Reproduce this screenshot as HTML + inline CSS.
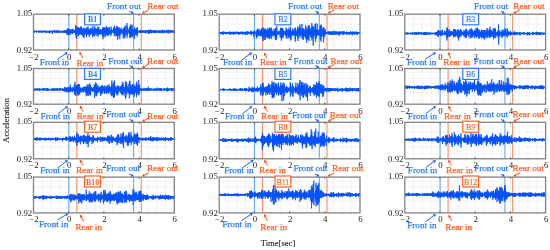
<!DOCTYPE html>
<html><head><meta charset="utf-8"><style>
html,body{margin:0;padding:0;background:#fff;width:550px;height:250px;overflow:hidden}
svg{display:block}
</style></head><body>
<svg width="550" height="250" viewBox="0 0 550 250" font-family="'Liberation Serif', 'DejaVu Serif', serif"><rect x="0" y="0" width="550" height="250" fill="#fff"/>
<line x1="42.30" y1="14.20" x2="42.30" y2="50.00" stroke="#ebebeb" stroke-width="0.7"/>
<line x1="51.10" y1="14.20" x2="51.10" y2="50.00" stroke="#ebebeb" stroke-width="0.7"/>
<line x1="59.90" y1="14.20" x2="59.90" y2="50.00" stroke="#ebebeb" stroke-width="0.7"/>
<line x1="68.70" y1="14.20" x2="68.70" y2="50.00" stroke="#ebebeb" stroke-width="0.7"/>
<line x1="77.50" y1="14.20" x2="77.50" y2="50.00" stroke="#ebebeb" stroke-width="0.7"/>
<line x1="86.30" y1="14.20" x2="86.30" y2="50.00" stroke="#ebebeb" stroke-width="0.7"/>
<line x1="95.10" y1="14.20" x2="95.10" y2="50.00" stroke="#ebebeb" stroke-width="0.7"/>
<line x1="103.90" y1="14.20" x2="103.90" y2="50.00" stroke="#ebebeb" stroke-width="0.7"/>
<line x1="112.70" y1="14.20" x2="112.70" y2="50.00" stroke="#ebebeb" stroke-width="0.7"/>
<line x1="121.50" y1="14.20" x2="121.50" y2="50.00" stroke="#ebebeb" stroke-width="0.7"/>
<line x1="130.30" y1="14.20" x2="130.30" y2="50.00" stroke="#ebebeb" stroke-width="0.7"/>
<line x1="139.10" y1="14.20" x2="139.10" y2="50.00" stroke="#ebebeb" stroke-width="0.7"/>
<line x1="147.90" y1="14.20" x2="147.90" y2="50.00" stroke="#ebebeb" stroke-width="0.7"/>
<line x1="156.70" y1="14.20" x2="156.70" y2="50.00" stroke="#ebebeb" stroke-width="0.7"/>
<line x1="165.50" y1="14.20" x2="165.50" y2="50.00" stroke="#ebebeb" stroke-width="0.7"/>
<line x1="33.50" y1="18.20" x2="174.30" y2="18.20" stroke="#f4f4f4" stroke-width="0.7"/>
<line x1="33.50" y1="24.00" x2="174.30" y2="24.00" stroke="#ebebeb" stroke-width="0.7"/>
<line x1="33.50" y1="38.20" x2="174.30" y2="38.20" stroke="#ebebeb" stroke-width="0.7"/>
<line x1="33.50" y1="45.20" x2="174.30" y2="45.20" stroke="#f4f4f4" stroke-width="0.7"/>
<line x1="68.80" y1="14.20" x2="68.80" y2="50.00" stroke="#6fa8f5" stroke-width="1.15"/>
<line x1="76.80" y1="14.20" x2="76.80" y2="50.00" stroke="#f7946a" stroke-width="1.15"/>
<line x1="133.60" y1="14.20" x2="133.60" y2="50.00" stroke="#6fa8f5" stroke-width="1.15"/>
<line x1="141.30" y1="14.20" x2="141.30" y2="50.00" stroke="#f7946a" stroke-width="1.15"/>
<polyline transform="translate(33.50,31.60) scale(0.140941,0.1)" points="0,-1 1,3 2,-1 3,11 4,-12 5,10 6,-13 7,3 8,-1 9,-1 10,4 11,-5 12,5 13,-2 14,-1 15,-2 16,1 17,0 18,4 19,5 20,-11 21,9 22,0 23,-1 24,0 25,-2 26,4 27,-5 28,1 29,1 30,-2 31,-2 32,2 33,-7 34,5 35,-9 36,7 37,-7 38,-1 39,8 40,-7 41,8 42,2 43,1 44,-4 45,-7 46,8 47,-9 48,5 49,-6 50,4 51,-3 52,2 53,4 54,-4 55,8 56,-8 57,10 58,-10 59,10 60,-7 61,3 62,5 63,-6 64,8 65,-5 66,6 67,-1 68,-3 69,6 70,-8 71,3 72,1 73,-3 74,2 75,-12 76,7 77,-6 78,-4 79,2 80,-3 81,9 82,-8 83,5 84,6 85,-9 86,6 87,-4 88,9 89,0 90,-3 91,7 92,-7 93,8 94,-6 95,2 96,-8 97,9 98,-6 99,6 100,-4 101,8 102,-4 103,-4 104,7 105,-7 106,7 107,-5 108,5 109,-2 110,5 111,-8 112,-1 113,18 114,-12 115,11 116,-11 117,7 118,-5 119,-5 120,7 121,-5 122,3 123,-3 124,3 125,-7 126,-1 127,4 128,-4 129,7 130,-2 131,-8 132,7 133,-5 134,23 135,-4 136,1 137,11 138,-13 139,5 140,1 141,-8 142,4 143,-5 144,4 145,-2 146,1 147,-4 148,7 149,-17 150,8 151,-10 152,-3 153,7 154,-8 155,10 156,-6 157,6 158,-5 159,8 160,-9 161,8 162,-3 163,0 164,7 165,-3 166,-4 167,4 168,-16 169,15 170,-16 171,11 172,-11 173,14 174,-9 175,6 176,-2 177,-3 178,13 179,-12 180,5 181,-4 182,0 183,7 184,-5 185,4 186,-2 187,-4 188,7 189,-4 190,-6 191,13 192,-10 193,3 194,2 195,-4 196,5 197,-4 198,5 199,-4 200,-6 201,10 202,-1 203,-4 204,8 205,-5 206,7 207,-8 208,5 209,-5 210,7 211,-8 212,10 213,-3 214,-10 215,6 216,-6 217,10 218,-8 219,9 220,-12 221,8 222,-9 223,8 224,-8 225,-1 226,11 227,-11 228,0 229,8 230,-10 231,8 232,-11 233,8 234,-8 235,9 236,-11 237,30 238,-19 239,-5 240,23 241,-24 242,31 243,-33 244,29 245,-7 246,-30 247,27 248,-3 249,-8 250,15 251,-23 252,39 253,-14 254,-21 255,15 256,-11 257,8 258,-2 259,8 260,-11 261,21 262,-14 263,-18 264,29 265,-27 266,12 267,-21 268,12 269,-9 270,-12 271,14 272,-8 273,5 274,4 275,-19 276,24 277,-20 278,10 279,-21 280,13 281,0 282,-27 283,14 284,3 285,1 286,5 287,-8 288,8 289,-8 290,2 291,-4 292,-17 293,16 294,-5 295,9 296,-13 297,-14 298,34 299,-67 300,32 301,9 302,-57 303,62 304,-13 305,-11 306,74 307,-39 308,22 309,15 310,-29 311,23 312,-42 313,-1 314,1 315,-4 316,27 317,-48 318,47 319,-20 320,16 321,-33 322,8 323,-39 324,32 325,-4 326,-15 327,22 328,-25 329,30 330,-37 331,12 332,-24 333,-24 334,23 335,-51 336,27 337,-49 338,2 339,1 340,-43 341,31 342,-25 343,16 344,-14 345,2 346,-3 347,-26 348,44 349,-25 350,-4 351,-5 352,-36 353,49 354,-29 355,3 356,1 357,-26 358,65 359,-41 360,14 361,12 362,-9 363,35 364,-20 365,-7 366,1 367,-16 368,20 369,-10 370,-2 371,7 372,-34 373,23 374,-29 375,-4 376,55 377,-41 378,17 379,-23 380,7 381,-9 382,15 383,-4 384,-6 385,23 386,-50 387,35 388,-38 389,20 390,-25 391,-3 392,13 393,-12 394,25 395,-20 396,55 397,-9 398,16 399,-1 400,-24 401,30 402,-2 403,33 404,-37 405,25 406,-18 407,6 408,0 409,3 410,-8 411,5 412,-11 413,15 414,-37 415,-20 416,24 417,-20 418,35 419,-28 420,58 421,-58 422,16 423,29 424,-13 425,-6 426,40 427,-19 428,15 429,1 430,-22 431,47 432,-40 433,-10 434,42 435,-52 436,17 437,-13 438,14 439,24 440,-32 441,28 442,-14 443,8 444,-22 445,14 446,-29 447,-3 448,10 449,-17 450,41 451,-27 452,4 453,24 454,-26 455,19 456,-51 457,51 458,-22 459,-2 460,9 461,-34 462,35 463,-46 464,24 465,-19 466,-8 467,18 468,-10 469,2 470,26 471,-20 472,10 473,-3 474,-10 475,29 476,-21 477,20 478,-13 479,3 480,-10 481,19 482,-11 483,0 484,-10 485,-22 486,28 487,-17 488,16 489,-5 490,3 491,44 492,-39 493,77 494,-44 495,52 496,-37 497,38 498,-20 499,-3 500,13 501,-11 502,8 503,-18 504,14 505,-44 506,56 507,-34 508,-13 509,23 510,-40 511,46 512,-27 513,12 514,35 515,-27 516,27 517,17 518,-57 519,35 520,-23 521,8 522,-7 523,0 524,-4 525,-38 526,44 527,-21 528,-28 529,37 530,-41 531,33 532,-28 533,6 534,36 535,-34 536,25 537,12 538,-46 539,25 540,1 541,10 542,16 543,-11 544,26 545,-10 546,14 547,-9 548,16 549,-21 550,45 551,-50 552,21 553,-6 554,-20 555,8 556,-11 557,-3 558,-1 559,0 560,4 561,-4 562,8 563,-17 564,12 565,-19 566,4 567,7 568,-39 569,15 570,-39 571,11 572,-18 573,46 574,-58 575,-17 576,16 577,-38 578,16 579,-28 580,13 581,-15 582,-12 583,33 584,-34 585,47 586,-26 587,2 588,4 589,-27 590,44 591,-55 592,40 593,-46 594,38 595,0 596,-52 597,82 598,-46 599,51 600,-34 601,9 602,15 603,-26 604,28 605,-18 606,5 607,39 608,-44 609,35 610,32 611,-17 612,75 613,-27 614,5 615,31 616,-20 617,8 618,4 619,-24 620,29 621,-39 622,13 623,-9 624,-9 625,9 626,-13 627,14 628,-15 629,13 630,-1 631,-10 632,21 633,-19 634,22 635,-2 636,-29 637,67 638,-38 639,53 640,-11 641,-3 642,13 643,-30 644,25 645,-10 646,-46 647,69 648,-45 649,48 650,-62 651,38 652,-27 653,-4 654,-17 655,-13 656,-6 657,-6 658,-2 659,-3 660,3 661,0 662,28 663,-85 664,62 665,-51 666,33 667,-6 668,-7 669,8 670,-24 671,6 672,-11 673,13 674,0 675,-9 676,5 677,-7 678,15 679,-29 680,23 681,-47 682,21 683,63 684,-30 685,18 686,15 687,-61 688,55 689,-60 690,34 691,-9 692,-72 693,59 694,-15 695,26 696,-29 697,33 698,-13 699,27 700,39 701,-67 702,52 703,-25 704,22 705,24 706,-14 707,37 708,-11 709,11 710,-18 711,19 712,-19 713,8 714,6 715,7 716,75 717,-43 718,32 719,-26 720,37 721,-24 722,16 723,10 724,-15 725,-7 726,-11 727,22 728,-32 729,35 730,-7 731,-19 732,12 733,-18 734,31 735,-36 736,49 737,-44 738,17 739,6 740,-3 741,3 742,-7 743,8 744,-2 745,0 746,10 747,-7 748,4 749,1 750,1 751,4 752,-15 753,8 754,-12 755,11 756,-10 757,8 758,10 759,-16 760,12 761,-6 762,13 763,-6 764,3 765,-11 766,1 767,14 768,-11 769,3 770,-2 771,-3 772,7 773,-7 774,8 775,-9 776,5 777,-7 778,-7 779,1 780,-8 781,12 782,-11 783,7 784,-3 785,-8 786,8 787,-7 788,7 789,-6 790,-6 791,11 792,-14 793,14 794,-2 795,0 796,13 797,-11 798,17 799,-12 800,8 801,-9 802,10 803,2 804,-1 805,1 806,3 807,2 808,-4 809,8 810,-13 811,0 812,5 813,-16 814,20 815,-17 816,16 817,3 818,0 819,-1 820,-4 821,7 822,-13 823,22 824,-3 825,9 826,-8 827,-12 828,14 829,-24 830,9 831,-16 832,9 833,-6 834,3 835,-6 836,-6 837,16 838,-16 839,13 840,6 841,-9 842,7 843,-7 844,6 845,-7 846,6 847,-1 848,-10 849,13 850,-9 851,13 852,-9 853,7 854,-7 855,6 856,-4 857,-13 858,17 859,-8 860,-10 861,14 862,-16 863,14 864,-12 865,-4 866,1 867,0 868,7 869,-7 870,1 871,4 872,-9 873,12 874,0 875,-8 876,5 877,-6 878,5 879,-7 880,11 881,-1 882,-8 883,9 884,-8 885,4 886,-8 887,6 888,-7 889,9 890,0 891,-6 892,3 893,1 894,14 895,-12 896,-7 897,17 898,-11 899,9 900,-11 901,8 902,-3 903,2 904,-4 905,4 906,4 907,-7 908,12 909,-9 910,8 911,-5 912,0 913,8 914,-14 915,16 916,-19 917,8 918,15 919,-12 920,-1 921,5 922,-3 923,12 924,-9 925,-8 926,1 927,-4 928,15 929,-14 930,7 931,-9 932,11 933,-11 934,2 935,-3 936,3 937,-5 938,-4 939,7 940,-6 941,4 942,0 943,-4 944,3 945,-9 946,15 947,-17 948,5 949,-1 950,-3 951,5 952,0 953,6 954,-19 955,18 956,-7 957,6 958,-11 959,-4 960,1 961,-18 962,16 963,-6 964,4 965,1 966,-6 967,5 968,-6 969,4 970,2 971,-15 972,15 973,-11 974,3 975,-1 976,-4 977,9 978,-13 979,5 980,1 981,-6 982,6 983,-7 984,6 985,-6 986,0 987,3 988,-13 989,7 990,8 991,-11 992,12 993,-13 994,12 995,-1 996,-1 997,9 998,-14 999,11" fill="none" stroke="#0552f8" stroke-width="0.8" vector-effect="non-scaling-stroke" stroke-linejoin="round"/>
<rect x="33.50" y="14.20" width="140.80" height="35.80" fill="none" stroke="#838383" stroke-width="1.3"/>
<line x1="68.70" y1="14.20" x2="68.70" y2="15.80" stroke="#444" stroke-width="0.8"/>
<line x1="68.70" y1="50.00" x2="68.70" y2="48.40" stroke="#444" stroke-width="0.8"/>
<line x1="103.90" y1="14.20" x2="103.90" y2="15.80" stroke="#444" stroke-width="0.8"/>
<line x1="103.90" y1="50.00" x2="103.90" y2="48.40" stroke="#444" stroke-width="0.8"/>
<line x1="139.10" y1="14.20" x2="139.10" y2="15.80" stroke="#444" stroke-width="0.8"/>
<line x1="139.10" y1="50.00" x2="139.10" y2="48.40" stroke="#444" stroke-width="0.8"/>
<text x="32.20" y="16.20" text-anchor="end" font-size="8.8" fill="#242424" class="ns">1.05</text>
<text x="32.20" y="52.90" text-anchor="end" font-size="8.8" fill="#242424" class="ns">0.92</text>
<text x="34.00" y="59.50" text-anchor="middle" font-size="8.8" fill="#242424" class="ns">−2</text>
<text x="69.20" y="59.50" text-anchor="middle" font-size="8.8" fill="#242424" class="ns">0</text>
<text x="104.40" y="59.50" text-anchor="middle" font-size="8.8" fill="#242424" class="ns">2</text>
<text x="139.60" y="59.50" text-anchor="middle" font-size="8.8" fill="#242424" class="ns">4</text>
<text x="174.80" y="59.50" text-anchor="middle" font-size="8.8" fill="#242424" class="ns">6</text>
<rect x="84.60" y="13.80" width="15.8" height="11.0" fill="#fff" stroke="#2d7cf6" stroke-width="1.2"/>
<text x="92.50" y="22.40" text-anchor="middle" font-size="7.9" font-weight="bold" class="ns" fill="#2d7cf6">B1</text>
<line x1="228.00" y1="14.20" x2="228.00" y2="50.00" stroke="#ebebeb" stroke-width="0.7"/>
<line x1="236.80" y1="14.20" x2="236.80" y2="50.00" stroke="#ebebeb" stroke-width="0.7"/>
<line x1="245.60" y1="14.20" x2="245.60" y2="50.00" stroke="#ebebeb" stroke-width="0.7"/>
<line x1="254.40" y1="14.20" x2="254.40" y2="50.00" stroke="#ebebeb" stroke-width="0.7"/>
<line x1="263.20" y1="14.20" x2="263.20" y2="50.00" stroke="#ebebeb" stroke-width="0.7"/>
<line x1="272.00" y1="14.20" x2="272.00" y2="50.00" stroke="#ebebeb" stroke-width="0.7"/>
<line x1="280.80" y1="14.20" x2="280.80" y2="50.00" stroke="#ebebeb" stroke-width="0.7"/>
<line x1="289.60" y1="14.20" x2="289.60" y2="50.00" stroke="#ebebeb" stroke-width="0.7"/>
<line x1="298.40" y1="14.20" x2="298.40" y2="50.00" stroke="#ebebeb" stroke-width="0.7"/>
<line x1="307.20" y1="14.20" x2="307.20" y2="50.00" stroke="#ebebeb" stroke-width="0.7"/>
<line x1="316.00" y1="14.20" x2="316.00" y2="50.00" stroke="#ebebeb" stroke-width="0.7"/>
<line x1="324.80" y1="14.20" x2="324.80" y2="50.00" stroke="#ebebeb" stroke-width="0.7"/>
<line x1="333.60" y1="14.20" x2="333.60" y2="50.00" stroke="#ebebeb" stroke-width="0.7"/>
<line x1="342.40" y1="14.20" x2="342.40" y2="50.00" stroke="#ebebeb" stroke-width="0.7"/>
<line x1="351.20" y1="14.20" x2="351.20" y2="50.00" stroke="#ebebeb" stroke-width="0.7"/>
<line x1="219.20" y1="18.20" x2="360.00" y2="18.20" stroke="#f4f4f4" stroke-width="0.7"/>
<line x1="219.20" y1="24.00" x2="360.00" y2="24.00" stroke="#ebebeb" stroke-width="0.7"/>
<line x1="219.20" y1="38.20" x2="360.00" y2="38.20" stroke="#ebebeb" stroke-width="0.7"/>
<line x1="219.20" y1="45.20" x2="360.00" y2="45.20" stroke="#f4f4f4" stroke-width="0.7"/>
<line x1="254.50" y1="14.20" x2="254.50" y2="50.00" stroke="#6fa8f5" stroke-width="1.15"/>
<line x1="262.50" y1="14.20" x2="262.50" y2="50.00" stroke="#f7946a" stroke-width="1.15"/>
<line x1="319.30" y1="14.20" x2="319.30" y2="50.00" stroke="#6fa8f5" stroke-width="1.15"/>
<line x1="327.00" y1="14.20" x2="327.00" y2="50.00" stroke="#f7946a" stroke-width="1.15"/>
<polyline transform="translate(219.20,33.00) scale(0.140941,0.1)" points="0,-6 1,10 2,-13 3,6 4,1 5,-10 6,5 7,-7 8,11 9,-1 10,5 11,2 12,-10 13,6 14,-6 15,3 16,-5 17,7 18,1 19,-5 20,7 21,-6 22,13 23,-11 24,9 25,4 26,-12 27,16 28,-16 29,14 30,-7 31,4 32,-6 33,0 34,-2 35,2 36,-1 37,-1 38,0 39,-6 40,9 41,-13 42,10 43,-7 44,6 45,-6 46,7 47,-5 48,0 49,6 50,-9 51,13 52,-8 53,11 54,-5 55,5 56,-3 57,6 58,1 59,-1 60,6 61,-9 62,4 63,-5 64,-5 65,9 66,-5 67,2 68,1 69,-4 70,5 71,-7 72,8 73,-13 74,10 75,-3 76,-13 77,16 78,-11 79,15 80,1 81,0 82,0 83,-4 84,2 85,-8 86,5 87,-3 88,13 89,-7 90,5 91,-10 92,12 93,-13 94,9 95,-4 96,1 97,-5 98,4 99,1 100,-8 101,14 102,-10 103,-4 104,17 105,-12 106,11 107,-12 108,-5 109,4 110,0 111,0 112,-8 113,7 114,-5 115,7 116,-12 117,12 118,4 119,-9 120,9 121,-6 122,-3 123,6 124,-6 125,7 126,-13 127,7 128,-12 129,0 130,5 131,-8 132,3 133,-3 134,5 135,-5 136,3 137,14 138,-11 139,17 140,-6 141,3 142,4 143,-4 144,12 145,-5 146,0 147,6 148,-8 149,4 150,-9 151,6 152,5 153,-11 154,12 155,-15 156,3 157,5 158,-1 159,-1 160,-8 161,9 162,-7 163,5 164,16 165,-10 166,12 167,-14 168,5 169,-4 170,-7 171,10 172,-10 173,1 174,-6 175,-4 176,6 177,-6 178,8 179,-7 180,-4 181,11 182,-10 183,16 184,-11 185,-3 186,19 187,-9 188,13 189,-15 190,14 191,-9 192,-5 193,11 194,-12 195,8 196,-10 197,0 198,-3 199,-6 200,16 201,-12 202,18 203,-18 204,9 205,-15 206,9 207,-3 208,2 209,2 210,-8 211,6 212,-6 213,6 214,3 215,-4 216,6 217,-9 218,-1 219,3 220,-1 221,-1 222,-4 223,11 224,-17 225,12 226,-23 227,23 228,-14 229,12 230,-10 231,0 232,6 233,-11 234,2 235,3 236,-8 237,5 238,-12 239,8 240,-11 241,4 242,-12 243,15 244,3 245,-12 246,44 247,-10 248,13 249,-27 250,2 251,13 252,-16 253,6 254,-5 255,-3 256,3 257,0 258,-4 259,1 260,-2 261,-2 262,28 263,-24 264,56 265,0 266,-10 267,6 268,-11 269,18 270,-36 271,40 272,-36 273,6 274,-2 275,-42 276,27 277,-20 278,18 279,-20 280,26 281,11 282,-41 283,30 284,-12 285,8 286,-14 287,4 288,1 289,-16 290,10 291,-25 292,-14 293,24 294,-22 295,30 296,-26 297,34 298,-1 299,-48 300,28 301,-33 302,29 303,-14 304,26 305,-32 306,-11 307,45 308,-14 309,60 310,-46 311,-57 312,80 313,-33 314,24 315,-45 316,11 317,-20 318,-3 319,-40 320,15 321,-31 322,20 323,-45 324,67 325,-22 326,70 327,-41 328,-1 329,19 330,-5 331,5 332,-31 333,40 334,-34 335,45 336,-20 337,8 338,-21 339,10 340,-11 341,11 342,-8 343,-22 344,41 345,-52 346,52 347,-41 348,53 349,-28 350,29 351,-13 352,14 353,-29 354,47 355,-13 356,-18 357,44 358,-55 359,61 360,-37 361,-33 362,18 363,-50 364,28 365,-4 366,11 367,-2 368,-27 369,43 370,-53 371,56 372,10 373,-36 374,40 375,-10 376,-7 377,14 378,-12 379,18 380,-14 381,18 382,0 383,-18 384,21 385,-17 386,15 387,-12 388,32 389,-42 390,23 391,4 392,-19 393,23 394,-12 395,-2 396,10 397,-33 398,56 399,-37 400,-51 401,72 402,-33 403,29 404,-40 405,68 406,-10 407,-8 408,51 409,-69 410,14 411,-8 412,-10 413,6 414,-8 415,12 416,-11 417,20 418,-17 419,12 420,-15 421,-1 422,0 423,-6 424,3 425,-16 426,14 427,-12 428,-5 429,10 430,-18 431,10 432,39 433,-38 434,21 435,-1 436,-29 437,31 438,-54 439,57 440,-49 441,-10 442,77 443,-46 444,32 445,8 446,-47 447,51 448,-44 449,1 450,13 451,-49 452,50 453,-31 454,40 455,-29 456,14 457,13 458,-22 459,22 460,-15 461,5 462,8 463,-11 464,5 465,-12 466,7 467,11 468,-20 469,24 470,-15 471,10 472,-10 473,5 474,29 475,-54 476,55 477,-15 478,-39 479,52 480,-42 481,21 482,3 483,-25 484,19 485,-5 486,3 487,9 488,-28 489,56 490,-30 491,26 492,-10 493,-23 494,16 495,-54 496,44 497,-30 498,42 499,-21 500,25 501,-33 502,18 503,-8 504,22 505,45 506,-62 507,75 508,-23 509,2 510,63 511,-22 512,5 513,12 514,-9 515,14 516,0 517,7 518,7 519,-13 520,24 521,-46 522,27 523,-36 524,23 525,-7 526,-9 527,14 528,-14 529,23 530,-19 531,13 532,-7 533,16 534,16 535,-44 536,20 537,25 538,-42 539,86 540,-56 541,59 542,27 543,-18 544,23 545,-34 546,18 547,15 548,-10 549,24 550,-10 551,14 552,-17 553,33 554,-11 555,-3 556,40 557,-65 558,80 559,-51 560,52 561,-42 562,14 563,7 564,0 565,19 566,-45 567,3 568,-1 569,-14 570,31 571,-56 572,18 573,-86 574,45 575,-54 576,15 577,-17 578,-7 579,20 580,-20 581,13 582,-5 583,-36 584,26 585,-9 586,-19 587,-91 588,57 589,60 590,-34 591,28 592,-50 593,50 594,57 595,-47 596,69 597,30 598,-35 599,38 600,21 601,-42 602,35 603,-22 604,34 605,-10 606,-2 607,9 608,-19 609,27 610,-39 611,14 612,43 613,-77 614,61 615,-37 616,31 617,-57 618,37 619,-24 620,98 621,-27 622,-27 623,56 624,-28 625,23 626,-5 627,-25 628,26 629,-49 630,70 631,-72 632,61 633,-26 634,-1 635,32 636,-75 637,79 638,-75 639,-25 640,-2 641,-5 642,10 643,-34 644,23 645,-52 646,13 647,0 648,-30 649,25 650,-21 651,45 652,-20 653,18 654,-43 655,-17 656,49 657,-100 658,75 659,-45 660,18 661,51 662,-70 663,36 664,-32 665,28 666,-57 667,127 668,-30 669,40 670,-6 671,-64 672,29 673,-44 674,19 675,3 676,-28 677,21 678,-30 679,10 680,-87 681,57 682,62 683,-96 684,88 685,-42 686,-20 687,32 688,-38 689,53 690,-30 691,21 692,1 693,-3 694,25 695,-94 696,16 697,-1 698,-15 699,10 700,-38 701,13 702,-19 703,25 704,-18 705,17 706,-28 707,21 708,-17 709,19 710,-13 711,-15 712,25 713,-25 714,19 715,3 716,-72 717,71 718,-71 719,33 720,22 721,-18 722,85 723,-85 724,27 725,-78 726,43 727,-61 728,20 729,17 730,-17 731,14 732,-44 733,32 734,-29 735,15 736,2 737,-22 738,26 739,-45 740,94 741,-59 742,55 743,-53 744,31 745,-9 746,-6 747,25 748,-15 749,36 750,-24 751,17 752,-39 753,12 754,-16 755,3 756,0 757,-10 758,8 759,-11 760,-1 761,10 762,-6 763,-1 764,4 765,-10 766,2 767,-3 768,1 769,-3 770,4 771,5 772,-15 773,12 774,-6 775,-14 776,13 777,-10 778,10 779,-2 780,-5 781,3 782,-14 783,16 784,-19 785,-6 786,13 787,-12 788,14 789,-9 790,14 791,2 792,-13 793,12 794,-9 795,8 796,-5 797,-6 798,11 799,-17 800,21 801,-11 802,15 803,13 804,-14 805,13 806,-18 807,9 808,7 809,-13 810,2 811,2 812,3 813,19 814,-10 815,15 816,-23 817,5 818,7 819,-5 820,7 821,-4 822,15 823,-10 824,5 825,11 826,-14 827,15 828,-18 829,17 830,-4 831,-14 832,13 833,-7 834,1 835,4 836,-3 837,12 838,-14 839,13 840,-10 841,12 842,2 843,-9 844,7 845,-10 846,-5 847,8 848,-11 849,24 850,-16 851,14 852,0 853,-13 854,24 855,-10 856,5 857,2 858,-4 859,6 860,-8 861,13 862,-14 863,2 864,2 865,-15 866,8 867,-11 868,3 869,3 870,-8 871,8 872,-6 873,-3 874,-4 875,-3 876,15 877,-16 878,17 879,-16 880,14 881,-14 882,9 883,-10 884,7 885,16 886,-9 887,-2 888,5 889,-15 890,10 891,-10 892,-9 893,4 894,0 895,-6 896,-3 897,9 898,-5 899,8 900,-10 901,2 902,11 903,-15 904,19 905,-8 906,7 907,-5 908,1 909,-5 910,-2 911,8 912,-10 913,15 914,-10 915,11 916,-8 917,-8 918,9 919,-9 920,12 921,-10 922,15 923,-5 924,-1 925,-3 926,-9 927,15 928,-8 929,-10 930,5 931,-17 932,6 933,-7 934,-6 935,12 936,-9 937,10 938,-8 939,8 940,-11 941,1 942,18 943,-14 944,11 945,-9 946,23 947,-13 948,10 949,-4 950,5 951,-6 952,4 953,-4 954,0 955,4 956,-1 957,13 958,-13 959,17 960,-7 961,9 962,-9 963,4 964,12 965,-14 966,11 967,-1 968,0 969,0 970,-5 971,7 972,-5 973,10 974,-14 975,13 976,-4 977,-8 978,17 979,-12 980,16 981,-9 982,-3 983,3 984,-3 985,8 986,-9 987,5 988,-1 989,-3 990,3 991,-7 992,11 993,-7 994,10 995,-9 996,5 997,-7 998,4 999,1" fill="none" stroke="#0552f8" stroke-width="0.8" vector-effect="non-scaling-stroke" stroke-linejoin="round"/>
<rect x="219.20" y="14.20" width="140.80" height="35.80" fill="none" stroke="#838383" stroke-width="1.3"/>
<line x1="254.40" y1="14.20" x2="254.40" y2="15.80" stroke="#444" stroke-width="0.8"/>
<line x1="254.40" y1="50.00" x2="254.40" y2="48.40" stroke="#444" stroke-width="0.8"/>
<line x1="289.60" y1="14.20" x2="289.60" y2="15.80" stroke="#444" stroke-width="0.8"/>
<line x1="289.60" y1="50.00" x2="289.60" y2="48.40" stroke="#444" stroke-width="0.8"/>
<line x1="324.80" y1="14.20" x2="324.80" y2="15.80" stroke="#444" stroke-width="0.8"/>
<line x1="324.80" y1="50.00" x2="324.80" y2="48.40" stroke="#444" stroke-width="0.8"/>
<text x="217.90" y="16.20" text-anchor="end" font-size="8.8" fill="#242424" class="ns">1.05</text>
<text x="217.90" y="52.90" text-anchor="end" font-size="8.8" fill="#242424" class="ns">0.92</text>
<text x="219.70" y="59.50" text-anchor="middle" font-size="8.8" fill="#242424" class="ns">−2</text>
<text x="254.90" y="59.50" text-anchor="middle" font-size="8.8" fill="#242424" class="ns">0</text>
<text x="290.10" y="59.50" text-anchor="middle" font-size="8.8" fill="#242424" class="ns">2</text>
<text x="325.30" y="59.50" text-anchor="middle" font-size="8.8" fill="#242424" class="ns">4</text>
<text x="360.50" y="59.50" text-anchor="middle" font-size="8.8" fill="#242424" class="ns">6</text>
<rect x="275.00" y="13.80" width="15.8" height="11.0" fill="#fff" stroke="#2d7cf6" stroke-width="1.2"/>
<text x="282.90" y="22.40" text-anchor="middle" font-size="7.9" stroke-width="0.15" stroke="#2d7cf6" class="ns" fill="#2d7cf6">B2</text>
<line x1="413.60" y1="14.20" x2="413.60" y2="50.00" stroke="#ebebeb" stroke-width="0.7"/>
<line x1="422.40" y1="14.20" x2="422.40" y2="50.00" stroke="#ebebeb" stroke-width="0.7"/>
<line x1="431.20" y1="14.20" x2="431.20" y2="50.00" stroke="#ebebeb" stroke-width="0.7"/>
<line x1="440.00" y1="14.20" x2="440.00" y2="50.00" stroke="#ebebeb" stroke-width="0.7"/>
<line x1="448.80" y1="14.20" x2="448.80" y2="50.00" stroke="#ebebeb" stroke-width="0.7"/>
<line x1="457.60" y1="14.20" x2="457.60" y2="50.00" stroke="#ebebeb" stroke-width="0.7"/>
<line x1="466.40" y1="14.20" x2="466.40" y2="50.00" stroke="#ebebeb" stroke-width="0.7"/>
<line x1="475.20" y1="14.20" x2="475.20" y2="50.00" stroke="#ebebeb" stroke-width="0.7"/>
<line x1="484.00" y1="14.20" x2="484.00" y2="50.00" stroke="#ebebeb" stroke-width="0.7"/>
<line x1="492.80" y1="14.20" x2="492.80" y2="50.00" stroke="#ebebeb" stroke-width="0.7"/>
<line x1="501.60" y1="14.20" x2="501.60" y2="50.00" stroke="#ebebeb" stroke-width="0.7"/>
<line x1="510.40" y1="14.20" x2="510.40" y2="50.00" stroke="#ebebeb" stroke-width="0.7"/>
<line x1="519.20" y1="14.20" x2="519.20" y2="50.00" stroke="#ebebeb" stroke-width="0.7"/>
<line x1="528.00" y1="14.20" x2="528.00" y2="50.00" stroke="#ebebeb" stroke-width="0.7"/>
<line x1="536.80" y1="14.20" x2="536.80" y2="50.00" stroke="#ebebeb" stroke-width="0.7"/>
<line x1="404.80" y1="18.20" x2="545.60" y2="18.20" stroke="#f4f4f4" stroke-width="0.7"/>
<line x1="404.80" y1="24.00" x2="545.60" y2="24.00" stroke="#ebebeb" stroke-width="0.7"/>
<line x1="404.80" y1="38.20" x2="545.60" y2="38.20" stroke="#ebebeb" stroke-width="0.7"/>
<line x1="404.80" y1="45.20" x2="545.60" y2="45.20" stroke="#f4f4f4" stroke-width="0.7"/>
<line x1="440.10" y1="14.20" x2="440.10" y2="50.00" stroke="#6fa8f5" stroke-width="1.15"/>
<line x1="448.10" y1="14.20" x2="448.10" y2="50.00" stroke="#f7946a" stroke-width="1.15"/>
<line x1="504.90" y1="14.20" x2="504.90" y2="50.00" stroke="#6fa8f5" stroke-width="1.15"/>
<line x1="512.60" y1="14.20" x2="512.60" y2="50.00" stroke="#f7946a" stroke-width="1.15"/>
<polyline transform="translate(404.80,33.50) scale(0.140941,0.1)" points="0,-4 1,11 2,-11 3,8 4,-7 5,3 6,-1 7,3 8,-4 9,3 10,0 11,-6 12,4 13,-8 14,6 15,-11 16,13 17,-5 18,-2 19,5 20,-3 21,4 22,-9 23,9 24,-6 25,-4 26,5 27,-3 28,3 29,-4 30,5 31,-6 32,6 33,-1 34,0 35,-2 36,2 37,5 38,-6 39,6 40,-8 41,9 42,-7 43,3 44,4 45,0 46,-2 47,-2 48,2 49,-5 50,5 51,-8 52,11 53,-7 54,10 55,-8 56,7 57,-6 58,0 59,4 60,-6 61,6 62,-11 63,6 64,0 65,-4 66,6 67,-5 68,-9 69,5 70,-4 71,12 72,-12 73,6 74,-1 75,-7 76,8 77,-10 78,9 79,3 80,-15 81,15 82,-11 83,8 84,-6 85,4 86,-1 87,2 88,7 89,-5 90,3 91,-1 92,5 93,7 94,-16 95,12 96,-17 97,9 98,-13 99,6 100,-14 101,-1 102,1 103,-8 104,6 105,-8 106,3 107,-6 108,6 109,-1 110,-4 111,3 112,-11 113,9 114,4 115,-3 116,2 117,-7 118,9 119,-15 120,8 121,-3 122,0 123,8 124,-4 125,4 126,0 127,-1 128,3 129,-3 130,11 131,-9 132,5 133,-11 134,2 135,12 136,-9 137,10 138,-7 139,9 140,-11 141,1 142,10 143,-14 144,17 145,-12 146,7 147,2 148,-11 149,12 150,-14 151,12 152,-5 153,7 154,4 155,-7 156,7 157,-14 158,5 159,8 160,-9 161,9 162,-5 163,4 164,0 165,2 166,0 167,-5 168,3 169,2 170,11 171,-13 172,13 173,-6 174,2 175,-2 176,7 177,-5 178,-3 179,6 180,-7 181,4 182,-9 183,4 184,6 185,-8 186,8 187,-6 188,2 189,-1 190,-1 191,4 192,-4 193,7 194,-6 195,-7 196,7 197,-6 198,1 199,-1 200,-1 201,3 202,-3 203,6 204,-8 205,3 206,0 207,-2 208,3 209,-4 210,2 211,0 212,10 213,-4 214,7 215,-10 216,0 217,13 218,-13 219,16 220,-12 221,19 222,-16 223,14 224,-10 225,8 226,-6 227,13 228,-13 229,15 230,-12 231,-2 232,-1 233,-13 234,31 235,-34 236,17 237,-30 238,30 239,-20 240,-3 241,-5 242,10 243,16 244,-28 245,11 246,-17 247,11 248,-19 249,11 250,-7 251,-1 252,2 253,-10 254,7 255,-27 256,27 257,-12 258,12 259,-5 260,-12 261,7 262,-8 263,22 264,-31 265,20 266,-38 267,-4 268,-1 269,3 270,0 271,-1 272,9 273,-7 274,0 275,8 276,-4 277,3 278,-1 279,-9 280,14 281,-29 282,6 283,9 284,-7 285,9 286,-11 287,19 288,-13 289,-9 290,12 291,-20 292,7 293,5 294,-20 295,16 296,-16 297,-10 298,69 299,-62 300,47 301,-31 302,41 303,-55 304,29 305,-17 306,9 307,-13 308,4 309,9 310,-8 311,16 312,-20 313,26 314,-33 315,36 316,-44 317,8 318,29 319,-24 320,23 321,5 322,-28 323,28 324,1 325,-25 326,24 327,-17 328,3 329,-12 330,-10 331,18 332,-21 333,5 334,-3 335,-10 336,10 337,-18 338,15 339,-6 340,6 341,-16 342,7 343,2 344,-35 345,30 346,-41 347,38 348,-15 349,-22 350,7 351,-25 352,29 353,-46 354,18 355,32 356,-43 357,0 358,17 359,-36 360,29 361,-32 362,24 363,17 364,-9 365,22 366,-15 367,23 368,-14 369,6 370,18 371,-33 372,15 373,-37 374,38 375,-42 376,18 377,21 378,-35 379,43 380,-26 381,-37 382,70 383,25 384,-9 385,18 386,-32 387,34 388,-27 389,-16 390,8 391,-17 392,38 393,-23 394,-8 395,19 396,-46 397,20 398,-31 399,29 400,-33 401,-8 402,8 403,-6 404,12 405,-9 406,12 407,-19 408,2 409,9 410,-16 411,8 412,-9 413,14 414,-5 415,3 416,10 417,-10 418,19 419,6 420,-36 421,35 422,-24 423,10 424,-15 425,7 426,-6 427,32 428,19 429,-30 430,41 431,6 432,-9 433,39 434,-41 435,46 436,-48 437,11 438,11 439,-35 440,21 441,-21 442,6 443,-11 444,10 445,-5 446,11 447,1 448,-2 449,14 450,-32 451,32 452,-16 453,7 454,2 455,-5 456,4 457,-17 458,3 459,-5 460,-2 461,3 462,-41 463,49 464,-41 465,-19 466,35 467,-16 468,30 469,-28 470,-24 471,15 472,-53 473,44 474,1 475,8 476,12 477,-46 478,42 479,12 480,-11 481,31 482,-27 483,21 484,11 485,-11 486,3 487,-9 488,20 489,-22 490,11 491,-9 492,-20 493,30 494,-17 495,46 496,-37 497,38 498,-22 499,-7 500,11 501,-24 502,24 503,-16 504,-5 505,11 506,-55 507,40 508,-45 509,8 510,-3 511,-49 512,36 513,-15 514,21 515,-60 516,8 517,-15 518,-7 519,20 520,-44 521,19 522,-13 523,19 524,-17 525,50 526,-13 527,-38 528,51 529,-29 530,34 531,-14 532,6 533,-14 534,21 535,-8 536,8 537,9 538,-19 539,37 540,0 541,-4 542,21 543,-40 544,47 545,-18 546,41 547,-30 548,-14 549,13 550,-17 551,24 552,-15 553,34 554,-35 555,-4 556,45 557,-23 558,47 559,9 560,-28 561,37 562,-23 563,48 564,10 565,-33 566,61 567,-6 568,-32 569,47 570,-27 571,9 572,-11 573,5 574,16 575,-33 576,23 577,0 578,-24 579,16 580,0 581,-7 582,46 583,-54 584,15 585,22 586,-14 587,36 588,-9 589,-46 590,37 591,-17 592,-3 593,10 594,-7 595,17 596,-25 597,4 598,17 599,-35 600,45 601,-11 602,-39 603,37 604,-69 605,28 606,-40 607,40 608,17 609,-11 610,11 611,-25 612,19 613,-27 614,9 615,19 616,-34 617,33 618,-11 619,3 620,5 621,-1 622,-6 623,-14 624,24 625,-23 626,34 627,-16 628,-51 629,56 630,-38 631,17 632,4 633,-5 634,-1 635,-10 636,25 637,-54 638,44 639,-56 640,35 641,-13 642,5 643,23 644,-45 645,46 646,-15 647,25 648,-12 649,8 650,-11 651,16 652,-11 653,0 654,21 655,-19 656,-4 657,5 658,3 659,21 660,-9 661,7 662,-31 663,44 664,-18 665,-91 666,112 667,-33 668,25 669,-14 670,18 671,-21 672,-9 673,15 674,-29 675,33 676,-14 677,12 678,-6 679,10 680,-2 681,-7 682,7 683,-12 684,11 685,-6 686,6 687,-13 688,-13 689,42 690,-37 691,30 692,-35 693,20 694,-12 695,29 696,-11 697,-6 698,19 699,-1 700,-17 701,21 702,8 703,-39 704,28 705,-5 706,12 707,-8 708,14 709,-21 710,14 711,-52 712,14 713,10 714,-32 715,15 716,-18 717,27 718,-17 719,13 720,-2 721,8 722,11 723,-13 724,31 725,-51 726,8 727,41 728,-41 729,6 730,10 731,-17 732,11 733,-8 734,12 735,12 736,-19 737,21 738,-19 739,13 740,-14 741,7 742,-14 743,11 744,-6 745,3 746,13 747,-6 748,14 749,-27 750,21 751,-6 752,-11 753,15 754,-5 755,5 756,-14 757,15 758,4 759,-6 760,14 761,-11 762,2 763,-5 764,-3 765,4 766,-6 767,4 768,-4 769,2 770,-1 771,-7 772,11 773,-11 774,11 775,-5 776,12 777,-23 778,19 779,-16 780,10 781,5 782,-5 783,6 784,-5 785,7 786,-6 787,8 788,-12 789,16 790,-15 791,4 792,-2 793,-14 794,11 795,-11 796,-11 797,6 798,-8 799,9 800,-7 801,0 802,1 803,-1 804,12 805,-10 806,5 807,-4 808,0 809,5 810,-6 811,-1 812,0 813,-4 814,0 815,-13 816,11 817,-12 818,21 819,-10 820,4 821,-3 822,-4 823,7 824,-7 825,6 826,-7 827,1 828,-4 829,6 830,-7 831,4 832,-5 833,2 834,-9 835,5 836,6 837,-6 838,6 839,-5 840,-7 841,9 842,-9 843,7 844,1 845,-11 846,9 847,-4 848,-8 849,9 850,-7 851,6 852,4 853,-8 854,5 855,5 856,-5 857,5 858,-3 859,-2 860,3 861,-4 862,3 863,-5 864,8 865,-4 866,18 867,-4 868,-8 869,2 870,-8 871,14 872,-15 873,10 874,-6 875,3 876,4 877,-6 878,10 879,2 880,-11 881,9 882,-2 883,-6 884,11 885,-13 886,19 887,-3 888,8 889,-3 890,4 891,-1 892,0 893,4 894,-5 895,6 896,-1 897,-1 898,2 899,-4 900,5 901,-5 902,2 903,4 904,-9 905,9 906,-6 907,-3 908,16 909,-17 910,5 911,3 912,-13 913,14 914,-5 915,1 916,3 917,1 918,1 919,-5 920,1 921,4 922,2 923,-8 924,3 925,-7 926,9 927,-9 928,1 929,5 930,-11 931,15 932,-3 933,-13 934,11 935,-17 936,16 937,-16 938,10 939,-8 940,3 941,-1 942,-10 943,4 944,-9 945,8 946,-11 947,10 948,-10 949,12 950,-4 951,-7 952,13 953,-11 954,16 955,1 956,3 957,-4 958,3 959,6 960,-5 961,1 962,-11 963,14 964,-1 965,-14 966,11 967,-2 968,-9 969,7 970,-7 971,5 972,-3 973,3 974,-4 975,6 976,-6 977,4 978,6 979,-6 980,5 981,1 982,-8 983,13 984,0 985,-6 986,10 987,-10 988,8 989,-3 990,3 991,-6 992,7 993,0 994,-3 995,3 996,-3 997,10 998,-7 999,4" fill="none" stroke="#0552f8" stroke-width="0.8" vector-effect="non-scaling-stroke" stroke-linejoin="round"/>
<rect x="404.80" y="14.20" width="140.80" height="35.80" fill="none" stroke="#838383" stroke-width="1.3"/>
<line x1="440.00" y1="14.20" x2="440.00" y2="15.80" stroke="#444" stroke-width="0.8"/>
<line x1="440.00" y1="50.00" x2="440.00" y2="48.40" stroke="#444" stroke-width="0.8"/>
<line x1="475.20" y1="14.20" x2="475.20" y2="15.80" stroke="#444" stroke-width="0.8"/>
<line x1="475.20" y1="50.00" x2="475.20" y2="48.40" stroke="#444" stroke-width="0.8"/>
<line x1="510.40" y1="14.20" x2="510.40" y2="15.80" stroke="#444" stroke-width="0.8"/>
<line x1="510.40" y1="50.00" x2="510.40" y2="48.40" stroke="#444" stroke-width="0.8"/>
<text x="403.50" y="16.20" text-anchor="end" font-size="8.8" fill="#242424" class="ns">1.05</text>
<text x="403.50" y="52.90" text-anchor="end" font-size="8.8" fill="#242424" class="ns">0.92</text>
<text x="405.30" y="59.50" text-anchor="middle" font-size="8.8" fill="#242424" class="ns">−2</text>
<text x="440.50" y="59.50" text-anchor="middle" font-size="8.8" fill="#242424" class="ns">0</text>
<text x="475.70" y="59.50" text-anchor="middle" font-size="8.8" fill="#242424" class="ns">2</text>
<text x="510.90" y="59.50" text-anchor="middle" font-size="8.8" fill="#242424" class="ns">4</text>
<text x="546.10" y="59.50" text-anchor="middle" font-size="8.8" fill="#242424" class="ns">6</text>
<rect x="462.80" y="13.80" width="15.8" height="11.0" fill="#fff" stroke="#2d7cf6" stroke-width="1.2"/>
<text x="470.70" y="22.40" text-anchor="middle" font-size="7.9" stroke-width="0.15" stroke="#2d7cf6" class="ns" fill="#2d7cf6">B3</text>
<line x1="42.30" y1="68.50" x2="42.30" y2="104.20" stroke="#ebebeb" stroke-width="0.7"/>
<line x1="51.10" y1="68.50" x2="51.10" y2="104.20" stroke="#ebebeb" stroke-width="0.7"/>
<line x1="59.90" y1="68.50" x2="59.90" y2="104.20" stroke="#ebebeb" stroke-width="0.7"/>
<line x1="68.70" y1="68.50" x2="68.70" y2="104.20" stroke="#ebebeb" stroke-width="0.7"/>
<line x1="77.50" y1="68.50" x2="77.50" y2="104.20" stroke="#ebebeb" stroke-width="0.7"/>
<line x1="86.30" y1="68.50" x2="86.30" y2="104.20" stroke="#ebebeb" stroke-width="0.7"/>
<line x1="95.10" y1="68.50" x2="95.10" y2="104.20" stroke="#ebebeb" stroke-width="0.7"/>
<line x1="103.90" y1="68.50" x2="103.90" y2="104.20" stroke="#ebebeb" stroke-width="0.7"/>
<line x1="112.70" y1="68.50" x2="112.70" y2="104.20" stroke="#ebebeb" stroke-width="0.7"/>
<line x1="121.50" y1="68.50" x2="121.50" y2="104.20" stroke="#ebebeb" stroke-width="0.7"/>
<line x1="130.30" y1="68.50" x2="130.30" y2="104.20" stroke="#ebebeb" stroke-width="0.7"/>
<line x1="139.10" y1="68.50" x2="139.10" y2="104.20" stroke="#ebebeb" stroke-width="0.7"/>
<line x1="147.90" y1="68.50" x2="147.90" y2="104.20" stroke="#ebebeb" stroke-width="0.7"/>
<line x1="156.70" y1="68.50" x2="156.70" y2="104.20" stroke="#ebebeb" stroke-width="0.7"/>
<line x1="165.50" y1="68.50" x2="165.50" y2="104.20" stroke="#ebebeb" stroke-width="0.7"/>
<line x1="33.50" y1="72.49" x2="174.30" y2="72.49" stroke="#f4f4f4" stroke-width="0.7"/>
<line x1="33.50" y1="78.27" x2="174.30" y2="78.27" stroke="#ebebeb" stroke-width="0.7"/>
<line x1="33.50" y1="92.43" x2="174.30" y2="92.43" stroke="#ebebeb" stroke-width="0.7"/>
<line x1="33.50" y1="99.41" x2="174.30" y2="99.41" stroke="#f4f4f4" stroke-width="0.7"/>
<line x1="68.80" y1="68.50" x2="68.80" y2="104.20" stroke="#6fa8f5" stroke-width="1.15"/>
<line x1="76.80" y1="68.50" x2="76.80" y2="104.20" stroke="#f7946a" stroke-width="1.15"/>
<line x1="133.60" y1="68.50" x2="133.60" y2="104.20" stroke="#6fa8f5" stroke-width="1.15"/>
<line x1="141.30" y1="68.50" x2="141.30" y2="104.20" stroke="#f7946a" stroke-width="1.15"/>
<polyline transform="translate(33.50,89.50) scale(0.140941,0.1)" points="0,-2 1,6 2,-7 3,11 4,-8 5,7 6,-5 7,8 8,4 9,-5 10,11 11,-11 12,2 13,1 14,-4 15,3 16,-3 17,4 18,-10 19,10 20,-7 21,3 22,-7 23,7 24,-6 25,2 26,-7 27,4 28,-6 29,-3 30,8 31,-11 32,9 33,1 34,-3 35,8 36,-3 37,3 38,2 39,-7 40,9 41,1 42,-9 43,9 44,-12 45,12 46,-3 47,-4 48,5 49,-6 50,4 51,1 52,-8 53,10 54,2 55,-2 56,4 57,-4 58,3 59,-2 60,5 61,-4 62,6 63,-2 64,-1 65,10 66,-14 67,7 68,1 69,3 70,7 71,-6 72,10 73,-14 74,1 75,0 76,-8 77,7 78,-8 79,-1 80,5 81,-9 82,9 83,-8 84,7 85,-1 86,-6 87,6 88,-7 89,7 90,-3 91,2 92,3 93,-7 94,7 95,-11 96,12 97,-15 98,11 99,-13 100,14 101,-10 102,0 103,14 104,-9 105,5 106,-3 107,1 108,4 109,-5 110,7 111,3 112,-6 113,10 114,-3 115,-1 116,2 117,-1 118,3 119,-6 120,4 121,0 122,-2 123,3 124,3 125,-5 126,12 127,-5 128,-2 129,6 130,-12 131,9 132,-7 133,6 134,6 135,-6 136,8 137,-5 138,6 139,2 140,-8 141,6 142,-7 143,8 144,-13 145,16 146,-12 147,5 148,1 149,0 150,8 151,-9 152,6 153,-7 154,3 155,5 156,-4 157,10 158,-10 159,10 160,-3 161,-4 162,5 163,-3 164,7 165,-11 166,1 167,5 168,-14 169,13 170,-9 171,14 172,-4 173,-4 174,6 175,-4 176,4 177,-4 178,4 179,-1 180,1 181,-2 182,-12 183,14 184,-13 185,10 186,-14 187,11 188,-12 189,-4 190,-1 191,2 192,-5 193,-12 194,4 195,-4 196,5 197,-9 198,8 199,4 200,-3 201,1 202,-6 203,5 204,2 205,-8 206,14 207,-9 208,8 209,-2 210,-2 211,10 212,-7 213,-5 214,16 215,-7 216,-6 217,10 218,-6 219,3 220,19 221,-26 222,12 223,-13 224,-9 225,3 226,7 227,3 228,-15 229,23 230,-22 231,20 232,-13 233,17 234,-14 235,27 236,5 237,-19 238,13 239,-6 240,9 241,-8 242,6 243,-10 244,18 245,-25 246,33 247,-11 248,1 249,-8 250,-9 251,31 252,-12 253,10 254,-2 255,-26 256,24 257,-14 258,10 259,-12 260,-5 261,12 262,-48 263,22 264,-11 265,20 266,3 267,-11 268,11 269,-7 270,3 271,10 272,-17 273,14 274,5 275,-23 276,26 277,-11 278,-2 279,-1 280,4 281,5 282,-6 283,1 284,12 285,-10 286,5 287,13 288,-29 289,28 290,-49 291,49 292,-4 293,13 294,-77 295,55 296,48 297,-31 298,3 299,14 300,-27 301,65 302,-45 303,29 304,-31 305,25 306,12 307,-10 308,5 309,-17 310,18 311,-48 312,40 313,-22 314,-35 315,59 316,-53 317,57 318,-12 319,-29 320,48 321,-54 322,6 323,5 324,-55 325,50 326,-36 327,32 328,-11 329,23 330,-7 331,-25 332,18 333,2 334,-14 335,34 336,-14 337,24 338,14 339,-3 340,4 341,3 342,3 343,-12 344,18 345,-13 346,8 347,11 348,-4 349,0 350,-18 351,21 352,-26 353,31 354,-21 355,11 356,-18 357,11 358,11 359,-17 360,14 361,-22 362,17 363,-3 364,-13 365,22 366,-34 367,22 368,-24 369,16 370,-3 371,-7 372,36 373,-9 374,68 375,30 376,-26 377,33 378,-26 379,-8 380,17 381,-48 382,59 383,-19 384,27 385,-9 386,2 387,37 388,-51 389,62 390,-22 391,36 392,-4 393,5 394,13 395,-13 396,19 397,-32 398,55 399,-62 400,40 401,-44 402,-34 403,61 404,-44 405,54 406,-18 407,14 408,7 409,-22 410,9 411,-21 412,13 413,-17 414,6 415,9 416,-12 417,2 418,-8 419,23 420,-18 421,9 422,-6 423,12 424,13 425,-16 426,13 427,-17 428,20 429,-27 430,-20 431,17 432,-53 433,84 434,-17 435,26 436,12 437,-50 438,41 439,-10 440,-35 441,23 442,-73 443,1 444,67 445,-59 446,61 447,-43 448,67 449,-7 450,10 451,29 452,-16 453,40 454,-32 455,21 456,33 457,-48 458,22 459,-25 460,26 461,12 462,-1 463,15 464,-16 465,26 466,-13 467,10 468,12 469,-15 470,20 471,-27 472,11 473,-30 474,-30 475,43 476,-26 477,65 478,-12 479,12 480,-20 481,4 482,43 483,-40 484,26 485,-27 486,-18 487,43 488,-43 489,14 490,-11 491,30 492,-6 493,8 494,-25 495,6 496,-32 497,6 498,16 499,-22 500,13 501,-2 502,0 503,45 504,-26 505,23 506,-42 507,38 508,-11 509,-7 510,4 511,-8 512,24 513,-21 514,17 515,16 516,-22 517,44 518,-36 519,37 520,-19 521,11 522,-4 523,-17 524,7 525,-8 526,25 527,-46 528,29 529,-20 530,35 531,-12 532,16 533,30 534,-24 535,43 536,-50 537,22 538,2 539,-19 540,16 541,-28 542,13 543,2 544,-21 545,26 546,-23 547,6 548,4 549,-18 550,56 551,-35 552,20 553,-12 554,-20 555,61 556,-90 557,69 558,-55 559,51 560,-17 561,45 562,-15 563,12 564,-11 565,8 566,-18 567,-38 568,83 569,-73 570,69 571,-13 572,-12 573,81 574,-91 575,47 576,-42 577,42 578,-31 579,16 580,20 581,-26 582,28 583,20 584,-8 585,10 586,-13 587,1 588,4 589,28 590,-21 591,55 592,-32 593,37 594,-11 595,26 596,-38 597,-15 598,60 599,-41 600,35 601,-8 602,-1 603,25 604,-23 605,7 606,-6 607,-36 608,5 609,-4 610,-1 611,-9 612,21 613,-13 614,14 615,-19 616,-8 617,16 618,-25 619,37 620,-35 621,26 622,-31 623,-2 624,46 625,-28 626,40 627,-52 628,49 629,3 630,-45 631,45 632,-63 633,57 634,-76 635,-76 636,57 637,-39 638,16 639,-21 640,-13 641,21 642,-11 643,32 644,-23 645,8 646,-14 647,-18 648,19 649,-26 650,69 651,-16 652,-64 653,90 654,-71 655,83 656,-83 657,33 658,-66 659,15 660,4 661,-64 662,47 663,-37 664,27 665,-31 666,-31 667,7 668,-5 669,8 670,-17 671,23 672,-13 673,16 674,4 675,-4 676,33 677,-58 678,40 679,-24 680,88 681,-86 682,-36 683,47 684,-85 685,14 686,35 687,-23 688,47 689,-52 690,51 691,-13 692,17 693,-4 694,1 695,28 696,-26 697,-2 698,43 699,-45 700,48 701,15 702,-48 703,50 704,-19 705,-52 706,39 707,-20 708,-10 709,54 710,-33 711,24 712,-54 713,-4 714,74 715,-38 716,9 717,38 718,-7 719,-3 720,3 721,-10 722,23 723,-36 724,20 725,-22 726,30 727,-2 728,5 729,42 730,-68 731,77 732,-78 733,50 734,-52 735,-8 736,1 737,-8 738,6 739,-7 740,32 741,-26 742,53 743,-50 744,27 745,23 746,-94 747,57 748,1 749,0 750,-15 751,-4 752,38 753,-47 754,-1 755,8 756,-10 757,8 758,3 759,-4 760,10 761,-11 762,4 763,-8 764,5 765,3 766,-3 767,15 768,-11 769,-1 770,3 771,-8 772,9 773,-5 774,7 775,-5 776,9 777,-4 778,3 779,4 780,-9 781,12 782,-3 783,10 784,-17 785,2 786,1 787,0 788,8 789,-6 790,11 791,-11 792,6 793,-7 794,1 795,4 796,-16 797,8 798,-7 799,13 800,-11 801,10 802,-4 803,13 804,-11 805,6 806,-2 807,-3 808,8 809,-8 810,10 811,-9 812,15 813,-9 814,14 815,-28 816,14 817,9 818,-15 819,4 820,0 821,-6 822,6 823,-4 824,5 825,-12 826,11 827,-9 828,4 829,1 830,0 831,1 832,-6 833,12 834,-13 835,9 836,-7 837,6 838,-4 839,2 840,4 841,-6 842,6 843,-4 844,7 845,-2 846,-2 847,4 848,-4 849,11 850,-9 851,5 852,-4 853,6 854,-4 855,-3 856,1 857,-9 858,13 859,-8 860,6 861,-3 862,-5 863,3 864,-4 865,6 866,-7 867,4 868,-6 869,-2 870,13 871,-14 872,-3 873,7 874,-16 875,15 876,-1 877,3 878,2 879,0 880,-4 881,4 882,6 883,-19 884,12 885,-5 886,4 887,-2 888,-1 889,6 890,-7 891,15 892,-10 893,-3 894,3 895,-9 896,4 897,-10 898,7 899,-6 900,10 901,-12 902,12 903,-11 904,10 905,0 906,-13 907,14 908,-8 909,16 910,7 911,-5 912,2 913,-6 914,3 915,-6 916,4 917,-5 918,5 919,-3 920,-1 921,6 922,-5 923,0 924,-12 925,12 926,-2 927,-4 928,14 929,-11 930,0 931,-4 932,7 933,4 934,-3 935,3 936,-7 937,6 938,-7 939,-1 940,1 941,-9 942,15 943,-9 944,1 945,5 946,-7 947,6 948,-10 949,18 950,-17 951,17 952,-19 953,13 954,-12 955,1 956,13 957,-6 958,15 959,-5 960,1 961,5 962,-5 963,-1 964,7 965,-13 966,9 967,-6 968,4 969,0 970,-5 971,5 972,-4 973,-1 974,6 975,-10 976,10 977,-11 978,5 979,-1 980,-4 981,7 982,-12 983,17 984,-12 985,7 986,0 987,1 988,4 989,-10 990,13 991,-10 992,6 993,-6 994,4 995,-7 996,6 997,2 998,-9 999,10" fill="none" stroke="#0552f8" stroke-width="0.8" vector-effect="non-scaling-stroke" stroke-linejoin="round"/>
<rect x="33.50" y="68.50" width="140.80" height="35.70" fill="none" stroke="#838383" stroke-width="1.3"/>
<line x1="68.70" y1="68.50" x2="68.70" y2="70.10" stroke="#444" stroke-width="0.8"/>
<line x1="68.70" y1="104.20" x2="68.70" y2="102.60" stroke="#444" stroke-width="0.8"/>
<line x1="103.90" y1="68.50" x2="103.90" y2="70.10" stroke="#444" stroke-width="0.8"/>
<line x1="103.90" y1="104.20" x2="103.90" y2="102.60" stroke="#444" stroke-width="0.8"/>
<line x1="139.10" y1="68.50" x2="139.10" y2="70.10" stroke="#444" stroke-width="0.8"/>
<line x1="139.10" y1="104.20" x2="139.10" y2="102.60" stroke="#444" stroke-width="0.8"/>
<text x="32.20" y="70.50" text-anchor="end" font-size="8.8" fill="#242424" class="ns">1.05</text>
<text x="32.20" y="107.10" text-anchor="end" font-size="8.8" fill="#242424" class="ns">0.92</text>
<text x="34.00" y="113.70" text-anchor="middle" font-size="8.8" fill="#242424" class="ns">−2</text>
<text x="69.20" y="113.70" text-anchor="middle" font-size="8.8" fill="#242424" class="ns">0</text>
<text x="104.40" y="113.70" text-anchor="middle" font-size="8.8" fill="#242424" class="ns">2</text>
<text x="139.60" y="113.70" text-anchor="middle" font-size="8.8" fill="#242424" class="ns">4</text>
<text x="174.80" y="113.70" text-anchor="middle" font-size="8.8" fill="#242424" class="ns">6</text>
<rect x="84.60" y="68.40" width="15.8" height="11.0" fill="#fff" stroke="#2d7cf6" stroke-width="1.2"/>
<text x="92.50" y="77.00" text-anchor="middle" font-size="7.9" font-weight="bold" class="ns" fill="#2d7cf6">B4</text>
<line x1="228.00" y1="68.50" x2="228.00" y2="104.20" stroke="#ebebeb" stroke-width="0.7"/>
<line x1="236.80" y1="68.50" x2="236.80" y2="104.20" stroke="#ebebeb" stroke-width="0.7"/>
<line x1="245.60" y1="68.50" x2="245.60" y2="104.20" stroke="#ebebeb" stroke-width="0.7"/>
<line x1="254.40" y1="68.50" x2="254.40" y2="104.20" stroke="#ebebeb" stroke-width="0.7"/>
<line x1="263.20" y1="68.50" x2="263.20" y2="104.20" stroke="#ebebeb" stroke-width="0.7"/>
<line x1="272.00" y1="68.50" x2="272.00" y2="104.20" stroke="#ebebeb" stroke-width="0.7"/>
<line x1="280.80" y1="68.50" x2="280.80" y2="104.20" stroke="#ebebeb" stroke-width="0.7"/>
<line x1="289.60" y1="68.50" x2="289.60" y2="104.20" stroke="#ebebeb" stroke-width="0.7"/>
<line x1="298.40" y1="68.50" x2="298.40" y2="104.20" stroke="#ebebeb" stroke-width="0.7"/>
<line x1="307.20" y1="68.50" x2="307.20" y2="104.20" stroke="#ebebeb" stroke-width="0.7"/>
<line x1="316.00" y1="68.50" x2="316.00" y2="104.20" stroke="#ebebeb" stroke-width="0.7"/>
<line x1="324.80" y1="68.50" x2="324.80" y2="104.20" stroke="#ebebeb" stroke-width="0.7"/>
<line x1="333.60" y1="68.50" x2="333.60" y2="104.20" stroke="#ebebeb" stroke-width="0.7"/>
<line x1="342.40" y1="68.50" x2="342.40" y2="104.20" stroke="#ebebeb" stroke-width="0.7"/>
<line x1="351.20" y1="68.50" x2="351.20" y2="104.20" stroke="#ebebeb" stroke-width="0.7"/>
<line x1="219.20" y1="72.49" x2="360.00" y2="72.49" stroke="#f4f4f4" stroke-width="0.7"/>
<line x1="219.20" y1="78.27" x2="360.00" y2="78.27" stroke="#ebebeb" stroke-width="0.7"/>
<line x1="219.20" y1="92.43" x2="360.00" y2="92.43" stroke="#ebebeb" stroke-width="0.7"/>
<line x1="219.20" y1="99.41" x2="360.00" y2="99.41" stroke="#f4f4f4" stroke-width="0.7"/>
<line x1="254.50" y1="68.50" x2="254.50" y2="104.20" stroke="#6fa8f5" stroke-width="1.15"/>
<line x1="262.50" y1="68.50" x2="262.50" y2="104.20" stroke="#f7946a" stroke-width="1.15"/>
<line x1="319.30" y1="68.50" x2="319.30" y2="104.20" stroke="#6fa8f5" stroke-width="1.15"/>
<line x1="327.00" y1="68.50" x2="327.00" y2="104.20" stroke="#f7946a" stroke-width="1.15"/>
<polyline transform="translate(219.20,89.70) scale(0.140941,0.1)" points="0,-2 1,3 2,-2 3,5 4,-5 5,6 6,-1 7,-6 8,5 9,-5 10,6 11,-4 12,4 13,-5 14,-1 15,-1 16,1 17,-2 18,-1 19,0 20,1 21,-3 22,-3 23,5 24,-8 25,6 26,-10 27,5 28,7 29,-10 30,11 31,-11 32,13 33,0 34,-7 35,3 36,-9 37,8 38,-4 39,-5 40,5 41,-6 42,1 43,-2 44,0 45,1 46,-5 47,5 48,-4 49,3 50,0 51,-4 52,4 53,-1 54,1 55,-3 56,-2 57,4 58,-7 59,6 60,-6 61,-1 62,5 63,-3 64,3 65,-4 66,4 67,-7 68,2 69,-4 70,5 71,0 72,-3 73,7 74,-8 75,7 76,-14 77,0 78,-3 79,0 80,5 81,-7 82,7 83,0 84,-3 85,7 86,1 87,-7 88,11 89,-1 90,5 91,-2 92,1 93,7 94,-4 95,3 96,-3 97,0 98,5 99,-11 100,8 101,5 102,-4 103,11 104,-8 105,12 106,-9 107,10 108,-10 109,3 110,-11 111,4 112,-8 113,6 114,-10 115,1 116,9 117,-5 118,13 119,-8 120,7 121,-3 122,2 123,7 124,-8 125,6 126,-5 127,-2 128,7 129,-2 130,-3 131,5 132,-3 133,0 134,-5 135,5 136,-5 137,4 138,-5 139,2 140,-2 141,5 142,3 143,-10 144,7 145,-4 146,5 147,-5 148,-2 149,3 150,-17 151,13 152,-13 153,11 154,-12 155,8 156,2 157,1 158,6 159,-6 160,10 161,-12 162,10 163,-9 164,0 165,10 166,-11 167,9 168,-7 169,2 170,3 171,-3 172,4 173,-7 174,3 175,-4 176,0 177,3 178,1 179,11 180,-16 181,3 182,6 183,-10 184,9 185,-13 186,9 187,-6 188,7 189,-11 190,16 191,-16 192,-1 193,11 194,-12 195,9 196,-7 197,4 198,0 199,-3 200,4 201,-8 202,0 203,4 204,-8 205,10 206,-9 207,12 208,-3 209,3 210,-7 211,22 212,-31 213,14 214,-3 215,-1 216,5 217,-10 218,9 219,-8 220,8 221,-6 222,4 223,-3 224,6 225,-15 226,-6 227,9 228,-14 229,24 230,4 231,-3 232,19 233,-28 234,18 235,-11 236,17 237,-16 238,-2 239,9 240,-16 241,24 242,-19 243,20 244,-8 245,1 246,5 247,-21 248,17 249,-12 250,8 251,-22 252,-4 253,12 254,-16 255,10 256,-6 257,-1 258,4 259,-10 260,18 261,-7 262,-4 263,10 264,-12 265,7 266,-17 267,3 268,5 269,-8 270,22 271,-37 272,18 273,3 274,-14 275,18 276,-2 277,1 278,0 279,11 280,-18 281,-6 282,7 283,-9 284,0 285,-1 286,-4 287,7 288,-15 289,3 290,-5 291,-28 292,26 293,-35 294,56 295,-55 296,34 297,9 298,-22 299,14 300,-17 301,9 302,-9 303,-7 304,35 305,-39 306,66 307,-70 308,52 309,-51 310,-23 311,-3 312,-68 313,56 314,-29 315,12 316,-12 317,11 318,-22 319,5 320,10 321,-14 322,21 323,-23 324,25 325,-11 326,22 327,-12 328,20 329,0 330,-31 331,57 332,-20 333,-23 334,28 335,-30 336,15 337,-12 338,29 339,-18 340,0 341,22 342,-39 343,53 344,-38 345,21 346,-28 347,14 348,-19 349,-31 350,26 351,-62 352,40 353,-20 354,-26 355,18 356,-2 357,-19 358,-46 359,51 360,-51 361,10 362,11 363,-7 364,-17 365,19 366,-13 367,-8 368,27 369,-12 370,47 371,-45 372,31 373,-55 374,23 375,-84 376,84 377,12 378,-36 379,66 380,-58 381,78 382,-54 383,68 384,-68 385,24 386,23 387,-35 388,80 389,-77 390,67 391,57 392,-22 393,21 394,5 395,-4 396,11 397,-42 398,18 399,-61 400,31 401,-44 402,18 403,-65 404,11 405,-46 406,-16 407,51 408,-54 409,38 410,-5 411,21 412,-29 413,-32 414,18 415,-33 416,17 417,-29 418,19 419,-71 420,60 421,-54 422,21 423,-1 424,8 425,-13 426,-2 427,-6 428,4 429,14 430,-23 431,49 432,-36 433,11 434,45 435,-26 436,23 437,-72 438,19 439,55 440,-24 441,52 442,-38 443,28 444,25 445,-54 446,116 447,0 448,-40 449,17 450,-36 451,19 452,-30 453,27 454,-72 455,34 456,-42 457,106 458,-26 459,8 460,5 461,-47 462,37 463,-63 464,62 465,-26 466,17 467,14 468,-27 469,16 470,12 471,-16 472,11 473,-2 474,9 475,23 476,-31 477,34 478,-1 479,-37 480,32 481,-24 482,29 483,-23 484,13 485,-1 486,6 487,-9 488,-10 489,20 490,-22 491,10 492,9 493,-15 494,18 495,-15 496,3 497,-2 498,5 499,-17 500,10 501,-24 502,-18 503,10 504,-74 505,69 506,-57 507,55 508,-44 509,29 510,-7 511,2 512,14 513,-16 514,33 515,-21 516,17 517,-14 518,-30 519,43 520,-65 521,64 522,-32 523,70 524,-21 525,8 526,37 527,-37 528,14 529,-25 530,16 531,-11 532,-7 533,16 534,-15 535,9 536,-13 537,-13 538,9 539,-19 540,29 541,-33 542,12 543,19 544,-71 545,40 546,-28 547,13 548,-2 549,-8 550,22 551,-26 552,21 553,-10 554,1 555,-4 556,-2 557,42 558,-64 559,36 560,-33 561,28 562,-26 563,-9 564,42 565,-48 566,57 567,-21 568,-3 569,36 570,-83 571,16 572,2 573,-97 574,105 575,-14 576,16 577,-22 578,39 579,-5 580,-41 581,42 582,-64 583,61 584,-78 585,35 586,22 587,-75 588,48 589,-31 590,2 591,-15 592,-36 593,47 594,-74 595,73 596,-47 597,84 598,-36 599,-41 600,64 601,-7 602,2 603,42 604,-61 605,34 606,40 607,-52 608,22 609,-13 610,49 611,4 612,13 613,0 614,1 615,63 616,-68 617,76 618,-6 619,17 620,-21 621,3 622,23 623,-48 624,64 625,6 626,-47 627,111 628,-50 629,37 630,-9 631,-10 632,11 633,-17 634,26 635,-13 636,-1 637,-9 638,8 639,4 640,-31 641,28 642,-10 643,-8 644,18 645,-25 646,62 647,-39 648,33 649,16 650,-5 651,15 652,-14 653,15 654,-9 655,0 656,24 657,-16 658,9 659,-10 660,10 661,-9 662,29 663,-13 664,-27 665,16 666,-18 667,25 668,-24 669,-2 670,-8 671,-52 672,53 673,-50 674,59 675,-9 676,-12 677,23 678,-7 679,24 680,-30 681,18 682,3 683,-48 684,45 685,-21 686,-24 687,35 688,-47 689,2 690,78 691,-74 692,25 693,-29 694,18 695,15 696,-26 697,34 698,-34 699,61 700,-66 701,52 702,-62 703,57 704,5 705,-38 706,64 707,13 708,-86 709,74 710,3 711,-63 712,14 713,-22 714,36 715,2 716,-54 717,35 718,-7 719,-38 720,29 721,-49 722,-13 723,1 724,4 725,23 726,-13 727,27 728,-55 729,40 730,-35 731,4 732,27 733,-30 734,73 735,-28 736,32 737,-47 738,64 739,-19 740,39 741,-28 742,36 743,-36 744,10 745,-3 746,-9 747,9 748,-4 749,10 750,-10 751,6 752,8 753,-16 754,11 755,4 756,-3 757,2 758,-17 759,17 760,-11 761,17 762,-13 763,14 764,-11 765,-1 766,10 767,-18 768,11 769,-11 770,16 771,-18 772,6 773,19 774,-13 775,8 776,-14 777,4 778,6 779,-18 780,17 781,-11 782,7 783,-14 784,18 785,-9 786,0 787,11 788,-17 789,7 790,-6 791,15 792,-5 793,5 794,3 795,-10 796,13 797,4 798,-17 799,12 800,-17 801,12 802,-9 803,12 804,3 805,-8 806,2 807,4 808,-7 809,3 810,-3 811,-6 812,9 813,-11 814,7 815,-13 816,9 817,-5 818,7 819,-8 820,-4 821,10 822,-16 823,15 824,-10 825,3 826,-3 827,4 828,2 829,-4 830,7 831,-14 832,10 833,-5 834,1 835,-1 836,2 837,-3 838,-1 839,7 840,-11 841,15 842,-20 843,20 844,-7 845,3 846,-3 847,6 848,-1 849,0 850,0 851,-5 852,5 853,-5 854,11 855,-7 856,1 857,7 858,-8 859,14 860,-14 861,7 862,-4 863,0 864,7 865,-7 866,2 867,-2 868,-9 869,11 870,-2 871,-15 872,21 873,-6 874,-14 875,13 876,-10 877,-4 878,3 879,-3 880,8 881,-8 882,12 883,-9 884,-1 885,5 886,-7 887,3 888,-2 889,0 890,5 891,-7 892,11 893,-15 894,10 895,-11 896,8 897,-4 898,1 899,9 900,-14 901,20 902,-21 903,7 904,2 905,-14 906,14 907,-10 908,9 909,-13 910,11 911,2 912,-8 913,18 914,-17 915,14 916,1 917,-2 918,8 919,-12 920,14 921,-10 922,-6 923,17 924,-11 925,-10 926,5 927,-22 928,9 929,-7 930,2 931,8 932,-9 933,11 934,-2 935,-6 936,8 937,-16 938,6 939,7 940,-6 941,12 942,-6 943,8 944,14 945,-15 946,17 947,-13 948,11 949,-12 950,7 951,-5 952,5 953,-2 954,2 955,1 956,-12 957,9 958,-15 959,10 960,-7 961,-3 962,7 963,-10 964,10 965,-6 966,9 967,-6 968,5 969,-7 970,2 971,-6 972,-14 973,16 974,-16 975,7 976,-7 977,0 978,-2 979,-3 980,9 981,-9 982,15 983,-16 984,3 985,6 986,-3 987,12 988,-18 989,8 990,-4 991,-13 992,19 993,-7 994,9 995,-6 996,8 997,-14 998,15 999,-12" fill="none" stroke="#0552f8" stroke-width="0.8" vector-effect="non-scaling-stroke" stroke-linejoin="round"/>
<rect x="219.20" y="68.50" width="140.80" height="35.70" fill="none" stroke="#838383" stroke-width="1.3"/>
<line x1="254.40" y1="68.50" x2="254.40" y2="70.10" stroke="#444" stroke-width="0.8"/>
<line x1="254.40" y1="104.20" x2="254.40" y2="102.60" stroke="#444" stroke-width="0.8"/>
<line x1="289.60" y1="68.50" x2="289.60" y2="70.10" stroke="#444" stroke-width="0.8"/>
<line x1="289.60" y1="104.20" x2="289.60" y2="102.60" stroke="#444" stroke-width="0.8"/>
<line x1="324.80" y1="68.50" x2="324.80" y2="70.10" stroke="#444" stroke-width="0.8"/>
<line x1="324.80" y1="104.20" x2="324.80" y2="102.60" stroke="#444" stroke-width="0.8"/>
<text x="217.90" y="70.50" text-anchor="end" font-size="8.8" fill="#242424" class="ns">1.05</text>
<text x="217.90" y="107.10" text-anchor="end" font-size="8.8" fill="#242424" class="ns">0.92</text>
<text x="219.70" y="113.70" text-anchor="middle" font-size="8.8" fill="#242424" class="ns">−2</text>
<text x="254.90" y="113.70" text-anchor="middle" font-size="8.8" fill="#242424" class="ns">0</text>
<text x="290.10" y="113.70" text-anchor="middle" font-size="8.8" fill="#242424" class="ns">2</text>
<text x="325.30" y="113.70" text-anchor="middle" font-size="8.8" fill="#242424" class="ns">4</text>
<text x="360.50" y="113.70" text-anchor="middle" font-size="8.8" fill="#242424" class="ns">6</text>
<rect x="275.00" y="68.40" width="15.8" height="11.0" fill="#fff" stroke="#2d7cf6" stroke-width="1.2"/>
<text x="282.90" y="77.00" text-anchor="middle" font-size="7.9" stroke-width="0.15" stroke="#2d7cf6" class="ns" fill="#2d7cf6">B5</text>
<line x1="413.60" y1="68.50" x2="413.60" y2="104.20" stroke="#ebebeb" stroke-width="0.7"/>
<line x1="422.40" y1="68.50" x2="422.40" y2="104.20" stroke="#ebebeb" stroke-width="0.7"/>
<line x1="431.20" y1="68.50" x2="431.20" y2="104.20" stroke="#ebebeb" stroke-width="0.7"/>
<line x1="440.00" y1="68.50" x2="440.00" y2="104.20" stroke="#ebebeb" stroke-width="0.7"/>
<line x1="448.80" y1="68.50" x2="448.80" y2="104.20" stroke="#ebebeb" stroke-width="0.7"/>
<line x1="457.60" y1="68.50" x2="457.60" y2="104.20" stroke="#ebebeb" stroke-width="0.7"/>
<line x1="466.40" y1="68.50" x2="466.40" y2="104.20" stroke="#ebebeb" stroke-width="0.7"/>
<line x1="475.20" y1="68.50" x2="475.20" y2="104.20" stroke="#ebebeb" stroke-width="0.7"/>
<line x1="484.00" y1="68.50" x2="484.00" y2="104.20" stroke="#ebebeb" stroke-width="0.7"/>
<line x1="492.80" y1="68.50" x2="492.80" y2="104.20" stroke="#ebebeb" stroke-width="0.7"/>
<line x1="501.60" y1="68.50" x2="501.60" y2="104.20" stroke="#ebebeb" stroke-width="0.7"/>
<line x1="510.40" y1="68.50" x2="510.40" y2="104.20" stroke="#ebebeb" stroke-width="0.7"/>
<line x1="519.20" y1="68.50" x2="519.20" y2="104.20" stroke="#ebebeb" stroke-width="0.7"/>
<line x1="528.00" y1="68.50" x2="528.00" y2="104.20" stroke="#ebebeb" stroke-width="0.7"/>
<line x1="536.80" y1="68.50" x2="536.80" y2="104.20" stroke="#ebebeb" stroke-width="0.7"/>
<line x1="404.80" y1="72.49" x2="545.60" y2="72.49" stroke="#f4f4f4" stroke-width="0.7"/>
<line x1="404.80" y1="78.27" x2="545.60" y2="78.27" stroke="#ebebeb" stroke-width="0.7"/>
<line x1="404.80" y1="92.43" x2="545.60" y2="92.43" stroke="#ebebeb" stroke-width="0.7"/>
<line x1="404.80" y1="99.41" x2="545.60" y2="99.41" stroke="#f4f4f4" stroke-width="0.7"/>
<line x1="440.10" y1="68.50" x2="440.10" y2="104.20" stroke="#6fa8f5" stroke-width="1.15"/>
<line x1="448.10" y1="68.50" x2="448.10" y2="104.20" stroke="#f7946a" stroke-width="1.15"/>
<line x1="504.90" y1="68.50" x2="504.90" y2="104.20" stroke="#6fa8f5" stroke-width="1.15"/>
<line x1="512.60" y1="68.50" x2="512.60" y2="104.20" stroke="#f7946a" stroke-width="1.15"/>
<polyline transform="translate(404.80,87.30) scale(0.140941,0.1)" points="0,-6 1,14 2,-20 3,13 4,-2 5,5 6,-5 7,-8 8,5 9,-4 10,7 11,-16 12,10 13,-1 14,8 15,11 16,-12 17,13 18,-16 19,11 20,-10 21,9 22,-12 23,4 24,-3 25,0 26,0 27,2 28,-4 29,7 30,8 31,-14 32,14 33,-19 34,8 35,-1 36,-3 37,6 38,-8 39,4 40,0 41,-5 42,6 43,-7 44,9 45,-9 46,6 47,-5 48,1 49,6 50,-8 51,10 52,-3 53,-5 54,9 55,-8 56,3 57,-4 58,-7 59,10 60,-8 61,0 62,-4 63,-2 64,0 65,-2 66,4 67,-5 68,10 69,-11 70,17 71,-14 72,9 73,-6 74,2 75,-3 76,1 77,-3 78,2 79,1 80,-9 81,5 82,-7 83,10 84,-12 85,10 86,-4 87,4 88,1 89,-3 90,11 91,-12 92,12 93,-18 94,12 95,-9 96,5 97,2 98,-7 99,11 100,-15 101,19 102,-10 103,11 104,-10 105,7 106,5 107,-13 108,13 109,-7 110,-5 111,16 112,-14 113,12 114,-7 115,0 116,3 117,-6 118,11 119,-11 120,9 121,-16 122,16 123,5 124,-6 125,14 126,-6 127,0 128,0 129,-4 130,7 131,-5 132,8 133,-3 134,4 135,4 136,-4 137,11 138,-15 139,21 140,-13 141,9 142,6 143,-4 144,11 145,-11 146,11 147,-11 148,14 149,5 150,-2 151,7 152,-17 153,14 154,-10 155,-9 156,7 157,-14 158,12 159,-13 160,11 161,0 162,-5 163,12 164,-19 165,10 166,3 167,-12 168,8 169,-6 170,3 171,-2 172,0 173,5 174,-6 175,2 176,-5 177,8 178,-14 179,11 180,-4 181,-2 182,3 183,-7 184,3 185,1 186,7 187,-11 188,13 189,-2 190,-9 191,6 192,-6 193,5 194,-7 195,6 196,-6 197,6 198,-4 199,0 200,3 201,-3 202,5 203,-10 204,9 205,-8 206,5 207,-1 208,-10 209,11 210,-12 211,7 212,-10 213,10 214,-5 215,-1 216,4 217,-15 218,14 219,-17 220,2 221,-1 222,1 223,-4 224,-6 225,0 226,-2 227,10 228,-14 229,14 230,-17 231,6 232,-6 233,-3 234,9 235,-10 236,2 237,-14 238,19 239,-21 240,-6 241,22 242,-10 243,7 244,-13 245,5 246,14 247,-6 248,8 249,0 250,-7 251,16 252,-25 253,5 254,29 255,-16 256,27 257,-26 258,6 259,4 260,-7 261,7 262,-5 263,11 264,-9 265,28 266,-33 267,6 268,6 269,-10 270,12 271,-4 272,-8 273,29 274,-21 275,18 276,-22 277,5 278,11 279,-8 280,13 281,-7 282,13 283,-3 284,7 285,-15 286,34 287,-42 288,22 289,10 290,1 291,-2 292,-22 293,13 294,-13 295,9 296,-7 297,3 298,10 299,-27 300,18 301,1 302,1 303,45 304,-20 305,47 306,-49 307,28 308,4 309,-2 310,0 311,2 312,12 313,-3 314,51 315,-34 316,20 317,7 318,-42 319,44 320,-39 321,40 322,-68 323,53 324,-20 325,12 326,-6 327,17 328,-25 329,39 330,-63 331,39 332,-38 333,30 334,-7 335,24 336,21 337,-79 338,47 339,-9 340,-1 341,21 342,-21 343,11 344,-9 345,20 346,-20 347,-9 348,15 349,-62 350,33 351,-46 352,35 353,-19 354,23 355,-38 356,38 357,6 358,11 359,-19 360,25 361,3 362,8 363,-3 364,-6 365,13 366,-15 367,45 368,-51 369,26 370,35 371,-40 372,69 373,-45 374,-20 375,6 376,-17 377,56 378,-33 379,64 380,-76 381,54 382,-30 383,15 384,-28 385,20 386,-4 387,-40 388,33 389,-106 390,27 391,0 392,-77 393,57 394,-11 395,33 396,-25 397,11 398,-42 399,-44 400,26 401,-27 402,53 403,-35 404,50 405,-18 406,-11 407,34 408,-21 409,22 410,-15 411,-2 412,11 413,-26 414,19 415,-2 416,-22 417,36 418,-61 419,23 420,-30 421,2 422,16 423,13 424,37 425,-48 426,74 427,-51 428,28 429,40 430,-39 431,28 432,-84 433,64 434,-24 435,52 436,-15 437,28 438,48 439,-60 440,91 441,-12 442,-6 443,-22 444,6 445,59 446,-32 447,66 448,-30 449,24 450,-16 451,2 452,4 453,-17 454,25 455,-56 456,37 457,-42 458,66 459,3 460,-14 461,12 462,-27 463,26 464,-13 465,22 466,-56 467,17 468,16 469,-22 470,12 471,-9 472,12 473,-28 474,14 475,-16 476,20 477,-48 478,-23 479,45 480,-43 481,20 482,-29 483,24 484,-10 485,-5 486,1 487,-9 488,11 489,-50 490,23 491,-26 492,-3 493,11 494,-96 495,44 496,-32 497,33 498,-12 499,18 500,-21 501,19 502,-21 503,15 504,6 505,-7 506,22 507,-5 508,7 509,-8 510,-7 511,11 512,-31 513,36 514,-30 515,15 516,-45 517,64 518,-58 519,61 520,-68 521,85 522,-57 523,35 524,-63 525,72 526,-20 527,-44 528,59 529,-38 530,77 531,0 532,-13 533,17 534,-17 535,31 536,-43 537,75 538,-16 539,-28 540,86 541,-44 542,-9 543,24 544,-8 545,15 546,-9 547,55 548,-12 549,-19 550,20 551,-23 552,48 553,-13 554,-8 555,9 556,-17 557,12 558,-13 559,1 560,35 561,-23 562,14 563,-11 564,2 565,-4 566,-21 567,46 568,-31 569,11 570,-3 571,8 572,-17 573,4 574,-21 575,-14 576,52 577,-8 578,-9 579,-4 580,-5 581,23 582,-8 583,40 584,-30 585,16 586,-59 587,17 588,-18 589,6 590,21 591,-20 592,21 593,-13 594,-14 595,37 596,-35 597,39 598,-25 599,44 600,-7 601,-35 602,12 603,-18 604,14 605,-6 606,-21 607,37 608,-7 609,5 610,-47 611,43 612,-4 613,18 614,4 615,-28 616,41 617,-80 618,16 619,11 620,-3 621,22 622,-22 623,32 624,8 625,-30 626,17 627,-36 628,35 629,-37 630,5 631,-16 632,-51 633,74 634,-37 635,45 636,27 637,-18 638,27 639,-20 640,50 641,-12 642,-5 643,11 644,-13 645,13 646,-31 647,14 648,-16 649,12 650,-32 651,-26 652,49 653,-10 654,19 655,-3 656,-3 657,-12 658,-22 659,41 660,-44 661,5 662,22 663,-11 664,21 665,-13 666,6 667,-21 668,-8 669,33 670,-72 671,41 672,-74 673,41 674,-27 675,15 676,-13 677,16 678,-29 679,17 680,12 681,-6 682,38 683,-21 684,39 685,-70 686,17 687,25 688,-34 689,7 690,-9 691,2 692,-4 693,21 694,-21 695,29 696,-19 697,25 698,41 699,-59 700,25 701,8 702,12 703,-4 704,-21 705,43 706,-21 707,29 708,-4 709,24 710,-20 711,32 712,9 713,-49 714,39 715,-2 716,7 717,3 718,-18 719,29 720,-23 721,38 722,-27 723,45 724,-41 725,-7 726,77 727,-95 728,34 729,-5 730,-14 731,31 732,-43 733,64 734,-93 735,14 736,72 737,-51 738,69 739,-25 740,61 741,-21 742,-16 743,14 744,-27 745,55 746,-31 747,11 748,-20 749,8 750,-24 751,17 752,-22 753,24 754,-2 755,-26 756,7 757,9 758,-14 759,27 760,-16 761,-11 762,42 763,-22 764,7 765,6 766,-4 767,1 768,1 769,11 770,-23 771,2 772,2 773,-14 774,8 775,7 776,-2 777,24 778,-16 779,6 780,-1 781,-11 782,11 783,-18 784,13 785,-5 786,8 787,3 788,-10 789,7 790,-2 791,-6 792,10 793,-10 794,15 795,-11 796,3 797,-6 798,5 799,-1 800,-7 801,6 802,-10 803,6 804,-1 805,-1 806,-2 807,-1 808,6 809,-6 810,5 811,-8 812,2 813,11 814,-13 815,15 816,-24 817,10 818,-2 819,-16 820,12 821,-17 822,12 823,-6 824,2 825,2 826,-11 827,4 828,-7 829,7 830,-4 831,-8 832,11 833,-16 834,-6 835,12 836,-9 837,9 838,4 839,-14 840,23 841,-15 842,12 843,-5 844,3 845,2 846,-9 847,16 848,-9 849,-1 850,13 851,-20 852,17 853,-14 854,4 855,4 856,-18 857,17 858,-6 859,-5 860,8 861,-8 862,5 863,1 864,-2 865,8 866,-22 867,13 868,-16 869,-4 870,6 871,-9 872,16 873,-16 874,12 875,-2 876,-15 877,10 878,-17 879,10 880,-8 881,4 882,-7 883,-6 884,2 885,3 886,-3 887,-9 888,4 889,1 890,0 891,8 892,-9 893,13 894,-14 895,7 896,6 897,-9 898,4 899,-3 900,-4 901,4 902,-12 903,20 904,-23 905,9 906,2 907,7 908,4 909,-9 910,7 911,-5 912,-1 913,8 914,-6 915,9 916,-6 917,4 918,-1 919,-5 920,13 921,-14 922,23 923,-16 924,15 925,2 926,-7 927,8 928,-13 929,9 930,13 931,-14 932,-1 933,9 934,-4 935,8 936,-10 937,5 938,-7 939,4 940,-13 941,10 942,-4 943,10 944,2 945,-8 946,10 947,-10 948,12 949,-14 950,9 951,-8 952,0 953,-1 954,0 955,8 956,-8 957,16 958,-17 959,15 960,0 961,4 962,3 963,-21 964,18 965,-12 966,-12 967,10 968,-9 969,8 970,-17 971,12 972,6 973,-8 974,18 975,-14 976,2 977,15 978,-17 979,19 980,-16 981,19 982,-13 983,2 984,-10 985,3 986,12 987,-5 988,7 989,-8 990,4 991,-4 992,-3 993,2 994,2 995,1 996,-2 997,12 998,-11 999,13" fill="none" stroke="#0552f8" stroke-width="0.8" vector-effect="non-scaling-stroke" stroke-linejoin="round"/>
<rect x="404.80" y="68.50" width="140.80" height="35.70" fill="none" stroke="#838383" stroke-width="1.3"/>
<line x1="440.00" y1="68.50" x2="440.00" y2="70.10" stroke="#444" stroke-width="0.8"/>
<line x1="440.00" y1="104.20" x2="440.00" y2="102.60" stroke="#444" stroke-width="0.8"/>
<line x1="475.20" y1="68.50" x2="475.20" y2="70.10" stroke="#444" stroke-width="0.8"/>
<line x1="475.20" y1="104.20" x2="475.20" y2="102.60" stroke="#444" stroke-width="0.8"/>
<line x1="510.40" y1="68.50" x2="510.40" y2="70.10" stroke="#444" stroke-width="0.8"/>
<line x1="510.40" y1="104.20" x2="510.40" y2="102.60" stroke="#444" stroke-width="0.8"/>
<text x="403.50" y="70.50" text-anchor="end" font-size="8.8" fill="#242424" class="ns">1.05</text>
<text x="403.50" y="107.10" text-anchor="end" font-size="8.8" fill="#242424" class="ns">0.92</text>
<text x="405.30" y="113.70" text-anchor="middle" font-size="8.8" fill="#242424" class="ns">−2</text>
<text x="440.50" y="113.70" text-anchor="middle" font-size="8.8" fill="#242424" class="ns">0</text>
<text x="475.70" y="113.70" text-anchor="middle" font-size="8.8" fill="#242424" class="ns">2</text>
<text x="510.90" y="113.70" text-anchor="middle" font-size="8.8" fill="#242424" class="ns">4</text>
<text x="546.10" y="113.70" text-anchor="middle" font-size="8.8" fill="#242424" class="ns">6</text>
<rect x="462.80" y="68.40" width="15.8" height="11.0" fill="#fff" stroke="#2d7cf6" stroke-width="1.2"/>
<text x="470.70" y="77.00" text-anchor="middle" font-size="7.9" stroke-width="0.15" stroke="#2d7cf6" class="ns" fill="#2d7cf6">B6</text>
<line x1="42.30" y1="122.30" x2="42.30" y2="158.80" stroke="#ebebeb" stroke-width="0.7"/>
<line x1="51.10" y1="122.30" x2="51.10" y2="158.80" stroke="#ebebeb" stroke-width="0.7"/>
<line x1="59.90" y1="122.30" x2="59.90" y2="158.80" stroke="#ebebeb" stroke-width="0.7"/>
<line x1="68.70" y1="122.30" x2="68.70" y2="158.80" stroke="#ebebeb" stroke-width="0.7"/>
<line x1="77.50" y1="122.30" x2="77.50" y2="158.80" stroke="#ebebeb" stroke-width="0.7"/>
<line x1="86.30" y1="122.30" x2="86.30" y2="158.80" stroke="#ebebeb" stroke-width="0.7"/>
<line x1="95.10" y1="122.30" x2="95.10" y2="158.80" stroke="#ebebeb" stroke-width="0.7"/>
<line x1="103.90" y1="122.30" x2="103.90" y2="158.80" stroke="#ebebeb" stroke-width="0.7"/>
<line x1="112.70" y1="122.30" x2="112.70" y2="158.80" stroke="#ebebeb" stroke-width="0.7"/>
<line x1="121.50" y1="122.30" x2="121.50" y2="158.80" stroke="#ebebeb" stroke-width="0.7"/>
<line x1="130.30" y1="122.30" x2="130.30" y2="158.80" stroke="#ebebeb" stroke-width="0.7"/>
<line x1="139.10" y1="122.30" x2="139.10" y2="158.80" stroke="#ebebeb" stroke-width="0.7"/>
<line x1="147.90" y1="122.30" x2="147.90" y2="158.80" stroke="#ebebeb" stroke-width="0.7"/>
<line x1="156.70" y1="122.30" x2="156.70" y2="158.80" stroke="#ebebeb" stroke-width="0.7"/>
<line x1="165.50" y1="122.30" x2="165.50" y2="158.80" stroke="#ebebeb" stroke-width="0.7"/>
<line x1="33.50" y1="126.38" x2="174.30" y2="126.38" stroke="#f4f4f4" stroke-width="0.7"/>
<line x1="33.50" y1="132.29" x2="174.30" y2="132.29" stroke="#ebebeb" stroke-width="0.7"/>
<line x1="33.50" y1="146.77" x2="174.30" y2="146.77" stroke="#ebebeb" stroke-width="0.7"/>
<line x1="33.50" y1="153.91" x2="174.30" y2="153.91" stroke="#f4f4f4" stroke-width="0.7"/>
<line x1="68.80" y1="122.30" x2="68.80" y2="158.80" stroke="#6fa8f5" stroke-width="1.15"/>
<line x1="76.80" y1="122.30" x2="76.80" y2="158.80" stroke="#f7946a" stroke-width="1.15"/>
<line x1="133.60" y1="122.30" x2="133.60" y2="158.80" stroke="#6fa8f5" stroke-width="1.15"/>
<line x1="141.30" y1="122.30" x2="141.30" y2="158.80" stroke="#f7946a" stroke-width="1.15"/>
<polyline transform="translate(33.50,139.10) scale(0.140941,0.1)" points="0,2 1,5 2,-4 3,5 4,-7 5,7 6,7 7,-12 8,8 9,-4 10,-6 11,8 12,-6 13,3 14,-10 15,14 16,-4 17,-4 18,1 19,-18 20,13 21,-10 22,9 23,-14 24,3 25,-8 26,-12 27,15 28,-17 29,9 30,5 31,-7 32,5 33,-6 34,6 35,-8 36,-1 37,4 38,0 39,4 40,-3 41,5 42,-6 43,10 44,-11 45,18 46,-16 47,6 48,-6 49,-5 50,11 51,-12 52,6 53,-2 54,5 55,6 56,-9 57,5 58,-7 59,5 60,1 61,-1 62,4 63,-13 64,8 65,-4 66,4 67,-2 68,-6 69,7 70,-4 71,3 72,-1 73,7 74,4 75,-8 76,10 77,-10 78,9 79,-12 80,16 81,-9 82,9 83,-7 84,-3 85,2 86,-10 87,8 88,-14 89,14 90,-3 91,2 92,4 93,-4 94,3 95,-5 96,3 97,-4 98,2 99,5 100,-9 101,9 102,-3 103,2 104,-5 105,6 106,6 107,-14 108,10 109,-7 110,8 111,-4 112,6 113,0 114,-5 115,7 116,-8 117,14 118,-2 119,-10 120,11 121,-8 122,1 123,-2 124,3 125,-4 126,0 127,8 128,-9 129,11 130,-12 131,2 132,-1 133,3 134,-5 135,3 136,-6 137,7 138,-2 139,-13 140,10 141,-6 142,3 143,-4 144,3 145,0 146,3 147,5 148,-2 149,-2 150,-4 151,8 152,-5 153,7 154,2 155,-15 156,18 157,-15 158,15 159,-14 160,1 161,11 162,-9 163,5 164,3 165,-3 166,10 167,-11 168,17 169,-3 170,8 171,10 172,-18 173,11 174,-11 175,0 176,9 177,-8 178,6 179,-5 180,4 181,-6 182,2 183,-2 184,3 185,5 186,-6 187,7 188,-5 189,3 190,-1 191,4 192,-3 193,-1 194,3 195,-4 196,6 197,-6 198,3 199,3 200,-8 201,3 202,-2 203,-6 204,12 205,-7 206,22 207,-9 208,11 209,-6 210,10 211,-6 212,1 213,-11 214,-14 215,4 216,-7 217,3 218,-6 219,3 220,-10 221,4 222,-7 223,3 224,-4 225,-10 226,7 227,-12 228,12 229,-24 230,6 231,-4 232,-17 233,15 234,-24 235,16 236,-12 237,-4 238,5 239,-7 240,6 241,-17 242,8 243,0 244,-9 245,0 246,4 247,6 248,-9 249,8 250,-6 251,6 252,7 253,-17 254,26 255,-26 256,21 257,-27 258,12 259,-9 260,-2 261,4 262,-26 263,22 264,-12 265,-3 266,25 267,-22 268,5 269,0 270,8 271,22 272,-17 273,16 274,-2 275,5 276,12 277,-28 278,7 279,1 280,-13 281,11 282,-12 283,30 284,-14 285,8 286,0 287,-2 288,11 289,-18 290,12 291,-34 292,7 293,21 294,-11 295,2 296,-4 297,4 298,13 299,-13 300,0 301,39 302,-19 303,14 304,-21 305,16 306,-1 307,-49 308,70 309,-67 310,40 311,-16 312,5 313,4 314,-21 315,26 316,-12 317,36 318,15 319,-48 320,18 321,-4 322,11 323,-23 324,24 325,-21 326,25 327,18 328,-13 329,20 330,-23 331,18 332,-22 333,52 334,-33 335,15 336,-8 337,-2 338,23 339,-32 340,19 341,-2 342,4 343,-2 344,-4 345,-18 346,-34 347,28 348,-15 349,4 350,-5 351,-13 352,9 353,-15 354,41 355,-27 356,49 357,-44 358,22 359,26 360,-42 361,8 362,-20 363,9 364,8 365,-1 366,31 367,-28 368,20 369,-21 370,18 371,-25 372,-21 373,46 374,-29 375,2 376,-12 377,-2 378,-13 379,9 380,35 381,-33 382,48 383,28 384,-4 385,43 386,-57 387,-60 388,80 389,-30 390,32 391,-9 392,3 393,-4 394,-16 395,18 396,-36 397,25 398,-24 399,17 400,-15 401,5 402,4 403,-21 404,12 405,9 406,-3 407,5 408,0 409,2 410,-13 411,21 412,-18 413,4 414,21 415,-13 416,49 417,-14 418,2 419,5 420,-13 421,16 422,-37 423,12 424,7 425,-35 426,37 427,-13 428,7 429,-16 430,2 431,-4 432,8 433,-3 434,-9 435,13 436,-12 437,14 438,-11 439,0 440,9 441,-10 442,15 443,-8 444,14 445,3 446,-11 447,4 448,-8 449,18 450,-5 451,-3 452,9 453,-11 454,35 455,-24 456,11 457,-9 458,8 459,4 460,-17 461,7 462,8 463,-8 464,3 465,-1 466,-8 467,6 468,-7 469,1 470,-2 471,-3 472,13 473,-26 474,28 475,-2 476,3 477,-2 478,-6 479,8 480,-13 481,8 482,-16 483,10 484,-20 485,22 486,-22 487,24 488,-4 489,-11 490,8 491,-13 492,13 493,-17 494,3 495,19 496,-15 497,17 498,-11 499,11 500,-10 501,12 502,-19 503,14 504,-2 505,-13 506,17 507,-18 508,0 509,11 510,-11 511,7 512,-1 513,-13 514,7 515,-4 516,6 517,-7 518,6 519,-7 520,19 521,-13 522,-4 523,25 524,-20 525,11 526,17 527,-33 528,13 529,-8 530,-12 531,33 532,-36 533,16 534,-8 535,-15 536,14 537,-25 538,47 539,-25 540,38 541,-16 542,8 543,-8 544,16 545,-6 546,7 547,2 548,-9 549,12 550,0 551,-44 552,36 553,-41 554,32 555,-4 556,3 557,-10 558,-18 559,39 560,-10 561,-5 562,13 563,-26 564,20 565,-24 566,5 567,1 568,-18 569,6 570,-12 571,17 572,-4 573,21 574,-8 575,-2 576,7 577,-10 578,12 579,-8 580,-4 581,11 582,-11 583,28 584,-3 585,-2 586,17 587,-21 588,31 589,-1 590,-13 591,27 592,-12 593,61 594,-33 595,7 596,16 597,-45 598,41 599,-22 600,21 601,-31 602,29 603,30 604,-49 605,39 606,-24 607,12 608,4 609,-2 610,10 611,-7 612,0 613,-7 614,-13 615,43 616,-16 617,20 618,32 619,-23 620,48 621,-57 622,15 623,-18 624,-15 625,7 626,-6 627,39 628,-19 629,17 630,0 631,-20 632,33 633,-57 634,57 635,-43 636,43 637,2 638,-71 639,91 640,-15 641,-29 642,15 643,-24 644,7 645,1 646,-18 647,11 648,-19 649,12 650,-1 651,30 652,-25 653,-1 654,13 655,-26 656,35 657,-42 658,4 659,24 660,-20 661,16 662,-11 663,23 664,-14 665,18 666,66 667,-23 668,29 669,-13 670,57 671,-30 672,67 673,-49 674,22 675,31 676,-67 677,20 678,-61 679,-27 680,33 681,-22 682,-18 683,37 684,-41 685,28 686,-22 687,10 688,-10 689,14 690,3 691,0 692,-73 693,57 694,35 695,-31 696,5 697,-35 698,34 699,-16 700,21 701,-3 702,-5 703,10 704,-15 705,21 706,-9 707,-21 708,28 709,-12 710,9 711,-8 712,19 713,20 714,-33 715,25 716,-47 717,49 718,-54 719,9 720,13 721,-47 722,31 723,-14 724,15 725,-1 726,-31 727,22 728,-51 729,52 730,-47 731,34 732,-15 733,-14 734,24 735,-37 736,53 737,-66 738,66 739,-49 740,30 741,18 742,-11 743,8 744,-5 745,-4 746,3 747,-22 748,-14 749,40 750,-18 751,2 752,9 753,-9 754,10 755,-8 756,7 757,-6 758,-1 759,0 760,5 761,-4 762,-9 763,9 764,-7 765,8 766,-10 767,10 768,-8 769,9 770,-3 771,5 772,-5 773,-6 774,15 775,-12 776,13 777,-7 778,7 779,-12 780,-1 781,-2 782,-1 783,8 784,-13 785,11 786,-5 787,5 788,-6 789,-2 790,1 791,-3 792,1 793,-6 794,11 795,-8 796,14 797,-19 798,5 799,20 800,-12 801,4 802,6 803,-8 804,7 805,-9 806,4 807,2 808,-2 809,5 810,-6 811,7 812,-5 813,9 814,-3 815,0 816,1 817,-16 818,13 819,-14 820,8 821,-7 822,8 823,-7 824,10 825,6 826,-18 827,14 828,-9 829,15 830,-13 831,15 832,-30 833,18 834,-12 835,11 836,-9 837,13 838,-1 839,1 840,5 841,-4 842,22 843,-17 844,20 845,-3 846,-12 847,18 848,-12 849,18 850,-17 851,7 852,6 853,-11 854,15 855,-14 856,7 857,-18 858,15 859,-9 860,5 861,-9 862,8 863,-4 864,9 865,5 866,-14 867,10 868,-8 869,7 870,-2 871,-18 872,21 873,-13 874,15 875,-1 876,2 877,-7 878,13 879,-2 880,-16 881,20 882,-12 883,9 884,9 885,-17 886,10 887,4 888,-6 889,10 890,-12 891,7 892,-9 893,11 894,-10 895,13 896,-14 897,13 898,-7 899,11 900,-10 901,6 902,-5 903,-3 904,2 905,-9 906,6 907,5 908,-13 909,15 910,-15 911,0 912,4 913,-6 914,6 915,-8 916,9 917,-8 918,0 919,9 920,-13 921,6 922,-14 923,13 924,-7 925,-1 926,2 927,-6 928,19 929,-13 930,-5 931,3 932,-5 933,5 934,-12 935,17 936,-12 937,15 938,-19 939,9 940,-8 941,5 942,-4 943,-5 944,8 945,-12 946,2 947,9 948,-10 949,4 950,-6 951,-2 952,6 953,-8 954,12 955,-7 956,-8 957,17 958,-11 959,18 960,2 961,0 962,-4 963,0 964,8 965,-11 966,5 967,4 968,-2 969,13 970,-10 971,11 972,-2 973,-18 974,11 975,-14 976,15 977,-15 978,4 979,4 980,-8 981,8 982,-1 983,-4 984,5 985,-7 986,6 987,-7 988,4 989,-2 990,1 991,7 992,-6 993,5 994,2 995,-5 996,6 997,-8 998,6 999,1" fill="none" stroke="#0552f8" stroke-width="0.8" vector-effect="non-scaling-stroke" stroke-linejoin="round"/>
<rect x="33.50" y="122.30" width="140.80" height="36.50" fill="none" stroke="#838383" stroke-width="1.3"/>
<line x1="68.70" y1="122.30" x2="68.70" y2="123.90" stroke="#444" stroke-width="0.8"/>
<line x1="68.70" y1="158.80" x2="68.70" y2="157.20" stroke="#444" stroke-width="0.8"/>
<line x1="103.90" y1="122.30" x2="103.90" y2="123.90" stroke="#444" stroke-width="0.8"/>
<line x1="103.90" y1="158.80" x2="103.90" y2="157.20" stroke="#444" stroke-width="0.8"/>
<line x1="139.10" y1="122.30" x2="139.10" y2="123.90" stroke="#444" stroke-width="0.8"/>
<line x1="139.10" y1="158.80" x2="139.10" y2="157.20" stroke="#444" stroke-width="0.8"/>
<text x="32.20" y="124.30" text-anchor="end" font-size="8.8" fill="#242424" class="ns">1.05</text>
<text x="32.20" y="161.70" text-anchor="end" font-size="8.8" fill="#242424" class="ns">0.92</text>
<text x="34.00" y="168.30" text-anchor="middle" font-size="8.8" fill="#242424" class="ns">−2</text>
<text x="69.20" y="168.30" text-anchor="middle" font-size="8.8" fill="#242424" class="ns">0</text>
<text x="104.40" y="168.30" text-anchor="middle" font-size="8.8" fill="#242424" class="ns">2</text>
<text x="139.60" y="168.30" text-anchor="middle" font-size="8.8" fill="#242424" class="ns">4</text>
<text x="174.80" y="168.30" text-anchor="middle" font-size="8.8" fill="#242424" class="ns">6</text>
<rect x="84.60" y="121.20" width="15.8" height="11.0" fill="#fff" stroke="#ff5f24" stroke-width="1.2"/>
<text x="92.50" y="129.80" text-anchor="middle" font-size="7.9" font-weight="bold" class="ns" fill="#ff5f24">B7</text>
<line x1="228.00" y1="122.30" x2="228.00" y2="158.80" stroke="#ebebeb" stroke-width="0.7"/>
<line x1="236.80" y1="122.30" x2="236.80" y2="158.80" stroke="#ebebeb" stroke-width="0.7"/>
<line x1="245.60" y1="122.30" x2="245.60" y2="158.80" stroke="#ebebeb" stroke-width="0.7"/>
<line x1="254.40" y1="122.30" x2="254.40" y2="158.80" stroke="#ebebeb" stroke-width="0.7"/>
<line x1="263.20" y1="122.30" x2="263.20" y2="158.80" stroke="#ebebeb" stroke-width="0.7"/>
<line x1="272.00" y1="122.30" x2="272.00" y2="158.80" stroke="#ebebeb" stroke-width="0.7"/>
<line x1="280.80" y1="122.30" x2="280.80" y2="158.80" stroke="#ebebeb" stroke-width="0.7"/>
<line x1="289.60" y1="122.30" x2="289.60" y2="158.80" stroke="#ebebeb" stroke-width="0.7"/>
<line x1="298.40" y1="122.30" x2="298.40" y2="158.80" stroke="#ebebeb" stroke-width="0.7"/>
<line x1="307.20" y1="122.30" x2="307.20" y2="158.80" stroke="#ebebeb" stroke-width="0.7"/>
<line x1="316.00" y1="122.30" x2="316.00" y2="158.80" stroke="#ebebeb" stroke-width="0.7"/>
<line x1="324.80" y1="122.30" x2="324.80" y2="158.80" stroke="#ebebeb" stroke-width="0.7"/>
<line x1="333.60" y1="122.30" x2="333.60" y2="158.80" stroke="#ebebeb" stroke-width="0.7"/>
<line x1="342.40" y1="122.30" x2="342.40" y2="158.80" stroke="#ebebeb" stroke-width="0.7"/>
<line x1="351.20" y1="122.30" x2="351.20" y2="158.80" stroke="#ebebeb" stroke-width="0.7"/>
<line x1="219.20" y1="126.38" x2="360.00" y2="126.38" stroke="#f4f4f4" stroke-width="0.7"/>
<line x1="219.20" y1="132.29" x2="360.00" y2="132.29" stroke="#ebebeb" stroke-width="0.7"/>
<line x1="219.20" y1="146.77" x2="360.00" y2="146.77" stroke="#ebebeb" stroke-width="0.7"/>
<line x1="219.20" y1="153.91" x2="360.00" y2="153.91" stroke="#f4f4f4" stroke-width="0.7"/>
<line x1="254.50" y1="122.30" x2="254.50" y2="158.80" stroke="#6fa8f5" stroke-width="1.15"/>
<line x1="262.50" y1="122.30" x2="262.50" y2="158.80" stroke="#f7946a" stroke-width="1.15"/>
<line x1="319.30" y1="122.30" x2="319.30" y2="158.80" stroke="#6fa8f5" stroke-width="1.15"/>
<line x1="327.00" y1="122.30" x2="327.00" y2="158.80" stroke="#f7946a" stroke-width="1.15"/>
<polyline transform="translate(219.20,140.10) scale(0.140941,0.1)" points="0,-5 1,5 2,-10 3,10 4,-13 5,-1 6,8 7,-7 8,7 9,-6 10,2 11,5 12,-6 13,1 14,6 15,-7 16,1 17,2 18,3 19,-2 20,-2 21,3 22,-7 23,8 24,-15 25,16 26,12 27,-16 28,18 29,-16 30,13 31,-10 32,7 33,-3 34,2 35,12 36,-12 37,12 38,-6 39,-3 40,15 41,-17 42,2 43,16 44,-9 45,14 46,-11 47,3 48,14 49,-10 50,18 51,-8 52,-2 53,5 54,-10 55,12 56,-10 57,6 58,-5 59,-5 60,5 61,-8 62,3 63,3 64,-5 65,6 66,-4 67,3 68,8 69,-9 70,7 71,-6 72,8 73,-5 74,9 75,1 76,-1 77,6 78,-11 79,9 80,-7 81,8 82,-1 83,-5 84,7 85,-7 86,9 87,-1 88,-14 89,19 90,-15 91,18 92,-6 93,-3 94,11 95,-11 96,3 97,-4 98,-3 99,11 100,-5 101,4 102,-5 103,5 104,7 105,-2 106,6 107,-12 108,10 109,-5 110,7 111,-11 112,5 113,-7 114,8 115,-5 116,6 117,-4 118,0 119,6 120,-10 121,11 122,-15 123,13 124,-7 125,-5 126,8 127,-11 128,12 129,-9 130,11 131,-13 132,27 133,-12 134,17 135,-3 136,8 137,-7 138,10 139,-7 140,3 141,0 142,-11 143,10 144,-5 145,3 146,-3 147,-4 148,3 149,-11 150,5 151,-10 152,11 153,-2 154,5 155,4 156,-7 157,8 158,-10 159,-1 160,11 161,-14 162,-4 163,13 164,-10 165,4 166,5 167,-6 168,10 169,-14 170,15 171,-10 172,17 173,-10 174,5 175,-6 176,2 177,-4 178,6 179,-5 180,9 181,-12 182,3 183,2 184,-4 185,10 186,-16 187,6 188,-3 189,-4 190,5 191,-5 192,8 193,-12 194,15 195,-8 196,9 197,-12 198,18 199,-15 200,4 201,5 202,-5 203,11 204,-6 205,8 206,-13 207,21 208,-25 209,22 210,-17 211,23 212,-9 213,11 214,3 215,-12 216,11 217,-7 218,-9 219,13 220,-14 221,12 222,-8 223,-6 224,15 225,-17 226,11 227,-12 228,12 229,6 230,0 231,6 232,-1 233,7 234,-4 235,5 236,-11 237,16 238,-9 239,1 240,9 241,-16 242,16 243,0 244,7 245,-7 246,-8 247,-1 248,-14 249,15 250,-20 251,7 252,16 253,-22 254,5 255,20 256,-34 257,28 258,-32 259,30 260,-7 261,-9 262,21 263,-9 264,12 265,9 266,-10 267,9 268,-15 269,10 270,-15 271,3 272,-3 273,4 274,6 275,-8 276,4 277,-8 278,5 279,-1 280,3 281,-1 282,-2 283,4 284,-12 285,6 286,1 287,-11 288,3 289,1 290,-7 291,13 292,13 293,-13 294,10 295,-14 296,12 297,-10 298,6 299,21 300,-44 301,30 302,-7 303,-16 304,16 305,-17 306,98 307,-75 308,69 309,8 310,-23 311,15 312,-29 313,53 314,-44 315,47 316,-27 317,18 318,6 319,-35 320,36 321,-41 322,12 323,36 324,-29 325,28 326,-23 327,15 328,-2 329,7 330,-7 331,16 332,-16 333,26 334,-36 335,-14 336,21 337,-21 338,14 339,7 340,-1 341,13 342,-44 343,42 344,-23 345,47 346,-19 347,-34 348,70 349,-46 350,49 351,-62 352,55 353,-65 354,46 355,-20 356,23 357,-53 358,3 359,-3 360,-5 361,5 362,-24 363,12 364,-22 365,31 366,-45 367,22 368,11 369,-10 370,-5 371,6 372,8 373,-13 374,13 375,1 376,3 377,23 378,-72 379,66 380,-46 381,94 382,-9 383,-4 384,26 385,-57 386,113 387,-23 388,49 389,-46 390,51 391,-60 392,36 393,-60 394,26 395,-21 396,-43 397,44 398,-30 399,27 400,25 401,-34 402,27 403,-42 404,50 405,-14 406,-20 407,60 408,-55 409,60 410,-4 411,-4 412,27 413,-40 414,17 415,1 416,-43 417,67 418,-40 419,28 420,-48 421,-18 422,39 423,-63 424,15 425,-5 426,-14 427,22 428,-54 429,75 430,-3 431,-39 432,32 433,-53 434,38 435,-5 436,-25 437,31 438,-10 439,25 440,-44 441,3 442,98 443,-62 444,10 445,22 446,-64 447,25 448,19 449,-44 450,29 451,-36 452,49 453,-60 454,20 455,-20 456,17 457,14 458,-39 459,21 460,-24 461,29 462,-27 463,15 464,-12 465,2 466,15 467,-7 468,-2 469,-13 470,28 471,-44 472,46 473,-38 474,28 475,-11 476,21 477,-27 478,30 479,-24 480,-40 481,38 482,-47 483,53 484,-59 485,44 486,-4 487,29 488,-25 489,3 490,-15 491,15 492,18 493,-9 494,8 495,2 496,33 497,-63 498,56 499,-52 500,26 501,-34 502,-24 503,42 504,-48 505,19 506,5 507,-37 508,42 509,-45 510,45 511,-40 512,-17 513,52 514,-31 515,20 516,-32 517,31 518,7 519,-16 520,12 521,-50 522,39 523,-33 524,-10 525,16 526,-44 527,51 528,-12 529,-18 530,25 531,-11 532,16 533,-35 534,8 535,-3 536,-12 537,13 538,-27 539,-1 540,-2 541,-37 542,26 543,-41 544,15 545,28 546,-59 547,23 548,-10 549,0 550,-2 551,-4 552,10 553,-31 554,38 555,-9 556,3 557,10 558,2 559,-21 560,-9 561,16 562,-50 563,18 564,-6 565,-6 566,11 567,-19 568,18 569,-11 570,11 571,-5 572,-6 573,26 574,-14 575,10 576,-11 577,-37 578,30 579,-57 580,25 581,-27 582,-9 583,8 584,5 585,-4 586,-45 587,28 588,-21 589,50 590,-53 591,82 592,-38 593,-33 594,19 595,-29 596,10 597,-16 598,-15 599,30 600,-28 601,38 602,-42 603,43 604,-27 605,0 606,1 607,-2 608,19 609,-14 610,-10 611,-30 612,30 613,-27 614,39 615,-66 616,78 617,-18 618,4 619,72 620,-56 621,67 622,-78 623,18 624,-31 625,-44 626,17 627,-23 628,14 629,-12 630,19 631,-24 632,35 633,-28 634,7 635,9 636,-25 637,28 638,-18 639,24 640,-29 641,56 642,-3 643,30 644,-8 645,19 646,-26 647,41 648,7 649,-33 650,54 651,-52 652,41 653,-109 654,37 655,-80 656,61 657,-65 658,-83 659,91 660,20 661,12 662,11 663,34 664,-40 665,13 666,3 667,-6 668,10 669,-25 670,47 671,-35 672,10 673,33 674,-37 675,39 676,-54 677,52 678,-84 679,19 680,10 681,-26 682,69 683,-51 684,30 685,-115 686,12 687,-1 688,-4 689,19 690,-26 691,22 692,-30 693,40 694,-16 695,26 696,9 697,-15 698,28 699,-27 700,30 701,-23 702,37 703,-85 704,-7 705,20 706,-29 707,20 708,-22 709,28 710,-16 711,10 712,-7 713,9 714,-8 715,21 716,19 717,-41 718,43 719,-34 720,70 721,-44 722,-5 723,9 724,-24 725,22 726,-16 727,53 728,-42 729,55 730,-67 731,16 732,27 733,-24 734,13 735,-25 736,61 737,-81 738,44 739,-57 740,38 741,-62 742,-16 743,64 744,-47 745,57 746,-68 747,40 748,-5 749,0 750,27 751,-15 752,29 753,-14 754,14 755,-8 756,4 757,-5 758,-14 759,58 760,-23 761,19 762,-44 763,6 764,17 765,-14 766,14 767,-7 768,7 769,-7 770,2 771,7 772,-5 773,10 774,-8 775,14 776,-18 777,31 778,-32 779,19 780,-20 781,15 782,24 783,-20 784,14 785,-15 786,11 787,-5 788,9 789,-8 790,8 791,-10 792,6 793,-10 794,2 795,6 796,-7 797,9 798,-9 799,9 800,0 801,-3 802,13 803,-23 804,8 805,-1 806,-14 807,4 808,-6 809,2 810,-9 811,14 812,-19 813,21 814,-28 815,11 816,-4 817,12 818,15 819,-7 820,0 821,3 822,12 823,-5 824,9 825,-4 826,8 827,-3 828,3 829,7 830,-15 831,13 832,2 833,-10 834,3 835,-6 836,2 837,3 838,-4 839,10 840,-13 841,9 842,-5 843,6 844,1 845,-4 846,8 847,-4 848,6 849,0 850,-5 851,9 852,-8 853,1 854,-2 855,1 856,-1 857,8 858,4 859,0 860,10 861,-19 862,20 863,-14 864,6 865,0 866,1 867,0 868,-4 869,3 870,-5 871,8 872,-3 873,7 874,-9 875,-2 876,15 877,-10 878,-1 879,9 880,-24 881,20 882,-14 883,5 884,-7 885,1 886,6 887,-15 888,12 889,-13 890,9 891,-8 892,2 893,-4 894,4 895,16 896,-19 897,4 898,4 899,-10 900,16 901,-11 902,3 903,9 904,-23 905,25 906,-15 907,0 908,16 909,-15 910,12 911,1 912,-8 913,11 914,-6 915,7 916,-9 917,4 918,-6 919,-9 920,8 921,0 922,-1 923,5 924,-9 925,8 926,-14 927,0 928,17 929,-9 930,13 931,-4 932,-1 933,3 934,-8 935,13 936,-11 937,16 938,-7 939,6 940,-3 941,-1 942,6 943,-5 944,4 945,-7 946,6 947,-5 948,7 949,-8 950,11 951,-14 952,11 953,-3 954,5 955,3 956,-6 957,4 958,-3 959,2 960,10 961,-14 962,15 963,-15 964,16 965,-10 966,5 967,-7 968,0 969,6 970,-20 971,6 972,-10 973,-7 974,8 975,-15 976,18 977,-11 978,10 979,-14 980,1 981,-1 982,-6 983,13 984,-12 985,20 986,-12 987,8 988,-7 989,-9 990,15 991,-6 992,-7 993,12 994,1 995,1 996,0 997,-6 998,8 999,-6" fill="none" stroke="#0552f8" stroke-width="0.8" vector-effect="non-scaling-stroke" stroke-linejoin="round"/>
<rect x="219.20" y="122.30" width="140.80" height="36.50" fill="none" stroke="#838383" stroke-width="1.3"/>
<line x1="254.40" y1="122.30" x2="254.40" y2="123.90" stroke="#444" stroke-width="0.8"/>
<line x1="254.40" y1="158.80" x2="254.40" y2="157.20" stroke="#444" stroke-width="0.8"/>
<line x1="289.60" y1="122.30" x2="289.60" y2="123.90" stroke="#444" stroke-width="0.8"/>
<line x1="289.60" y1="158.80" x2="289.60" y2="157.20" stroke="#444" stroke-width="0.8"/>
<line x1="324.80" y1="122.30" x2="324.80" y2="123.90" stroke="#444" stroke-width="0.8"/>
<line x1="324.80" y1="158.80" x2="324.80" y2="157.20" stroke="#444" stroke-width="0.8"/>
<text x="217.90" y="124.30" text-anchor="end" font-size="8.8" fill="#242424" class="ns">1.05</text>
<text x="217.90" y="161.70" text-anchor="end" font-size="8.8" fill="#242424" class="ns">0.92</text>
<text x="219.70" y="168.30" text-anchor="middle" font-size="8.8" fill="#242424" class="ns">−2</text>
<text x="254.90" y="168.30" text-anchor="middle" font-size="8.8" fill="#242424" class="ns">0</text>
<text x="290.10" y="168.30" text-anchor="middle" font-size="8.8" fill="#242424" class="ns">2</text>
<text x="325.30" y="168.30" text-anchor="middle" font-size="8.8" fill="#242424" class="ns">4</text>
<text x="360.50" y="168.30" text-anchor="middle" font-size="8.8" fill="#242424" class="ns">6</text>
<rect x="275.00" y="121.20" width="15.8" height="11.0" fill="#fff" stroke="#ff5f24" stroke-width="1.2"/>
<text x="282.90" y="129.80" text-anchor="middle" font-size="7.9" stroke-width="0.15" stroke="#ff5f24" class="ns" fill="#ff5f24">B8</text>
<line x1="413.60" y1="122.30" x2="413.60" y2="158.80" stroke="#ebebeb" stroke-width="0.7"/>
<line x1="422.40" y1="122.30" x2="422.40" y2="158.80" stroke="#ebebeb" stroke-width="0.7"/>
<line x1="431.20" y1="122.30" x2="431.20" y2="158.80" stroke="#ebebeb" stroke-width="0.7"/>
<line x1="440.00" y1="122.30" x2="440.00" y2="158.80" stroke="#ebebeb" stroke-width="0.7"/>
<line x1="448.80" y1="122.30" x2="448.80" y2="158.80" stroke="#ebebeb" stroke-width="0.7"/>
<line x1="457.60" y1="122.30" x2="457.60" y2="158.80" stroke="#ebebeb" stroke-width="0.7"/>
<line x1="466.40" y1="122.30" x2="466.40" y2="158.80" stroke="#ebebeb" stroke-width="0.7"/>
<line x1="475.20" y1="122.30" x2="475.20" y2="158.80" stroke="#ebebeb" stroke-width="0.7"/>
<line x1="484.00" y1="122.30" x2="484.00" y2="158.80" stroke="#ebebeb" stroke-width="0.7"/>
<line x1="492.80" y1="122.30" x2="492.80" y2="158.80" stroke="#ebebeb" stroke-width="0.7"/>
<line x1="501.60" y1="122.30" x2="501.60" y2="158.80" stroke="#ebebeb" stroke-width="0.7"/>
<line x1="510.40" y1="122.30" x2="510.40" y2="158.80" stroke="#ebebeb" stroke-width="0.7"/>
<line x1="519.20" y1="122.30" x2="519.20" y2="158.80" stroke="#ebebeb" stroke-width="0.7"/>
<line x1="528.00" y1="122.30" x2="528.00" y2="158.80" stroke="#ebebeb" stroke-width="0.7"/>
<line x1="536.80" y1="122.30" x2="536.80" y2="158.80" stroke="#ebebeb" stroke-width="0.7"/>
<line x1="404.80" y1="126.38" x2="545.60" y2="126.38" stroke="#f4f4f4" stroke-width="0.7"/>
<line x1="404.80" y1="132.29" x2="545.60" y2="132.29" stroke="#ebebeb" stroke-width="0.7"/>
<line x1="404.80" y1="146.77" x2="545.60" y2="146.77" stroke="#ebebeb" stroke-width="0.7"/>
<line x1="404.80" y1="153.91" x2="545.60" y2="153.91" stroke="#f4f4f4" stroke-width="0.7"/>
<line x1="440.10" y1="122.30" x2="440.10" y2="158.80" stroke="#6fa8f5" stroke-width="1.15"/>
<line x1="448.10" y1="122.30" x2="448.10" y2="158.80" stroke="#f7946a" stroke-width="1.15"/>
<line x1="504.90" y1="122.30" x2="504.90" y2="158.80" stroke="#6fa8f5" stroke-width="1.15"/>
<line x1="512.60" y1="122.30" x2="512.60" y2="158.80" stroke="#f7946a" stroke-width="1.15"/>
<polyline transform="translate(404.80,139.65) scale(0.140941,0.1)" points="0,-4 1,6 2,-1 3,-4 4,6 5,-6 6,8 7,-12 8,9 9,-1 10,-6 11,4 12,-7 13,6 14,-6 15,3 16,6 17,-7 18,7 19,-5 20,-1 21,9 22,-9 23,1 24,2 25,-6 26,9 27,-7 28,7 29,-10 30,2 31,-9 32,5 33,-2 34,-4 35,9 36,-4 37,1 38,1 39,-1 40,9 41,-8 42,6 43,-4 44,2 45,1 46,-2 47,10 48,-7 49,8 50,-14 51,12 52,-2 53,-7 54,13 55,-1 56,6 57,12 58,-13 59,15 60,-8 61,4 62,-3 63,8 64,0 65,9 66,-10 67,-13 68,17 69,-12 70,17 71,-18 72,19 73,-16 74,14 75,-20 76,8 77,5 78,-14 79,14 80,-1 81,6 82,0 83,-2 84,10 85,-9 86,4 87,-7 88,-4 89,6 90,-11 91,4 92,2 93,-4 94,1 95,-4 96,8 97,-7 98,12 99,-8 100,3 101,11 102,-20 103,15 104,-8 105,1 106,10 107,-6 108,10 109,-8 110,9 111,-12 112,12 113,0 114,-3 115,11 116,-7 117,10 118,-4 119,2 120,-5 121,0 122,-2 123,5 124,-3 125,6 126,4 127,-7 128,3 129,-7 130,8 131,-11 132,-3 133,3 134,-23 135,13 136,0 137,-2 138,9 139,-8 140,10 141,-6 142,6 143,-5 144,6 145,1 146,-15 147,9 148,-8 149,5 150,-4 151,3 152,3 153,-1 154,5 155,-4 156,5 157,-4 158,8 159,-11 160,5 161,-1 162,-13 163,13 164,-10 165,11 166,-7 167,-1 168,16 169,-9 170,11 171,-11 172,12 173,-4 174,-6 175,9 176,-9 177,7 178,2 179,-7 180,12 181,-7 182,-7 183,3 184,-1 185,4 186,-7 187,8 188,-9 189,12 190,-11 191,12 192,-12 193,-6 194,17 195,-10 196,0 197,6 198,-9 199,0 200,2 201,-7 202,7 203,-13 204,7 205,3 206,-4 207,11 208,-3 209,-1 210,3 211,1 212,-7 213,4 214,-10 215,6 216,-9 217,-6 218,6 219,-9 220,17 221,-4 222,11 223,-5 224,3 225,5 226,-10 227,14 228,-9 229,18 230,-30 231,32 232,-15 233,-10 234,9 235,-26 236,24 237,-14 238,28 239,-29 240,12 241,1 242,-10 243,29 244,0 245,-3 246,11 247,-7 248,6 249,-6 250,-5 251,10 252,-5 253,9 254,-16 255,16 256,-11 257,6 258,-1 259,1 260,5 261,-8 262,5 263,0 264,-10 265,22 266,-27 267,43 268,-22 269,21 270,1 271,-14 272,15 273,-32 274,21 275,-30 276,-3 277,11 278,-7 279,11 280,-6 281,18 282,-12 283,14 284,-9 285,23 286,-15 287,-8 288,22 289,-41 290,26 291,-35 292,42 293,-49 294,60 295,13 296,-26 297,15 298,-30 299,41 300,-21 301,-36 302,37 303,-44 304,16 305,-13 306,-9 307,10 308,-14 309,-5 310,14 311,-11 312,25 313,21 314,-4 315,7 316,-26 317,36 318,-50 319,27 320,-37 321,33 322,-5 323,-8 324,12 325,-21 326,10 327,-11 328,7 329,25 330,-34 331,53 332,-28 333,-16 334,6 335,-65 336,74 337,-30 338,-12 339,31 340,-32 341,-14 342,25 343,-26 344,23 345,-12 346,10 347,-7 348,-16 349,14 350,1 351,11 352,-74 353,57 354,-19 355,7 356,22 357,-49 358,37 359,-21 360,-43 361,46 362,-38 363,-6 364,37 365,-23 366,8 367,-11 368,12 369,-8 370,11 371,17 372,-11 373,13 374,-35 375,36 376,-35 377,40 378,-14 379,-28 380,57 381,-48 382,43 383,17 384,3 385,21 386,-33 387,27 388,-28 389,14 390,-5 391,1 392,1 393,4 394,-12 395,13 396,-23 397,40 398,-63 399,77 400,-17 401,31 402,-21 403,11 404,4 405,-4 406,7 407,-5 408,7 409,-16 410,1 411,3 412,1 413,5 414,-9 415,14 416,-21 417,26 418,-8 419,10 420,5 421,-16 422,18 423,-6 424,-13 425,34 426,-51 427,25 428,-52 429,24 430,-18 431,-23 432,15 433,-34 434,32 435,-10 436,11 437,-16 438,12 439,-2 440,-3 441,26 442,-19 443,44 444,-52 445,37 446,13 447,-18 448,52 449,-44 450,1 451,13 452,-9 453,23 454,-42 455,42 456,1 457,18 458,-20 459,-8 460,8 461,-16 462,14 463,-13 464,15 465,2 466,-10 467,7 468,-24 469,44 470,-65 471,72 472,-17 473,11 474,-4 475,-16 476,19 477,-19 478,5 479,-12 480,-36 481,41 482,6 483,-59 484,33 485,-18 486,15 487,-13 488,28 489,-48 490,11 491,-28 492,33 493,12 494,-15 495,17 496,-37 497,45 498,28 499,-2 500,10 501,-23 502,41 503,-52 504,11 505,35 506,-58 507,59 508,-51 509,62 510,-50 511,0 512,3 513,-21 514,15 515,-10 516,20 517,-9 518,-7 519,4 520,-24 521,44 522,-36 523,42 524,-65 525,56 526,-49 527,24 528,-15 529,-8 530,41 531,-32 532,39 533,-41 534,-3 535,30 536,-16 537,44 538,-28 539,20 540,33 541,-56 542,40 543,-26 544,46 545,-22 546,-16 547,55 548,-24 549,-9 550,7 551,-12 552,3 553,-3 554,18 555,-11 556,29 557,-15 558,13 559,-3 560,6 561,-7 562,3 563,-11 564,11 565,15 566,-21 567,15 568,-30 569,10 570,0 571,-21 572,13 573,-6 574,10 575,12 576,-35 577,34 578,-22 579,62 580,-49 581,49 582,7 583,-46 584,41 585,-35 586,18 587,-14 588,5 589,-3 590,4 591,4 592,-13 593,20 594,0 595,-9 596,20 597,-18 598,24 599,-12 600,1 601,-12 602,-8 603,3 604,-19 605,39 606,-29 607,31 608,-29 609,-3 610,46 611,-19 612,0 613,14 614,-32 615,13 616,-1 617,4 618,-9 619,12 620,10 621,-46 622,65 623,-63 624,30 625,-24 626,-24 627,37 628,-23 629,42 630,-8 631,-6 632,25 633,-21 634,21 635,-14 636,23 637,-18 638,46 639,-29 640,42 641,-47 642,-2 643,36 644,-53 645,57 646,-35 647,43 648,-30 649,5 650,17 651,-40 652,13 653,-7 654,-6 655,16 656,-4 657,-24 658,45 659,-34 660,17 661,-7 662,3 663,-21 664,-5 665,-5 666,0 667,19 668,-25 669,23 670,-15 671,6 672,1 673,9 674,6 675,-35 676,61 677,-65 678,44 679,-6 680,-18 681,31 682,-41 683,-7 684,-3 685,14 686,33 687,-44 688,16 689,-32 690,10 691,16 692,-12 693,22 694,-19 695,18 696,-14 697,28 698,-31 699,49 700,-33 701,24 702,-6 703,-10 704,16 705,-37 706,44 707,-43 708,8 709,-3 710,-33 711,25 712,-15 713,-11 714,19 715,-35 716,18 717,-40 718,23 719,-13 720,-12 721,19 722,-33 723,30 724,-18 725,8 726,-14 727,-50 728,16 729,-80 730,42 731,3 732,5 733,-18 734,15 735,-12 736,14 737,-10 738,-29 739,45 740,-34 741,18 742,-10 743,12 744,4 745,-34 746,33 747,-21 748,21 749,-3 750,7 751,-18 752,13 753,-10 754,19 755,3 756,-3 757,29 758,-45 759,42 760,-19 761,17 762,-7 763,12 764,-7 765,-4 766,21 767,-3 768,10 769,2 770,-8 771,5 772,-4 773,4 774,-6 775,22 776,-1 777,-22 778,13 779,-9 780,-9 781,7 782,-23 783,24 784,-9 785,3 786,0 787,-8 788,5 789,-7 790,3 791,-2 792,-11 793,26 794,-18 795,14 796,2 797,-1 798,12 799,-17 800,11 801,-15 802,1 803,2 804,-13 805,10 806,0 807,-4 808,9 809,-6 810,-1 811,18 812,-33 813,21 814,2 815,-16 816,16 817,-24 818,12 819,3 820,-8 821,19 822,-11 823,21 824,12 825,-10 826,22 827,-14 828,19 829,-12 830,15 831,-12 832,-11 833,14 834,-8 835,11 836,-9 837,4 838,1 839,-1 840,0 841,-1 842,16 843,-7 844,11 845,-9 846,13 847,-14 848,3 849,3 850,-6 851,-1 852,-24 853,19 854,-16 855,8 856,-8 857,-9 858,8 859,-7 860,14 861,-15 862,-3 863,5 864,-8 865,5 866,-16 867,12 868,-17 869,10 870,7 871,-5 872,6 873,2 874,-11 875,11 876,-10 877,8 878,-10 879,15 880,-5 881,-1 882,18 883,-12 884,19 885,-4 886,-4 887,13 888,-13 889,18 890,-18 891,5 892,1 893,1 894,-1 895,-1 896,1 897,-3 898,2 899,-5 900,4 901,-2 902,-3 903,4 904,-2 905,13 906,-14 907,-2 908,7 909,-7 910,6 911,-3 912,2 913,1 914,-5 915,6 916,-5 917,5 918,-2 919,-14 920,16 921,-17 922,8 923,4 924,-14 925,20 926,-12 927,5 928,-5 929,8 930,-4 931,-5 932,6 933,-8 934,8 935,-6 936,7 937,-5 938,4 939,-4 940,-2 941,8 942,-6 943,6 944,-6 945,7 946,-2 947,2 948,-3 949,9 950,-7 951,4 952,-6 953,-1 954,-4 955,-5 956,9 957,-12 958,8 959,-9 960,13 961,-4 962,-1 963,-1 964,2 965,0 966,-2 967,6 968,-5 969,8 970,-7 971,8 972,-7 973,0 974,3 975,-8 976,18 977,-14 978,14 979,-15 980,6 981,-1 982,-10 983,6 984,-5 985,5 986,-5 987,7 988,-3 989,6 990,-3 991,-4 992,6 993,-9 994,7 995,-2 996,4 997,-5 998,3 999,4" fill="none" stroke="#0552f8" stroke-width="0.8" vector-effect="non-scaling-stroke" stroke-linejoin="round"/>
<rect x="404.80" y="122.30" width="140.80" height="36.50" fill="none" stroke="#838383" stroke-width="1.3"/>
<line x1="440.00" y1="122.30" x2="440.00" y2="123.90" stroke="#444" stroke-width="0.8"/>
<line x1="440.00" y1="158.80" x2="440.00" y2="157.20" stroke="#444" stroke-width="0.8"/>
<line x1="475.20" y1="122.30" x2="475.20" y2="123.90" stroke="#444" stroke-width="0.8"/>
<line x1="475.20" y1="158.80" x2="475.20" y2="157.20" stroke="#444" stroke-width="0.8"/>
<line x1="510.40" y1="122.30" x2="510.40" y2="123.90" stroke="#444" stroke-width="0.8"/>
<line x1="510.40" y1="158.80" x2="510.40" y2="157.20" stroke="#444" stroke-width="0.8"/>
<text x="403.50" y="124.30" text-anchor="end" font-size="8.8" fill="#242424" class="ns">1.05</text>
<text x="403.50" y="161.70" text-anchor="end" font-size="8.8" fill="#242424" class="ns">0.92</text>
<text x="405.30" y="168.30" text-anchor="middle" font-size="8.8" fill="#242424" class="ns">−2</text>
<text x="440.50" y="168.30" text-anchor="middle" font-size="8.8" fill="#242424" class="ns">0</text>
<text x="475.70" y="168.30" text-anchor="middle" font-size="8.8" fill="#242424" class="ns">2</text>
<text x="510.90" y="168.30" text-anchor="middle" font-size="8.8" fill="#242424" class="ns">4</text>
<text x="546.10" y="168.30" text-anchor="middle" font-size="8.8" fill="#242424" class="ns">6</text>
<rect x="462.80" y="121.20" width="15.8" height="11.0" fill="#fff" stroke="#ff5f24" stroke-width="1.2"/>
<text x="470.70" y="129.80" text-anchor="middle" font-size="7.9" stroke-width="0.15" stroke="#ff5f24" class="ns" fill="#ff5f24">B9</text>
<line x1="42.30" y1="177.10" x2="42.30" y2="212.90" stroke="#ebebeb" stroke-width="0.7"/>
<line x1="51.10" y1="177.10" x2="51.10" y2="212.90" stroke="#ebebeb" stroke-width="0.7"/>
<line x1="59.90" y1="177.10" x2="59.90" y2="212.90" stroke="#ebebeb" stroke-width="0.7"/>
<line x1="68.70" y1="177.10" x2="68.70" y2="212.90" stroke="#ebebeb" stroke-width="0.7"/>
<line x1="77.50" y1="177.10" x2="77.50" y2="212.90" stroke="#ebebeb" stroke-width="0.7"/>
<line x1="86.30" y1="177.10" x2="86.30" y2="212.90" stroke="#ebebeb" stroke-width="0.7"/>
<line x1="95.10" y1="177.10" x2="95.10" y2="212.90" stroke="#ebebeb" stroke-width="0.7"/>
<line x1="103.90" y1="177.10" x2="103.90" y2="212.90" stroke="#ebebeb" stroke-width="0.7"/>
<line x1="112.70" y1="177.10" x2="112.70" y2="212.90" stroke="#ebebeb" stroke-width="0.7"/>
<line x1="121.50" y1="177.10" x2="121.50" y2="212.90" stroke="#ebebeb" stroke-width="0.7"/>
<line x1="130.30" y1="177.10" x2="130.30" y2="212.90" stroke="#ebebeb" stroke-width="0.7"/>
<line x1="139.10" y1="177.10" x2="139.10" y2="212.90" stroke="#ebebeb" stroke-width="0.7"/>
<line x1="147.90" y1="177.10" x2="147.90" y2="212.90" stroke="#ebebeb" stroke-width="0.7"/>
<line x1="156.70" y1="177.10" x2="156.70" y2="212.90" stroke="#ebebeb" stroke-width="0.7"/>
<line x1="165.50" y1="177.10" x2="165.50" y2="212.90" stroke="#ebebeb" stroke-width="0.7"/>
<line x1="33.50" y1="181.10" x2="174.30" y2="181.10" stroke="#f4f4f4" stroke-width="0.7"/>
<line x1="33.50" y1="186.90" x2="174.30" y2="186.90" stroke="#ebebeb" stroke-width="0.7"/>
<line x1="33.50" y1="201.10" x2="174.30" y2="201.10" stroke="#ebebeb" stroke-width="0.7"/>
<line x1="33.50" y1="208.10" x2="174.30" y2="208.10" stroke="#f4f4f4" stroke-width="0.7"/>
<line x1="68.80" y1="177.10" x2="68.80" y2="212.90" stroke="#6fa8f5" stroke-width="1.15"/>
<line x1="76.80" y1="177.10" x2="76.80" y2="212.90" stroke="#f7946a" stroke-width="1.15"/>
<line x1="133.60" y1="177.10" x2="133.60" y2="212.90" stroke="#6fa8f5" stroke-width="1.15"/>
<line x1="141.30" y1="177.10" x2="141.30" y2="212.90" stroke="#f7946a" stroke-width="1.15"/>
<polyline transform="translate(33.50,197.30) scale(0.140941,0.1)" points="0,5 1,3 2,-8 3,12 4,-3 5,13 6,13 7,-12 8,14 9,-13 10,8 11,-9 12,9 13,-9 14,1 15,8 16,-5 17,8 18,-11 19,7 20,-6 21,5 22,-8 23,4 24,-8 25,7 26,-3 27,4 28,0 29,3 30,-5 31,4 32,-3 33,2 34,5 35,-5 36,7 37,-1 38,-2 39,12 40,-9 41,15 42,-8 43,-6 44,10 45,-2 46,-1 47,7 48,-5 49,12 50,-9 51,1 52,1 53,-5 54,11 55,-6 56,0 57,0 58,-13 59,6 60,2 61,-14 62,12 63,-10 64,9 65,0 66,-12 67,16 68,-19 69,23 70,-21 71,22 72,-9 73,12 74,-14 75,13 76,0 77,-12 78,12 79,-14 80,11 81,-13 82,4 83,-9 84,12 85,3 86,-13 87,14 88,-16 89,-2 90,19 91,-10 92,3 93,-7 94,2 95,7 96,-9 97,9 98,-8 99,0 100,0 101,-7 102,6 103,-7 104,6 105,-6 106,5 107,-2 108,6 109,-7 110,1 111,11 112,-8 113,7 114,-1 115,-2 116,8 117,-14 118,11 119,2 120,-4 121,9 122,-4 123,-4 124,6 125,-9 126,13 127,-11 128,14 129,-6 130,6 131,-4 132,6 133,-2 134,-3 135,5 136,-6 137,6 138,-7 139,6 140,-7 141,4 142,-7 143,3 144,1 145,-6 146,5 147,-1 148,-4 149,0 150,-1 151,10 152,-8 153,6 154,-5 155,7 156,-8 157,6 158,-5 159,0 160,6 161,-7 162,11 163,-8 164,9 165,8 166,-18 167,17 168,-10 169,13 170,-9 171,-4 172,10 173,-8 174,-5 175,11 176,-8 177,13 178,-9 179,1 180,4 181,-9 182,4 183,11 184,-11 185,7 186,-13 187,12 188,5 189,0 190,5 191,-4 192,9 193,-11 194,8 195,-13 196,15 197,-14 198,5 199,16 200,-9 201,13 202,-12 203,12 204,-6 205,0 206,7 207,-4 208,2 209,-8 210,6 211,-5 212,6 213,-5 214,7 215,-8 216,2 217,4 218,-4 219,15 220,-10 221,16 222,-12 223,9 224,-6 225,-2 226,6 227,-13 228,9 229,-4 230,-10 231,7 232,0 233,-6 234,-13 235,18 236,-7 237,10 238,-14 239,9 240,-20 241,10 242,6 243,-1 244,3 245,-7 246,5 247,-6 248,3 249,-3 250,3 251,4 252,-8 253,12 254,-12 255,12 256,0 257,-12 258,18 259,-26 260,30 261,-25 262,23 263,-29 264,33 265,-35 266,50 267,-24 268,22 269,-22 270,23 271,-21 272,25 273,-23 274,10 275,3 276,-2 277,12 278,-11 279,12 280,-32 281,33 282,-6 283,-6 284,24 285,-14 286,-16 287,7 288,-5 289,21 290,-15 291,7 292,-25 293,32 294,-27 295,9 296,1 297,-18 298,19 299,-13 300,8 301,-6 302,7 303,-15 304,21 305,-8 306,3 307,-6 308,-1 309,0 310,-12 311,14 312,-13 313,-1 314,20 315,-30 316,16 317,-26 318,12 319,3 320,-34 321,61 322,-41 323,11 324,17 325,2 326,9 327,-17 328,41 329,-41 330,18 331,13 332,-28 333,44 334,-11 335,-3 336,49 337,-23 338,22 339,-20 340,10 341,31 342,-31 343,63 344,-18 345,-1 346,2 347,-16 348,13 349,-24 350,29 351,-29 352,-7 353,12 354,-11 355,18 356,-28 357,30 358,-7 359,17 360,-32 361,28 362,-19 363,13 364,3 365,-18 366,9 367,6 368,0 369,-1 370,3 371,3 372,-14 373,34 374,-77 375,37 376,30 377,-34 378,9 379,-19 380,20 381,-11 382,6 383,-19 384,12 385,-25 386,22 387,-25 388,27 389,-29 390,6 391,-12 392,-13 393,-1 394,-20 395,42 396,-60 397,45 398,-4 399,-19 400,54 401,-43 402,4 403,9 404,-29 405,39 406,-41 407,22 408,-24 409,17 410,30 411,-34 412,46 413,-14 414,-11 415,29 416,-16 417,50 418,-34 419,-12 420,5 421,-16 422,27 423,-8 424,12 425,-4 426,-16 427,19 428,-38 429,20 430,-49 431,40 432,-32 433,16 434,7 435,-23 436,43 437,-62 438,40 439,-49 440,35 441,4 442,-59 443,30 444,12 445,8 446,-5 447,-19 448,13 449,-16 450,9 451,-6 452,5 453,1 454,-4 455,14 456,-4 457,-34 458,29 459,7 460,-35 461,42 462,-20 463,5 464,7 465,-8 466,17 467,-12 468,31 469,-19 470,11 471,-33 472,-4 473,1 474,-25 475,54 476,-38 477,-13 478,-3 479,-13 480,6 481,-57 482,20 483,-19 484,28 485,-15 486,16 487,-13 488,-2 489,16 490,-17 491,10 492,17 493,-14 494,17 495,-39 496,62 497,-72 498,46 499,-48 500,30 501,-21 502,13 503,11 504,-31 505,40 506,6 507,-75 508,33 509,-58 510,17 511,-38 512,24 513,-31 514,11 515,-13 516,7 517,-5 518,-31 519,44 520,-34 521,-23 522,18 523,-29 524,39 525,-27 526,50 527,-18 528,-10 529,37 530,-44 531,23 532,-35 533,-13 534,25 535,-16 536,16 537,3 538,-38 539,30 540,-28 541,37 542,17 543,-62 544,63 545,-56 546,27 547,-33 548,35 549,-3 550,7 551,8 552,-20 553,13 554,-29 555,35 556,-25 557,29 558,-27 559,-13 560,28 561,-16 562,8 563,-6 564,3 565,-11 566,-1 567,22 568,-35 569,35 570,-24 571,36 572,-35 573,33 574,-8 575,13 576,7 577,-23 578,28 579,-37 580,5 581,18 582,-27 583,24 584,-37 585,23 586,-9 587,33 588,-52 589,49 590,-14 591,-3 592,-15 593,-20 594,71 595,-45 596,57 597,-24 598,-16 599,4 600,-13 601,-7 602,-53 603,48 604,-61 605,60 606,-36 607,-14 608,-17 609,-51 610,45 611,2 612,-34 613,23 614,-21 615,-4 616,9 617,-64 618,48 619,-7 620,-28 621,5 622,-20 623,52 624,-30 625,7 626,20 627,-43 628,36 629,5 630,-31 631,56 632,2 633,-27 634,54 635,-29 636,17 637,0 638,0 639,-8 640,-18 641,11 642,-24 643,16 644,-9 645,-15 646,46 647,-57 648,58 649,-26 650,42 651,11 652,-50 653,35 654,-25 655,39 656,-67 657,26 658,29 659,-59 660,52 661,-44 662,20 663,9 664,-8 665,23 666,-20 667,7 668,-15 669,22 670,-2 671,3 672,-5 673,-20 674,28 675,-19 676,19 677,-33 678,33 679,-28 680,9 681,-9 682,-34 683,49 684,-14 685,31 686,-9 687,-8 688,25 689,-15 690,11 691,-21 692,19 693,-22 694,31 695,-13 696,35 697,-16 698,34 699,25 700,-23 701,28 702,-35 703,37 704,-29 705,12 706,-83 707,77 708,51 709,-39 710,-6 711,13 712,-13 713,5 714,-65 715,36 716,-40 717,-24 718,-1 719,-21 720,19 721,-49 722,39 723,-33 724,30 725,-46 726,21 727,-21 728,-32 729,28 730,-55 731,28 732,-2 733,17 734,3 735,-35 736,26 737,-17 738,20 739,-9 740,9 741,19 742,-15 743,18 744,-32 745,24 746,-38 747,2 748,-5 749,-61 750,42 751,-60 752,19 753,11 754,-38 755,46 756,-43 757,47 758,-10 759,-58 760,26 761,-68 762,25 763,-21 764,14 765,22 766,-35 767,35 768,-8 769,8 770,-6 771,10 772,1 773,-10 774,12 775,0 776,-24 777,33 778,-36 779,30 780,12 781,-13 782,12 783,-23 784,10 785,1 786,-20 787,13 788,-18 789,10 790,-1 791,-12 792,12 793,-23 794,24 795,-5 796,7 797,23 798,-19 799,5 800,10 801,-20 802,26 803,-18 804,17 805,-26 806,10 807,-24 808,16 809,-17 810,19 811,3 812,-15 813,20 814,-17 815,18 816,-7 817,-3 818,2 819,-4 820,7 821,2 822,-1 823,3 824,-8 825,9 826,-6 827,5 828,-6 829,-2 830,5 831,-6 832,4 833,-4 834,-6 835,15 836,-14 837,-2 838,10 839,-9 840,11 841,-9 842,12 843,6 844,-11 845,7 846,-10 847,24 848,-25 849,10 850,-11 851,21 852,1 853,-6 854,11 855,-8 856,10 857,-13 858,14 859,-11 860,8 861,-6 862,-1 863,9 864,-18 865,15 866,-14 867,-2 868,3 869,-1 870,3 871,-8 872,3 873,-4 874,-5 875,6 876,-8 877,2 878,1 879,-8 880,8 881,-12 882,9 883,10 884,-19 885,9 886,-8 887,3 888,8 889,-9 890,16 891,-12 892,22 893,-4 894,5 895,7 896,-10 897,14 898,-16 899,17 900,-18 901,18 902,-26 903,5 904,-2 905,-12 906,3 907,-11 908,15 909,-10 910,7 911,-12 912,0 913,1 914,-20 915,13 916,-17 917,14 918,-22 919,15 920,-18 921,12 922,-7 923,4 924,6 925,-8 926,10 927,0 928,3 929,3 930,-3 931,7 932,-15 933,15 934,-25 935,29 936,-7 937,-5 938,10 939,-8 940,6 941,9 942,-24 943,6 944,13 945,-18 946,10 947,-8 948,9 949,-2 950,-9 951,18 952,-17 953,15 954,5 955,-11 956,24 957,-19 958,3 959,15 960,-21 961,19 962,-10 963,4 964,6 965,-4 966,11 967,-15 968,2 969,19 970,-15 971,19 972,-14 973,12 974,-11 975,6 976,6 977,-9 978,1 979,9 980,-13 981,10 982,-3 983,-11 984,9 985,-9 986,5 987,-6 988,14 989,-6 990,3 991,13 992,-16 993,19 994,-8 995,9 996,1 997,-5 998,9 999,-6" fill="none" stroke="#0552f8" stroke-width="0.8" vector-effect="non-scaling-stroke" stroke-linejoin="round"/>
<rect x="33.50" y="177.10" width="140.80" height="35.80" fill="none" stroke="#838383" stroke-width="1.3"/>
<line x1="68.70" y1="177.10" x2="68.70" y2="178.70" stroke="#444" stroke-width="0.8"/>
<line x1="68.70" y1="212.90" x2="68.70" y2="211.30" stroke="#444" stroke-width="0.8"/>
<line x1="103.90" y1="177.10" x2="103.90" y2="178.70" stroke="#444" stroke-width="0.8"/>
<line x1="103.90" y1="212.90" x2="103.90" y2="211.30" stroke="#444" stroke-width="0.8"/>
<line x1="139.10" y1="177.10" x2="139.10" y2="178.70" stroke="#444" stroke-width="0.8"/>
<line x1="139.10" y1="212.90" x2="139.10" y2="211.30" stroke="#444" stroke-width="0.8"/>
<text x="32.20" y="179.10" text-anchor="end" font-size="8.8" fill="#242424" class="ns">1.05</text>
<text x="32.20" y="215.80" text-anchor="end" font-size="8.8" fill="#242424" class="ns">0.92</text>
<text x="34.00" y="222.40" text-anchor="middle" font-size="8.8" fill="#242424" class="ns">−2</text>
<text x="69.20" y="222.40" text-anchor="middle" font-size="8.8" fill="#242424" class="ns">0</text>
<text x="104.40" y="222.40" text-anchor="middle" font-size="8.8" fill="#242424" class="ns">2</text>
<text x="139.60" y="222.40" text-anchor="middle" font-size="8.8" fill="#242424" class="ns">4</text>
<text x="174.80" y="222.40" text-anchor="middle" font-size="8.8" fill="#242424" class="ns">6</text>
<rect x="84.60" y="176.00" width="15.8" height="11.0" fill="#fff" stroke="#ff5f24" stroke-width="1.2"/>
<text x="92.50" y="184.60" text-anchor="middle" font-size="7.9" font-weight="bold" class="ns" fill="#ff5f24">B10</text>
<line x1="228.00" y1="177.10" x2="228.00" y2="212.90" stroke="#ebebeb" stroke-width="0.7"/>
<line x1="236.80" y1="177.10" x2="236.80" y2="212.90" stroke="#ebebeb" stroke-width="0.7"/>
<line x1="245.60" y1="177.10" x2="245.60" y2="212.90" stroke="#ebebeb" stroke-width="0.7"/>
<line x1="254.40" y1="177.10" x2="254.40" y2="212.90" stroke="#ebebeb" stroke-width="0.7"/>
<line x1="263.20" y1="177.10" x2="263.20" y2="212.90" stroke="#ebebeb" stroke-width="0.7"/>
<line x1="272.00" y1="177.10" x2="272.00" y2="212.90" stroke="#ebebeb" stroke-width="0.7"/>
<line x1="280.80" y1="177.10" x2="280.80" y2="212.90" stroke="#ebebeb" stroke-width="0.7"/>
<line x1="289.60" y1="177.10" x2="289.60" y2="212.90" stroke="#ebebeb" stroke-width="0.7"/>
<line x1="298.40" y1="177.10" x2="298.40" y2="212.90" stroke="#ebebeb" stroke-width="0.7"/>
<line x1="307.20" y1="177.10" x2="307.20" y2="212.90" stroke="#ebebeb" stroke-width="0.7"/>
<line x1="316.00" y1="177.10" x2="316.00" y2="212.90" stroke="#ebebeb" stroke-width="0.7"/>
<line x1="324.80" y1="177.10" x2="324.80" y2="212.90" stroke="#ebebeb" stroke-width="0.7"/>
<line x1="333.60" y1="177.10" x2="333.60" y2="212.90" stroke="#ebebeb" stroke-width="0.7"/>
<line x1="342.40" y1="177.10" x2="342.40" y2="212.90" stroke="#ebebeb" stroke-width="0.7"/>
<line x1="351.20" y1="177.10" x2="351.20" y2="212.90" stroke="#ebebeb" stroke-width="0.7"/>
<line x1="219.20" y1="181.10" x2="360.00" y2="181.10" stroke="#f4f4f4" stroke-width="0.7"/>
<line x1="219.20" y1="186.90" x2="360.00" y2="186.90" stroke="#ebebeb" stroke-width="0.7"/>
<line x1="219.20" y1="201.10" x2="360.00" y2="201.10" stroke="#ebebeb" stroke-width="0.7"/>
<line x1="219.20" y1="208.10" x2="360.00" y2="208.10" stroke="#f4f4f4" stroke-width="0.7"/>
<line x1="254.50" y1="177.10" x2="254.50" y2="212.90" stroke="#6fa8f5" stroke-width="1.15"/>
<line x1="262.50" y1="177.10" x2="262.50" y2="212.90" stroke="#f7946a" stroke-width="1.15"/>
<line x1="319.30" y1="177.10" x2="319.30" y2="212.90" stroke="#6fa8f5" stroke-width="1.15"/>
<line x1="327.00" y1="177.10" x2="327.00" y2="212.90" stroke="#f7946a" stroke-width="1.15"/>
<polyline transform="translate(219.20,194.80) scale(0.140941,0.1)" points="0,-4 1,9 2,-8 3,10 4,-10 5,11 6,3 7,-6 8,10 9,-10 10,8 11,3 12,0 13,5 14,-6 15,5 16,-6 17,5 18,-6 19,7 20,-1 21,-4 22,6 23,-3 24,11 25,-7 26,4 27,3 28,0 29,5 30,-7 31,9 32,-7 33,7 34,-10 35,8 36,-11 37,8 38,2 39,-10 40,10 41,-9 42,13 43,0 44,-15 45,10 46,-9 47,12 48,-4 49,2 50,-5 51,5 52,5 53,-5 54,4 55,-2 56,5 57,-5 58,7 59,0 60,-7 61,9 62,-9 63,8 64,-12 65,7 66,5 67,-9 68,7 69,-7 70,7 71,-9 72,8 73,-7 74,4 75,-4 76,2 77,-3 78,3 79,-8 80,4 81,-7 82,-4 83,14 84,-7 85,5 86,7 87,-8 88,11 89,-10 90,7 91,-6 92,8 93,-6 94,9 95,-8 96,1 97,10 98,-6 99,6 100,-3 101,1 102,1 103,-6 104,9 105,-11 106,4 107,7 108,-11 109,13 110,-6 111,3 112,-1 113,-5 114,5 115,-4 116,5 117,-3 118,-2 119,7 120,-10 121,7 122,-9 123,7 124,-1 125,-15 126,13 127,-6 128,6 129,-5 130,-6 131,11 132,-14 133,18 134,-4 135,2 136,0 137,-2 138,5 139,-7 140,8 141,-8 142,9 143,-2 144,1 145,7 146,-5 147,9 148,-8 149,7 150,-10 151,7 152,-6 153,8 154,-3 155,0 156,1 157,-5 158,3 159,-3 160,3 161,-6 162,8 163,-9 164,7 165,-7 166,7 167,-6 168,6 169,-3 170,-5 171,7 172,-9 173,-2 174,-2 175,4 176,0 177,0 178,2 179,-7 180,12 181,-3 182,0 183,2 184,-10 185,10 186,-1 187,-10 188,6 189,-16 190,6 191,-4 192,-2 193,4 194,-5 195,2 196,-3 197,3 198,3 199,-2 200,14 201,-19 202,19 203,-8 204,-3 205,15 206,-5 207,5 208,-1 209,-13 210,5 211,-12 212,1 213,-2 214,-14 215,15 216,-39 217,30 218,-30 219,35 220,-1 221,-35 222,40 223,-16 224,10 225,-12 226,-15 227,35 228,-46 229,30 230,-18 231,-12 232,21 233,-33 234,24 235,-26 236,9 237,23 238,-23 239,18 240,-5 241,8 242,-2 243,-4 244,11 245,-8 246,-8 247,11 248,-22 249,18 250,-28 251,7 252,21 253,-9 254,7 255,-33 256,20 257,-19 258,14 259,-14 260,19 261,-6 262,-16 263,9 264,-11 265,8 266,-10 267,16 268,-5 269,6 270,-5 271,-11 272,39 273,-18 274,-6 275,30 276,-22 277,15 278,-8 279,3 280,-5 281,11 282,-19 283,34 284,-27 285,4 286,-21 287,-22 288,15 289,-28 290,37 291,-14 292,0 293,-5 294,6 295,-9 296,-19 297,13 298,-10 299,7 300,23 301,-51 302,31 303,-31 304,43 305,-11 306,13 307,28 308,-27 309,42 310,-43 311,24 312,1 313,-15 314,13 315,-15 316,12 317,-11 318,17 319,11 320,-43 321,6 322,13 323,-16 324,13 325,-34 326,5 327,42 328,-32 329,22 330,-14 331,-5 332,22 333,-13 334,18 335,2 336,-15 337,10 338,-26 339,19 340,-22 341,20 342,-15 343,-29 344,37 345,-7 346,-4 347,-6 348,-33 349,33 350,23 351,-48 352,18 353,-17 354,22 355,-31 356,16 357,-23 358,20 359,-4 360,-1 361,12 362,-23 363,26 364,-18 365,-4 366,2 367,-24 368,71 369,-25 370,-10 371,-3 372,-20 373,4 374,-8 375,11 376,-4 377,24 378,-29 379,51 380,-56 381,19 382,63 383,-41 384,92 385,-91 386,64 387,-42 388,51 389,-99 390,99 391,9 392,-3 393,25 394,-10 395,18 396,-12 397,24 398,20 399,-40 400,77 401,-69 402,70 403,-16 404,28 405,11 406,-35 407,20 408,-48 409,22 410,-20 411,7 412,-18 413,14 414,3 415,-11 416,41 417,-31 418,13 419,-26 420,13 421,10 422,-41 423,56 424,-24 425,18 426,26 427,-19 428,12 429,-17 430,33 431,-13 432,25 433,-6 434,-17 435,19 436,-12 437,28 438,-7 439,-1 440,-6 441,13 442,15 443,-31 444,43 445,-49 446,44 447,-24 448,15 449,-24 450,27 451,0 452,-1 453,8 454,-24 455,7 456,2 457,-7 458,12 459,-14 460,31 461,-20 462,24 463,-14 464,-4 465,15 466,-37 467,7 468,-16 469,-6 470,21 471,-17 472,3 473,-7 474,17 475,-15 476,27 477,-34 478,13 479,20 480,-24 481,45 482,-30 483,40 484,-37 485,16 486,-10 487,-1 488,10 489,-19 490,24 491,-17 492,10 493,21 494,-63 495,30 496,-7 497,-10 498,7 499,-34 500,17 501,-27 502,6 503,-11 504,7 505,10 506,-21 507,22 508,-35 509,6 510,-15 511,-16 512,4 513,-9 514,22 515,-29 516,22 517,-34 518,4 519,32 520,-45 521,-16 522,46 523,-38 524,38 525,-10 526,-11 527,19 528,-25 529,32 530,-8 531,10 532,0 533,-5 534,7 535,-9 536,24 537,-26 538,25 539,-18 540,-2 541,54 542,-46 543,1 544,23 545,-10 546,15 547,-35 548,9 549,-6 550,-24 551,30 552,-42 553,17 554,-37 555,34 556,-9 557,-15 558,13 559,-9 560,11 561,6 562,-4 563,12 564,-28 565,27 566,2 567,16 568,-6 569,-23 570,22 571,-26 572,22 573,-43 574,69 575,-49 576,31 577,-57 578,41 579,-40 580,49 581,-45 582,46 583,-28 584,36 585,-17 586,-20 587,21 588,-4 589,4 590,15 591,-19 592,12 593,-8 594,-6 595,39 596,-20 597,20 598,5 599,-24 600,22 601,-5 602,16 603,25 604,-52 605,46 606,-20 607,5 608,14 609,-20 610,34 611,-30 612,-9 613,27 614,-36 615,47 616,-23 617,11 618,-11 619,15 620,-20 621,29 622,-24 623,24 624,8 625,-2 626,6 627,-11 628,9 629,7 630,-2 631,-6 632,-43 633,32 634,-26 635,20 636,-33 637,20 638,-31 639,18 640,-52 641,19 642,-22 643,27 644,13 645,-7 646,4 647,2 648,5 649,-46 650,58 651,-36 652,21 653,62 654,-91 655,135 656,-18 657,28 658,29 659,-58 660,68 661,-72 662,-15 663,-2 664,-75 665,84 666,-105 667,52 668,41 669,-46 670,45 671,-141 672,105 673,-10 674,13 675,-12 676,-18 677,-1 678,-13 679,27 680,-20 681,3 682,10 683,1 684,56 685,-45 686,70 687,-120 688,115 689,-10 690,-68 691,46 692,-57 693,30 694,-85 695,-18 696,46 697,-98 698,100 699,-58 700,103 701,-64 702,80 703,-73 704,60 705,-54 706,-5 707,-119 708,77 709,11 710,14 711,-11 712,38 713,-31 714,24 715,6 716,-26 717,19 718,-39 719,30 720,-26 721,11 722,-47 723,33 724,7 725,-46 726,18 727,-11 728,6 729,12 730,-14 731,30 732,-32 733,7 734,9 735,-3 736,10 737,-24 738,14 739,15 740,-22 741,20 742,-15 743,18 744,-14 745,7 746,-2 747,3 748,10 749,-6 750,6 751,-6 752,11 753,-4 754,13 755,-8 756,14 757,10 758,-14 759,16 760,-12 761,6 762,-3 763,2 764,6 765,-7 766,6 767,-5 768,4 769,-1 770,-2 771,6 772,1 773,6 774,-12 775,8 776,0 777,-5 778,7 779,-5 780,-2 781,9 782,-6 783,17 784,-8 785,1 786,20 787,-11 788,3 789,2 790,1 791,5 792,-7 793,25 794,-27 795,19 796,-23 797,20 798,-9 799,-8 800,5 801,-12 802,2 803,10 804,-14 805,18 806,-19 807,18 808,-9 809,-3 810,8 811,-28 812,24 813,-6 814,15 815,-4 816,-16 817,17 818,-1 819,-9 820,7 821,-7 822,10 823,-8 824,8 825,-5 826,-2 827,11 828,-10 829,11 830,-1 831,-4 832,19 833,-14 834,12 835,-12 836,11 837,-7 838,-10 839,2 840,-8 841,4 842,3 843,13 844,-8 845,25 846,-25 847,11 848,20 849,-13 850,12 851,-10 852,4 853,3 854,-8 855,8 856,-13 857,16 858,-9 859,12 860,12 861,-4 862,2 863,-11 864,15 865,-12 866,12 867,3 868,-5 869,3 870,-19 871,19 872,-17 873,12 874,7 875,-18 876,6 877,7 878,-15 879,16 880,-16 881,0 882,10 883,-17 884,12 885,-14 886,11 887,-7 888,4 889,7 890,-7 891,4 892,-6 893,6 894,-9 895,5 896,-5 897,3 898,-3 899,-8 900,8 901,-22 902,5 903,4 904,-9 905,11 906,-6 907,14 908,-3 909,-7 910,16 911,-20 912,14 913,-21 914,3 915,9 916,-9 917,6 918,-6 919,12 920,-12 921,-4 922,10 923,-28 924,19 925,-15 926,-10 927,15 928,-13 929,24 930,-15 931,-5 932,16 933,-16 934,2 935,1 936,-2 937,7 938,-6 939,-2 940,9 941,-14 942,12 943,15 944,-13 945,12 946,-11 947,7 948,5 949,0 950,8 951,-9 952,11 953,-6 954,1 955,1 956,-7 957,10 958,-5 959,-3 960,8 961,-2 962,2 963,2 964,-3 965,-1 966,-15 967,18 968,-13 969,17 970,-10 971,0 972,5 973,-9 974,16 975,-18 976,6 977,3 978,-5 979,7 980,-3 981,7 982,1 983,-8 984,9 985,-9 986,5 987,1 988,-11 989,13 990,-18 991,20 992,-11 993,4 994,5 995,-15 996,12 997,-14 998,12 999,11" fill="none" stroke="#0552f8" stroke-width="0.8" vector-effect="non-scaling-stroke" stroke-linejoin="round"/>
<rect x="219.20" y="177.10" width="140.80" height="35.80" fill="none" stroke="#838383" stroke-width="1.3"/>
<line x1="254.40" y1="177.10" x2="254.40" y2="178.70" stroke="#444" stroke-width="0.8"/>
<line x1="254.40" y1="212.90" x2="254.40" y2="211.30" stroke="#444" stroke-width="0.8"/>
<line x1="289.60" y1="177.10" x2="289.60" y2="178.70" stroke="#444" stroke-width="0.8"/>
<line x1="289.60" y1="212.90" x2="289.60" y2="211.30" stroke="#444" stroke-width="0.8"/>
<line x1="324.80" y1="177.10" x2="324.80" y2="178.70" stroke="#444" stroke-width="0.8"/>
<line x1="324.80" y1="212.90" x2="324.80" y2="211.30" stroke="#444" stroke-width="0.8"/>
<text x="217.90" y="179.10" text-anchor="end" font-size="8.8" fill="#242424" class="ns">1.05</text>
<text x="217.90" y="215.80" text-anchor="end" font-size="8.8" fill="#242424" class="ns">0.92</text>
<text x="219.70" y="222.40" text-anchor="middle" font-size="8.8" fill="#242424" class="ns">−2</text>
<text x="254.90" y="222.40" text-anchor="middle" font-size="8.8" fill="#242424" class="ns">0</text>
<text x="290.10" y="222.40" text-anchor="middle" font-size="8.8" fill="#242424" class="ns">2</text>
<text x="325.30" y="222.40" text-anchor="middle" font-size="8.8" fill="#242424" class="ns">4</text>
<text x="360.50" y="222.40" text-anchor="middle" font-size="8.8" fill="#242424" class="ns">6</text>
<rect x="275.00" y="176.00" width="15.8" height="11.0" fill="#fff" stroke="#ff5f24" stroke-width="1.2"/>
<text x="282.90" y="184.60" text-anchor="middle" font-size="7.9" stroke-width="0.15" stroke="#ff5f24" class="ns" fill="#ff5f24">B11</text>
<line x1="413.60" y1="177.10" x2="413.60" y2="212.90" stroke="#ebebeb" stroke-width="0.7"/>
<line x1="422.40" y1="177.10" x2="422.40" y2="212.90" stroke="#ebebeb" stroke-width="0.7"/>
<line x1="431.20" y1="177.10" x2="431.20" y2="212.90" stroke="#ebebeb" stroke-width="0.7"/>
<line x1="440.00" y1="177.10" x2="440.00" y2="212.90" stroke="#ebebeb" stroke-width="0.7"/>
<line x1="448.80" y1="177.10" x2="448.80" y2="212.90" stroke="#ebebeb" stroke-width="0.7"/>
<line x1="457.60" y1="177.10" x2="457.60" y2="212.90" stroke="#ebebeb" stroke-width="0.7"/>
<line x1="466.40" y1="177.10" x2="466.40" y2="212.90" stroke="#ebebeb" stroke-width="0.7"/>
<line x1="475.20" y1="177.10" x2="475.20" y2="212.90" stroke="#ebebeb" stroke-width="0.7"/>
<line x1="484.00" y1="177.10" x2="484.00" y2="212.90" stroke="#ebebeb" stroke-width="0.7"/>
<line x1="492.80" y1="177.10" x2="492.80" y2="212.90" stroke="#ebebeb" stroke-width="0.7"/>
<line x1="501.60" y1="177.10" x2="501.60" y2="212.90" stroke="#ebebeb" stroke-width="0.7"/>
<line x1="510.40" y1="177.10" x2="510.40" y2="212.90" stroke="#ebebeb" stroke-width="0.7"/>
<line x1="519.20" y1="177.10" x2="519.20" y2="212.90" stroke="#ebebeb" stroke-width="0.7"/>
<line x1="528.00" y1="177.10" x2="528.00" y2="212.90" stroke="#ebebeb" stroke-width="0.7"/>
<line x1="536.80" y1="177.10" x2="536.80" y2="212.90" stroke="#ebebeb" stroke-width="0.7"/>
<line x1="404.80" y1="181.10" x2="545.60" y2="181.10" stroke="#f4f4f4" stroke-width="0.7"/>
<line x1="404.80" y1="186.90" x2="545.60" y2="186.90" stroke="#ebebeb" stroke-width="0.7"/>
<line x1="404.80" y1="201.10" x2="545.60" y2="201.10" stroke="#ebebeb" stroke-width="0.7"/>
<line x1="404.80" y1="208.10" x2="545.60" y2="208.10" stroke="#f4f4f4" stroke-width="0.7"/>
<line x1="440.10" y1="177.10" x2="440.10" y2="212.90" stroke="#6fa8f5" stroke-width="1.15"/>
<line x1="448.10" y1="177.10" x2="448.10" y2="212.90" stroke="#f7946a" stroke-width="1.15"/>
<line x1="504.90" y1="177.10" x2="504.90" y2="212.90" stroke="#6fa8f5" stroke-width="1.15"/>
<line x1="512.60" y1="177.10" x2="512.60" y2="212.90" stroke="#f7946a" stroke-width="1.15"/>
<polyline transform="translate(404.80,194.65) scale(0.140941,0.1)" points="0,-4 1,3 2,-4 3,3 4,-4 5,8 6,-5 7,4 8,-1 9,5 10,5 11,-17 12,17 13,-10 14,6 15,11 16,-7 17,5 18,-4 19,4 20,5 21,-9 22,6 23,-5 24,3 25,-13 26,5 27,-15 28,11 29,-20 30,1 31,14 32,-10 33,7 34,-4 35,4 36,5 37,-7 38,4 39,-5 40,5 41,-7 42,2 43,0 44,0 45,11 46,-4 47,2 48,-7 49,9 50,2 51,-7 52,12 53,-14 54,10 55,-8 56,9 57,-4 58,-1 59,9 60,-10 61,12 62,-7 63,-2 64,6 65,-13 66,7 67,-4 68,5 69,-4 70,3 71,-3 72,-1 73,5 74,-10 75,11 76,-4 77,-1 78,12 79,-15 80,11 81,-9 82,15 83,-15 84,14 85,-12 86,15 87,-9 88,0 89,0 90,-13 91,13 92,-6 93,1 94,4 95,-14 96,11 97,-10 98,0 99,5 100,-6 101,2 102,1 103,-8 104,7 105,-11 106,4 107,-4 108,0 109,11 110,-5 111,12 112,-7 113,-3 114,3 115,-6 116,6 117,-3 118,2 119,0 120,1 121,2 122,-5 123,4 124,6 125,-10 126,13 127,-11 128,11 129,-8 130,1 131,1 132,-8 133,6 134,-3 135,-5 136,11 137,-6 138,8 139,-15 140,0 141,13 142,-12 143,12 144,-9 145,-5 146,6 147,-1 148,-1 149,4 150,-1 151,5 152,-5 153,8 154,-8 155,12 156,-13 157,11 158,-17 159,9 160,-9 161,4 162,-8 163,10 164,-1 165,5 166,10 167,-11 168,7 169,-1 170,-7 171,6 172,-8 173,3 174,3 175,3 176,9 177,-12 178,11 179,-7 180,-3 181,8 182,-6 183,-4 184,8 185,-17 186,6 187,-4 188,9 189,-12 190,6 191,-3 192,-12 193,18 194,-7 195,6 196,4 197,-14 198,20 199,-31 200,12 201,-19 202,8 203,21 204,-18 205,23 206,-21 207,17 208,2 209,-6 210,4 211,-7 212,8 213,-8 214,8 215,-6 216,18 217,-18 218,9 219,-1 220,0 221,5 222,-9 223,16 224,-7 225,-14 226,24 227,-7 228,-1 229,2 230,-9 231,10 232,-10 233,25 234,-28 235,11 236,4 237,-16 238,35 239,-38 240,9 241,1 242,-5 243,10 244,-16 245,21 246,-17 247,6 248,8 249,-21 250,28 251,-27 252,24 253,-4 254,-2 255,23 256,-12 257,28 258,-7 259,-15 260,17 261,-19 262,10 263,-4 264,12 265,-21 266,0 267,1 268,-7 269,22 270,-10 271,8 272,1 273,-11 274,23 275,-35 276,11 277,-15 278,-10 279,26 280,-28 281,20 282,-3 283,0 284,2 285,-14 286,9 287,-13 288,6 289,-9 290,14 291,12 292,-12 293,12 294,-32 295,11 296,-20 297,21 298,-17 299,16 300,-27 301,13 302,-15 303,-35 304,33 305,-14 306,8 307,-1 308,-4 309,10 310,-1 311,-12 312,9 313,-7 314,23 315,-22 316,31 317,-23 318,19 319,-15 320,9 321,-11 322,-3 323,19 324,-25 325,22 326,-21 327,49 328,-40 329,9 330,6 331,-29 332,15 333,-5 334,1 335,-6 336,-8 337,27 338,-32 339,6 340,18 341,-32 342,30 343,-32 344,37 345,-48 346,28 347,1 348,-10 349,12 350,-10 351,2 352,-4 353,-5 354,21 355,-26 356,36 357,-5 358,-4 359,0 360,-1 361,21 362,-12 363,0 364,2 365,-9 366,23 367,-31 368,37 369,-11 370,0 371,17 372,-34 373,33 374,-21 375,-10 376,26 377,-11 378,3 379,-5 380,-21 381,18 382,-12 383,44 384,-32 385,60 386,0 387,-44 388,-94 389,60 390,6 391,9 392,-23 393,17 394,-14 395,4 396,-8 397,2 398,15 399,-26 400,26 401,-33 402,7 403,-11 404,-23 405,6 406,-32 407,28 408,-32 409,31 410,-17 411,7 412,20 413,-26 414,9 415,-4 416,6 417,-7 418,-2 419,12 420,-11 421,15 422,-23 423,15 424,5 425,-21 426,12 427,-9 428,-7 429,20 430,-24 431,31 432,-25 433,5 434,6 435,-5 436,14 437,-19 438,30 439,-17 440,20 441,-1 442,4 443,25 444,-14 445,40 446,-22 447,16 448,-9 449,6 450,0 451,-10 452,-1 453,-9 454,-1 455,15 456,-6 457,-10 458,9 459,-16 460,9 461,-22 462,4 463,-10 464,3 465,-18 466,39 467,-39 468,11 469,20 470,-22 471,11 472,-23 473,52 474,-56 475,24 476,-42 477,0 478,15 479,-13 480,38 481,-15 482,29 483,-32 484,-9 485,31 486,-25 487,31 488,-25 489,13 490,-9 491,2 492,2 493,-50 494,53 495,-21 496,-17 497,30 498,-16 499,9 500,-16 501,29 502,-31 503,25 504,-24 505,13 506,-14 507,8 508,-6 509,-6 510,-1 511,0 512,9 513,-33 514,30 515,-5 516,-25 517,38 518,-43 519,-2 520,17 521,-35 522,26 523,-28 524,-19 525,35 526,-16 527,52 528,-11 529,-44 530,18 531,-29 532,43 533,-36 534,6 535,6 536,-20 537,16 538,-12 539,14 540,-10 541,1 542,15 543,-10 544,22 545,-16 546,25 547,-10 548,23 549,-27 550,13 551,-14 552,15 553,-17 554,13 555,-5 556,-3 557,15 558,-7 559,-7 560,12 561,-13 562,-5 563,2 564,-8 565,9 566,1 567,17 568,-20 569,15 570,-28 571,32 572,-29 573,24 574,-23 575,10 576,24 577,-20 578,30 579,-24 580,18 581,-18 582,-3 583,36 584,-35 585,48 586,-51 587,14 588,-32 589,21 590,12 591,-40 592,33 593,-20 594,11 595,-9 596,-1 597,0 598,-23 599,14 600,-7 601,9 602,-7 603,-7 604,6 605,-19 606,28 607,-25 608,27 609,-9 610,2 611,20 612,-20 613,10 614,-35 615,0 616,6 617,-11 618,6 619,-23 620,10 621,-10 622,8 623,-14 624,50 625,-32 626,-5 627,7 628,-33 629,37 630,-42 631,32 632,0 633,-22 634,32 635,-11 636,9 637,-12 638,25 639,-8 640,-12 641,26 642,-34 643,51 644,-55 645,27 646,-28 647,23 648,-29 649,29 650,-18 651,-3 652,30 653,-61 654,74 655,-74 656,32 657,14 658,-53 659,43 660,-37 661,4 662,34 663,-35 664,59 665,-36 666,42 667,-43 668,44 669,-31 670,-6 671,19 672,-47 673,88 674,-7 675,-79 676,88 677,-62 678,62 679,-72 680,74 681,-24 682,31 683,-16 684,25 685,50 686,-73 687,-2 688,28 689,-4 690,62 691,-65 692,42 693,44 694,-40 695,66 696,-5 697,-27 698,27 699,-21 700,9 701,7 702,-33 703,21 704,19 705,-44 706,32 707,-56 708,46 709,-95 710,73 711,-87 712,49 713,-64 714,34 715,-6 716,21 717,-16 718,10 719,-22 720,21 721,-19 722,47 723,-31 724,21 725,-23 726,1 727,11 728,-12 729,37 730,-18 731,11 732,16 733,-22 734,19 735,-5 736,4 737,16 738,-6 739,17 740,-22 741,19 742,-23 743,13 744,-11 745,6 746,-5 747,8 748,-13 749,11 750,-4 751,-8 752,13 753,-3 754,-1 755,9 756,-18 757,8 758,-11 759,-15 760,12 761,-11 762,1 763,-12 764,13 765,-14 766,12 767,-11 768,20 769,-5 770,-11 771,21 772,-15 773,14 774,-4 775,-3 776,4 777,-5 778,7 779,-15 780,22 781,-14 782,15 783,-19 784,22 785,-16 786,16 787,-12 788,12 789,-5 790,-1 791,2 792,-7 793,9 794,-9 795,7 796,-6 797,0 798,2 799,-11 800,3 801,-2 802,-1 803,6 804,-7 805,12 806,-13 807,4 808,4 809,-19 810,8 811,-12 812,7 813,-9 814,12 815,-17 816,20 817,-18 818,22 819,-17 820,1 821,-5 822,11 823,-17 824,13 825,-11 826,7 827,1 828,-8 829,4 830,3 831,-10 832,17 833,-15 834,13 835,-10 836,13 837,-15 838,0 839,13 840,-26 841,23 842,-10 843,16 844,2 845,-3 846,7 847,-15 848,14 849,-19 850,11 851,-9 852,18 853,-13 854,5 855,16 856,-21 857,24 858,-13 859,1 860,4 861,-12 862,15 863,1 864,-18 865,8 866,-8 867,-2 868,9 869,-12 870,7 871,0 872,-18 873,9 874,-12 875,10 876,-10 877,10 878,1 879,-10 880,23 881,-23 882,24 883,-16 884,5 885,-11 886,2 887,15 888,-13 889,11 890,-19 891,20 892,5 893,-24 894,22 895,-15 896,18 897,-8 898,-13 899,12 900,-19 901,7 902,-7 903,7 904,2 905,-9 906,16 907,-15 908,13 909,-8 910,8 911,-6 912,11 913,-8 914,10 915,0 916,1 917,3 918,-6 919,8 920,-9 921,3 922,8 923,-5 924,17 925,-16 926,21 927,5 928,-20 929,15 930,-16 931,8 932,-8 933,-9 934,17 935,-4 936,6 937,-8 938,6 939,-1 940,1 941,3 942,-4 943,6 944,-14 945,15 946,8 947,-11 948,3 949,6 950,-13 951,13 952,0 953,-17 954,17 955,-15 956,9 957,-3 958,4 959,-8 960,-4 961,12 962,-9 963,1 964,8 965,-5 966,8 967,-9 968,-6 969,6 970,-17 971,23 972,-19 973,5 974,12 975,-9 976,6 977,-7 978,3 979,9 980,-18 981,7 982,17 983,-21 984,18 985,-10 986,-7 987,22 988,-23 989,20 990,-13 991,-3 992,4 993,-18 994,16 995,2 996,-3 997,15 998,-17 999,19" fill="none" stroke="#0552f8" stroke-width="0.8" vector-effect="non-scaling-stroke" stroke-linejoin="round"/>
<rect x="404.80" y="177.10" width="140.80" height="35.80" fill="none" stroke="#838383" stroke-width="1.3"/>
<line x1="440.00" y1="177.10" x2="440.00" y2="178.70" stroke="#444" stroke-width="0.8"/>
<line x1="440.00" y1="212.90" x2="440.00" y2="211.30" stroke="#444" stroke-width="0.8"/>
<line x1="475.20" y1="177.10" x2="475.20" y2="178.70" stroke="#444" stroke-width="0.8"/>
<line x1="475.20" y1="212.90" x2="475.20" y2="211.30" stroke="#444" stroke-width="0.8"/>
<line x1="510.40" y1="177.10" x2="510.40" y2="178.70" stroke="#444" stroke-width="0.8"/>
<line x1="510.40" y1="212.90" x2="510.40" y2="211.30" stroke="#444" stroke-width="0.8"/>
<text x="403.50" y="179.10" text-anchor="end" font-size="8.8" fill="#242424" class="ns">1.05</text>
<text x="403.50" y="215.80" text-anchor="end" font-size="8.8" fill="#242424" class="ns">0.92</text>
<text x="405.30" y="222.40" text-anchor="middle" font-size="8.8" fill="#242424" class="ns">−2</text>
<text x="440.50" y="222.40" text-anchor="middle" font-size="8.8" fill="#242424" class="ns">0</text>
<text x="475.70" y="222.40" text-anchor="middle" font-size="8.8" fill="#242424" class="ns">2</text>
<text x="510.90" y="222.40" text-anchor="middle" font-size="8.8" fill="#242424" class="ns">4</text>
<text x="546.10" y="222.40" text-anchor="middle" font-size="8.8" fill="#242424" class="ns">6</text>
<rect x="462.80" y="176.00" width="15.8" height="11.0" fill="#fff" stroke="#ff5f24" stroke-width="1.2"/>
<text x="470.70" y="184.60" text-anchor="middle" font-size="7.9" stroke-width="0.15" stroke="#ff5f24" class="ns" fill="#ff5f24">B12</text>
<text x="107.10" y="8.80" font-size="9.2" fill="#2d7cf6" stroke="#2d7cf6" stroke-width="0.25">Front out</text>
<text x="147.30" y="8.80" font-size="9.2" fill="#ff5f24" stroke="#ff5f24" stroke-width="0.25">Rear out</text>
<line x1="129.30" y1="11.10" x2="131.29" y2="12.22" stroke="#1060ff" stroke-width="1.0"/><polygon points="133.90,13.70 130.50,13.62 132.08,10.83" fill="#1060ff"/>
<line x1="148.70" y1="10.00" x2="144.46" y2="12.21" stroke="#ff4a10" stroke-width="1.0"/><polygon points="141.80,13.60 143.72,10.79 145.20,13.63" fill="#ff4a10"/>
<text x="39.80" y="65.20" font-size="9.2" fill="#2d7cf6" stroke="#2d7cf6" stroke-width="0.25">Front in</text>
<text x="76.50" y="65.50" font-size="9.2" fill="#ff5f24" stroke="#ff5f24" stroke-width="0.25">Rear in</text>
<line x1="57.30" y1="59.50" x2="65.35" y2="53.83" stroke="#1060ff" stroke-width="1.0"/><polygon points="67.80,52.10 66.27,55.14 64.43,52.52" fill="#1060ff"/>
<line x1="82.70" y1="58.10" x2="80.73" y2="54.09" stroke="#ff4a10" stroke-width="1.0"/><polygon points="79.40,51.40 82.16,53.38 79.29,54.80" fill="#ff4a10"/>
<text x="288.10" y="8.80" font-size="9.2" fill="#2d7cf6" stroke="#2d7cf6" stroke-width="0.25">Front out</text>
<text x="327.70" y="8.80" font-size="9.2" fill="#ff5f24" stroke="#ff5f24" stroke-width="0.25">Rear out</text>
<line x1="315.00" y1="11.10" x2="316.99" y2="12.22" stroke="#1060ff" stroke-width="1.0"/><polygon points="319.60,13.70 316.20,13.62 317.78,10.83" fill="#1060ff"/>
<line x1="334.40" y1="10.00" x2="330.16" y2="12.21" stroke="#ff4a10" stroke-width="1.0"/><polygon points="327.50,13.60 329.42,10.79 330.90,13.63" fill="#ff4a10"/>
<text x="222.90" y="65.20" font-size="9.2" fill="#2d7cf6" stroke="#2d7cf6" stroke-width="0.25">Front in</text>
<text x="259.90" y="65.40" font-size="9.2" fill="#ff5f24" stroke="#ff5f24" stroke-width="0.25">Rear in</text>
<line x1="241.60" y1="60.00" x2="249.95" y2="54.13" stroke="#1060ff" stroke-width="1.0"/><polygon points="252.40,52.40 250.87,55.43 249.03,52.82" fill="#1060ff"/>
<line x1="266.70" y1="57.90" x2="265.38" y2="55.11" stroke="#ff4a10" stroke-width="1.0"/><polygon points="264.10,52.40 266.83,54.43 263.94,55.80" fill="#ff4a10"/>
<text x="474.10" y="8.80" font-size="9.2" fill="#2d7cf6" stroke="#2d7cf6" stroke-width="0.25">Front out</text>
<text x="513.30" y="8.80" font-size="9.2" fill="#ff5f24" stroke="#ff5f24" stroke-width="0.25">Rear out</text>
<line x1="500.60" y1="11.10" x2="502.59" y2="12.22" stroke="#1060ff" stroke-width="1.0"/><polygon points="505.20,13.70 501.80,13.62 503.38,10.83" fill="#1060ff"/>
<line x1="520.00" y1="10.00" x2="515.76" y2="12.21" stroke="#ff4a10" stroke-width="1.0"/><polygon points="513.10,13.60 515.02,10.79 516.50,13.63" fill="#ff4a10"/>
<text x="407.00" y="65.20" font-size="9.2" fill="#2d7cf6" stroke="#2d7cf6" stroke-width="0.25">Front in</text>
<text x="443.30" y="65.40" font-size="9.2" fill="#ff5f24" stroke="#ff5f24" stroke-width="0.25">Rear in</text>
<line x1="425.20" y1="59.20" x2="433.48" y2="53.83" stroke="#1060ff" stroke-width="1.0"/><polygon points="436.00,52.20 434.35,55.17 432.61,52.49" fill="#1060ff"/>
<line x1="450.80" y1="58.40" x2="449.20" y2="54.75" stroke="#ff4a10" stroke-width="1.0"/><polygon points="448.00,52.00 450.67,54.11 447.74,55.39" fill="#ff4a10"/>
<text x="108.30" y="64.00" font-size="9.2" fill="#2d7cf6" stroke="#2d7cf6" stroke-width="0.25">Front out</text>
<text x="147.00" y="64.00" font-size="9.2" fill="#ff5f24" stroke="#ff5f24" stroke-width="0.25">Rear out</text>
<line x1="129.30" y1="65.40" x2="131.29" y2="66.52" stroke="#1060ff" stroke-width="1.0"/><polygon points="133.90,68.00 130.50,67.92 132.08,65.13" fill="#1060ff"/>
<line x1="148.70" y1="64.30" x2="144.46" y2="66.51" stroke="#ff4a10" stroke-width="1.0"/><polygon points="141.80,67.90 143.72,65.09 145.20,67.93" fill="#ff4a10"/>
<text x="40.60" y="118.70" font-size="9.2" fill="#2d7cf6" stroke="#2d7cf6" stroke-width="0.25">Front in</text>
<text x="76.70" y="119.00" font-size="9.2" fill="#ff5f24" stroke="#ff5f24" stroke-width="0.25">Rear in</text>
<line x1="57.90" y1="113.80" x2="65.72" y2="107.82" stroke="#1060ff" stroke-width="1.0"/><polygon points="68.10,106.00 66.69,109.09 64.75,106.55" fill="#1060ff"/>
<line x1="83.20" y1="111.50" x2="81.23" y2="108.18" stroke="#ff4a10" stroke-width="1.0"/><polygon points="79.70,105.60 82.61,107.36 79.85,109.00" fill="#ff4a10"/>
<text x="293.60" y="63.90" font-size="9.2" fill="#2d7cf6" stroke="#2d7cf6" stroke-width="0.25">Front out</text>
<text x="330.60" y="63.70" font-size="9.2" fill="#ff5f24" stroke="#ff5f24" stroke-width="0.25">Rear out</text>
<line x1="315.00" y1="65.40" x2="316.99" y2="66.52" stroke="#1060ff" stroke-width="1.0"/><polygon points="319.60,68.00 316.20,67.92 317.78,65.13" fill="#1060ff"/>
<line x1="334.40" y1="64.30" x2="330.16" y2="66.51" stroke="#ff4a10" stroke-width="1.0"/><polygon points="327.50,67.90 329.42,65.09 330.90,67.93" fill="#ff4a10"/>
<text x="224.90" y="119.00" font-size="9.2" fill="#2d7cf6" stroke="#2d7cf6" stroke-width="0.25">Front in</text>
<text x="261.10" y="119.00" font-size="9.2" fill="#ff5f24" stroke="#ff5f24" stroke-width="0.25">Rear in</text>
<line x1="242.30" y1="113.80" x2="250.12" y2="107.82" stroke="#1060ff" stroke-width="1.0"/><polygon points="252.50,106.00 251.09,109.09 249.15,106.55" fill="#1060ff"/>
<line x1="267.50" y1="111.50" x2="265.60" y2="108.20" stroke="#ff4a10" stroke-width="1.0"/><polygon points="264.10,105.60 266.98,107.40 264.21,109.00" fill="#ff4a10"/>
<text x="473.80" y="63.90" font-size="9.2" fill="#2d7cf6" stroke="#2d7cf6" stroke-width="0.25">Front out</text>
<text x="513.30" y="63.90" font-size="9.2" fill="#ff5f24" stroke="#ff5f24" stroke-width="0.25">Rear out</text>
<line x1="500.60" y1="65.40" x2="502.59" y2="66.52" stroke="#1060ff" stroke-width="1.0"/><polygon points="505.20,68.00 501.80,67.92 503.38,65.13" fill="#1060ff"/>
<line x1="520.00" y1="64.30" x2="515.76" y2="66.51" stroke="#ff4a10" stroke-width="1.0"/><polygon points="513.10,67.90 515.02,65.09 516.50,67.93" fill="#ff4a10"/>
<text x="407.80" y="118.70" font-size="9.2" fill="#2d7cf6" stroke="#2d7cf6" stroke-width="0.25">Front in</text>
<text x="444.00" y="118.90" font-size="9.2" fill="#ff5f24" stroke="#ff5f24" stroke-width="0.25">Rear in</text>
<line x1="425.90" y1="113.50" x2="433.68" y2="107.78" stroke="#1060ff" stroke-width="1.0"/><polygon points="436.10,106.00 434.63,109.07 432.74,106.49" fill="#1060ff"/>
<line x1="451.10" y1="111.50" x2="449.65" y2="108.33" stroke="#ff4a10" stroke-width="1.0"/><polygon points="448.40,105.60 451.10,107.66 448.19,108.99" fill="#ff4a10"/>
<text x="106.20" y="117.40" font-size="9.2" fill="#2d7cf6" stroke="#2d7cf6" stroke-width="0.25">Front out</text>
<text x="147.00" y="118.80" font-size="9.2" fill="#ff5f24" stroke="#ff5f24" stroke-width="0.25">Rear out</text>
<line x1="129.30" y1="119.20" x2="131.29" y2="120.32" stroke="#1060ff" stroke-width="1.0"/><polygon points="133.90,121.80 130.50,121.72 132.08,118.93" fill="#1060ff"/>
<line x1="148.70" y1="118.10" x2="144.46" y2="120.31" stroke="#ff4a10" stroke-width="1.0"/><polygon points="141.80,121.70 143.72,118.89 145.20,121.73" fill="#ff4a10"/>
<text x="40.20" y="172.90" font-size="9.2" fill="#2d7cf6" stroke="#2d7cf6" stroke-width="0.25">Front in</text>
<text x="76.00" y="173.00" font-size="9.2" fill="#ff5f24" stroke="#ff5f24" stroke-width="0.25">Rear in</text>
<line x1="57.90" y1="167.80" x2="65.72" y2="161.82" stroke="#1060ff" stroke-width="1.0"/><polygon points="68.10,160.00 66.69,163.09 64.75,160.55" fill="#1060ff"/>
<line x1="83.20" y1="165.50" x2="81.23" y2="162.18" stroke="#ff4a10" stroke-width="1.0"/><polygon points="79.70,159.60 82.61,161.36 79.85,163.00" fill="#ff4a10"/>
<text x="292.00" y="117.60" font-size="9.2" fill="#2d7cf6" stroke="#2d7cf6" stroke-width="0.25">Front out</text>
<text x="329.80" y="118.40" font-size="9.2" fill="#ff5f24" stroke="#ff5f24" stroke-width="0.25">Rear out</text>
<line x1="315.00" y1="119.20" x2="316.99" y2="120.32" stroke="#1060ff" stroke-width="1.0"/><polygon points="319.60,121.80 316.20,121.72 317.78,118.93" fill="#1060ff"/>
<line x1="334.40" y1="118.10" x2="330.16" y2="120.31" stroke="#ff4a10" stroke-width="1.0"/><polygon points="327.50,121.70 329.42,118.89 330.90,121.73" fill="#ff4a10"/>
<text x="224.20" y="172.70" font-size="9.2" fill="#2d7cf6" stroke="#2d7cf6" stroke-width="0.25">Front in</text>
<text x="259.00" y="173.00" font-size="9.2" fill="#ff5f24" stroke="#ff5f24" stroke-width="0.25">Rear in</text>
<line x1="242.20" y1="167.80" x2="251.31" y2="161.67" stroke="#1060ff" stroke-width="1.0"/><polygon points="253.80,160.00 252.20,163.00 250.42,160.35" fill="#1060ff"/>
<line x1="267.50" y1="165.50" x2="265.60" y2="162.20" stroke="#ff4a10" stroke-width="1.0"/><polygon points="264.10,159.60 266.98,161.40 264.21,163.00" fill="#ff4a10"/>
<text x="474.10" y="117.30" font-size="9.2" fill="#2d7cf6" stroke="#2d7cf6" stroke-width="0.25">Front out</text>
<text x="512.60" y="117.30" font-size="9.2" fill="#ff5f24" stroke="#ff5f24" stroke-width="0.25">Rear out</text>
<line x1="500.60" y1="119.20" x2="502.59" y2="120.32" stroke="#1060ff" stroke-width="1.0"/><polygon points="505.20,121.80 501.80,121.72 503.38,118.93" fill="#1060ff"/>
<line x1="520.00" y1="118.10" x2="515.76" y2="120.31" stroke="#ff4a10" stroke-width="1.0"/><polygon points="513.10,121.70 515.02,118.89 516.50,121.73" fill="#ff4a10"/>
<text x="407.80" y="172.70" font-size="9.2" fill="#2d7cf6" stroke="#2d7cf6" stroke-width="0.25">Front in</text>
<text x="446.00" y="173.00" font-size="9.2" fill="#ff5f24" stroke="#ff5f24" stroke-width="0.25">Rear in</text>
<line x1="425.90" y1="167.50" x2="433.68" y2="161.78" stroke="#1060ff" stroke-width="1.0"/><polygon points="436.10,160.00 434.63,163.07 432.74,160.49" fill="#1060ff"/>
<line x1="451.10" y1="165.50" x2="449.65" y2="162.33" stroke="#ff4a10" stroke-width="1.0"/><polygon points="448.40,159.60 451.10,161.66 448.19,162.99" fill="#ff4a10"/>
<text x="106.20" y="170.90" font-size="9.2" fill="#2d7cf6" stroke="#2d7cf6" stroke-width="0.25">Front out</text>
<text x="147.00" y="170.90" font-size="9.2" fill="#ff5f24" stroke="#ff5f24" stroke-width="0.25">Rear out</text>
<line x1="129.30" y1="174.00" x2="131.29" y2="175.12" stroke="#1060ff" stroke-width="1.0"/><polygon points="133.90,176.60 130.50,176.52 132.08,173.73" fill="#1060ff"/>
<line x1="148.70" y1="172.90" x2="144.46" y2="175.11" stroke="#ff4a10" stroke-width="1.0"/><polygon points="141.80,176.50 143.72,173.69 145.20,176.53" fill="#ff4a10"/>
<text x="38.90" y="227.20" font-size="9.2" fill="#2d7cf6" stroke="#2d7cf6" stroke-width="0.25">Front in</text>
<text x="75.20" y="229.70" font-size="9.2" fill="#ff5f24" stroke="#ff5f24" stroke-width="0.25">Rear in</text>
<line x1="57.60" y1="219.90" x2="65.94" y2="214.77" stroke="#1060ff" stroke-width="1.0"/><polygon points="68.50,213.20 66.78,216.13 65.11,213.41" fill="#1060ff"/>
<line x1="83.70" y1="221.50" x2="81.33" y2="217.14" stroke="#ff4a10" stroke-width="1.0"/><polygon points="79.90,214.50 82.74,216.37 79.93,217.90" fill="#ff4a10"/>
<text x="293.40" y="170.60" font-size="9.2" fill="#2d7cf6" stroke="#2d7cf6" stroke-width="0.25">Front out</text>
<text x="332.00" y="170.60" font-size="9.2" fill="#ff5f24" stroke="#ff5f24" stroke-width="0.25">Rear out</text>
<line x1="315.00" y1="174.00" x2="316.99" y2="175.12" stroke="#1060ff" stroke-width="1.0"/><polygon points="319.60,176.60 316.20,176.52 317.78,173.73" fill="#1060ff"/>
<line x1="334.40" y1="172.90" x2="330.16" y2="175.11" stroke="#ff4a10" stroke-width="1.0"/><polygon points="327.50,176.50 329.42,173.69 330.90,176.53" fill="#ff4a10"/>
<text x="222.20" y="227.00" font-size="9.2" fill="#2d7cf6" stroke="#2d7cf6" stroke-width="0.25">Front in</text>
<text x="260.30" y="229.70" font-size="9.2" fill="#ff5f24" stroke="#ff5f24" stroke-width="0.25">Rear in</text>
<line x1="241.50" y1="220.50" x2="250.57" y2="214.71" stroke="#1060ff" stroke-width="1.0"/><polygon points="253.10,213.10 251.43,216.06 249.71,213.36" fill="#1060ff"/>
<line x1="267.50" y1="220.90" x2="265.43" y2="216.69" stroke="#ff4a10" stroke-width="1.0"/><polygon points="264.10,214.00 266.86,215.98 263.99,217.40" fill="#ff4a10"/>
<text x="474.10" y="170.60" font-size="9.2" fill="#2d7cf6" stroke="#2d7cf6" stroke-width="0.25">Front out</text>
<text x="512.60" y="170.60" font-size="9.2" fill="#ff5f24" stroke="#ff5f24" stroke-width="0.25">Rear out</text>
<line x1="500.60" y1="174.00" x2="502.59" y2="175.12" stroke="#1060ff" stroke-width="1.0"/><polygon points="505.20,176.60 501.80,176.52 503.38,173.73" fill="#1060ff"/>
<line x1="520.00" y1="172.90" x2="515.76" y2="175.11" stroke="#ff4a10" stroke-width="1.0"/><polygon points="513.10,176.50 515.02,173.69 516.50,176.53" fill="#ff4a10"/>
<text x="407.20" y="228.00" font-size="9.2" fill="#2d7cf6" stroke="#2d7cf6" stroke-width="0.25">Front in</text>
<text x="445.30" y="229.70" font-size="9.2" fill="#ff5f24" stroke="#ff5f24" stroke-width="0.25">Rear in</text>
<line x1="425.90" y1="221.50" x2="433.68" y2="215.78" stroke="#1060ff" stroke-width="1.0"/><polygon points="436.10,214.00 434.63,217.07 432.74,214.49" fill="#1060ff"/>
<line x1="451.80" y1="220.90" x2="449.84" y2="217.33" stroke="#ff4a10" stroke-width="1.0"/><polygon points="448.40,214.70 451.25,216.56 448.44,218.10" fill="#ff4a10"/>
<text x="278" y="245.8" text-anchor="middle" font-size="8.6" fill="#242424" stroke="#242424" stroke-width="0.12" class="ns">Time[sec]</text>
<text transform="translate(8.7,120.5) rotate(-90)" text-anchor="middle" font-size="8.8" fill="#242424" stroke="#242424" stroke-width="0.12" class="ns">Acceleration</text></svg>
</body></html>
